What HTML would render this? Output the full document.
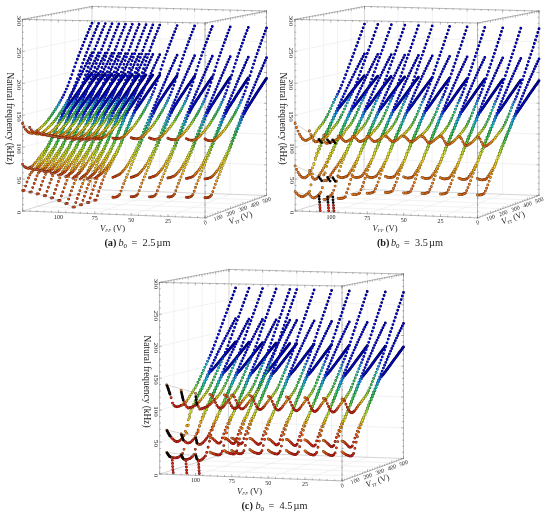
<!DOCTYPE html>
<html><head><meta charset="utf-8"><title>Natural frequency vs voltages</title>
<style>html,body{margin:0;padding:0;background:#fff}svg{display:block;filter:blur(.38px)}</style></head>
<body>
<svg width="550" height="517" viewBox="0 0 550 517" font-family="'Liberation Serif', serif" stroke-linecap="round">
<g transform="translate(0 0)">
<path d="M22.6 179.1L91.6 159M91.6 159L266.5 164.8M22.6 147.1L91.7 128.5M91.7 128.5L266.5 134M22.5 115.2L91.8 98M91.8 98L266.5 103.2M22.5 83.3L91.8 67.4M91.8 67.4L266.5 72.5M22.4 51.3L91.9 36.9M91.9 36.9L266.5 41.8M37.1 206.5L37 16.7M37.1 206.5L217.9 213.2M51.2 202.1L51.2 14M51.2 202.1L230.5 208.6M64.9 197.8L65.1 11.4M64.9 197.8L242.8 204.1M78.4 193.6L78.7 8.9M78.4 193.6L254.8 199.8M230.1 194.3L230.2 10M168 216.5L230.1 194.3M194.4 193L194.6 9.1M131.2 215.1L194.4 193M159.5 191.8L159.8 8.2M94.8 213.7L159.5 191.8M125.2 190.7L125.6 7.3M58.6 212.4L125.2 190.7" stroke="#e4e4e4" stroke-width=".5" fill="none"/>
<path d="M91.5 189.5L92 6.4M22.7 211L91.5 189.5M91.5 189.5L266.5 195.5" stroke="#aaa" stroke-width=".5" fill="none"/>
<path d="M22.7 211L22.4 19.4M205 217.9L205 23M266.5 195.5L266.5 11M22.4 19.4L92 6.4M92 6.4L266.5 11M266.5 11L205 23M205 23L22.4 19.4M22.7 211L205 217.9M205 217.9L266.5 195.5M22.7 211h2M266.5 195.5h-2M205 217.9h1.4M22.7 204.6h1M266.5 189.3h-1M205 211.4h0.7M22.7 198.2h1M266.5 183.2h-1M205 204.9h0.7M22.7 191.8h1M266.5 177.1h-1M205 198.4h0.7M22.7 185.5h1M266.5 170.9h-1M205 191.9h0.7M22.6 179.1h2M266.5 164.8h-2M205 185.4h1.4M22.6 172.7h1M266.5 158.6h-1M205 178.9h0.7M22.6 166.3h1M266.5 152.4h-1M205 172.4h0.7M22.6 159.9h1M266.5 146.3h-1M205 165.9h0.7M22.6 153.5h1M266.5 140.2h-1M205 159.4h0.7M22.6 147.1h2M266.5 134h-2M205 152.9h1.4M22.6 140.7h1M266.5 127.9h-1M205 146.4h0.7M22.6 134.4h1M266.5 121.7h-1M205 139.9h0.7M22.6 128h1M266.5 115.5h-1M205 133.4h0.7M22.6 121.6h1M266.5 109.4h-1M205 126.9h0.7M22.5 115.2h2M266.5 103.2h-2M205 120.5h1.4M22.5 108.8h1M266.5 97.1h-1M205 114h0.7M22.5 102.4h1M266.5 91h-1M205 107.5h0.7M22.5 96h1M266.5 84.8h-1M205 101h0.7M22.5 89.7h1M266.5 78.7h-1M205 94.5h0.7M22.5 83.3h2M266.5 72.5h-2M205 88h1.4M22.5 76.9h1M266.5 66.3h-1M205 81.5h0.7M22.5 70.5h1M266.5 60.2h-1M205 75h0.7M22.5 64.1h1M266.5 54h-1M205 68.5h0.7M22.5 57.7h1M266.5 47.9h-1M205 62h0.7M22.4 51.3h2M266.5 41.8h-2M205 55.5h1.4M22.4 44.9h1M266.5 35.6h-1M205 49h0.7M22.4 38.6h1M266.5 29.4h-1M205 42.5h0.7M22.4 32.2h1M266.5 23.3h-1M205 36h0.7M22.4 25.8h1M266.5 17.2h-1M205 29.5h0.7M22.4 19.4h2M266.5 11h-2M205 23h1.4M205 217.9v-2M205 23v2M266.5 11v2M197.6 217.6v-1M197.6 22.9v1M259.2 10.8v1M190.1 217.3v-1M190.1 22.7v1M251.9 10.6v1M182.7 217.1v-1M182.7 22.6v1M244.6 10.4v1M175.3 216.8v-1M175.3 22.4v1M237.4 10.2v1M168 216.5v-2M167.9 22.3v2M230.2 10v2M160.6 216.2v-1M160.5 22.1v1M223 9.9v1M153.2 215.9v-1M153.1 22v1M215.9 9.7v1M145.9 215.7v-1M145.8 21.8v1M208.8 9.5v1M138.5 215.4v-1M138.4 21.7v1M201.7 9.3v1M131.2 215.1v-2M131.1 21.5v2M194.6 9.1v2M123.9 214.8v-1M123.8 21.4v1M187.6 8.9v1M116.6 214.6v-1M116.4 21.3v1M180.6 8.7v1M109.3 214.3v-1M109.1 21.1v1M173.6 8.6v1M102 214v-1M101.9 21v1M166.7 8.4v1M94.8 213.7v-2M94.6 20.8v2M159.8 8.2v2M87.5 213.5v-1M87.3 20.7v1M152.9 8v1M80.3 213.2v-1M80 20.5v1M146 7.8v1M73 212.9v-1M72.8 20.4v1M139.2 7.6v1M65.8 212.6v-1M65.6 20.3v1M132.3 7.5v1M58.6 212.4v-2M58.3 20.1v2M125.6 7.3v2M51.4 212.1v-1M51.1 20v1M118.8 7.1v1M44.2 211.8v-1M43.9 19.8v1M112.1 6.9v1M37 211.5v-1M36.7 19.7v1M105.3 6.8v1M29.9 211.3v-1M29.6 19.5v1M98.7 6.6v1M22.7 211v-2M22.4 19.4v2M92 6.4v2M205 217.9v-2M22.4 19.4v2M205 23v2M207.6 217v-1M25.3 18.9v1M207.6 22.5v1M210.2 216v-1M28.3 18.3v1M210.2 22v1M212.8 215.1v-1M31.2 17.8v1M212.8 21.5v1M215.3 214.1v-1M34.1 17.2v1M215.3 21v1M217.9 213.2v-2M37 16.7v2M217.9 20.5v2M220.4 212.3v-1M39.9 16.1v1M220.4 20v1M223 211.4v-1M42.7 15.6v1M223 19.5v1M225.5 210.4v-1M45.6 15.1v1M225.5 19v1M228 209.5v-1M48.4 14.5v1M228 18.5v1M230.5 208.6v-2M51.2 14v2M230.5 18v2M232.9 207.7v-1M54 13.5v1M232.9 17.5v1M235.4 206.8v-1M56.8 13v1M235.4 17.1v1M237.9 205.9v-1M59.6 12.5v1M237.9 16.6v1M240.3 205v-1M62.4 11.9v1M240.3 16.1v1M242.8 204.1v-2M65.1 11.4v2M242.8 15.6v2M245.2 203.3v-1M67.9 10.9v1M245.2 15.2v1M247.6 202.4v-1M70.6 10.4v1M247.6 14.7v1M250 201.5v-1M73.3 9.9v1M250 14.2v1M252.4 200.6v-1M76 9.4v1M252.4 13.8v1M254.8 199.8v-2M78.7 8.9v2M254.8 13.3v2M257.1 198.9v-1M81.4 8.4v1M257.1 12.8v1M259.5 198.1v-1M84.1 7.9v1M259.5 12.4v1M261.8 197.2v-1M86.7 7.4v1M261.8 11.9v1M264.2 196.3v-1M89.4 6.9v1M264.2 11.5v1M266.5 195.5v-2M92 6.4v2M266.5 11v2" stroke="#727272" stroke-width=".5" fill="none"/>
<g fill="none" stroke-width="1.95"><path d="M92 23.2h0m-0.1 29.6h0m-0.1 20.5h0m6.8-49.9h0m-0.1 29.6h0m0 20.5h0" stroke="#00005a" stroke-width="2.85"/>
<path d="M92 23.2h0m-0.1 29.6h0m-0.1 20.5h0m6.8-49.9h0m-0.1 29.6h0m0 20.5h0" stroke="#0000c8"/>
<path d="M105.3 23.6h0m-0.1 29.6h0m0 20.5h0m6.8-49.9h0m-0.1 29.6h0m0 20.5h0" stroke="#00005a" stroke-width="2.85"/>
<path d="M105.3 23.6h0m-0.1 29.6h0m0 20.5h0m6.8-49.9h0m-0.1 29.6h0m0 20.5h0" stroke="#0000c8"/>
<path d="M118.8 24h0m-0.1 29.5h0m-0.1 20.6h0m6.9-49.9h0m0 29.5h0m-0.1 20.6h0" stroke="#00005a" stroke-width="2.85"/>
<path d="M118.8 24h0m-0.1 29.5h0m-0.1 20.6h0m6.9-49.9h0m0 29.5h0m-0.1 20.6h0" stroke="#0000c8"/>
<path d="M132.3 24.3h0m-0.1 29.6h0m0 20.6h0m6.9-50h0m0 29.6h0m-0.1 20.6h0" stroke="#00005a" stroke-width="2.85"/>
<path d="M132.3 24.3h0m-0.1 29.6h0m0 20.6h0m6.9-50h0m0 29.6h0m-0.1 20.6h0" stroke="#0000c8"/>
<path d="M146 24.7h0m-0.1 29.6h0m0 20.6h0m6.9-50h0m0 29.6h0m0 20.6h0" stroke="#00005a" stroke-width="2.85"/>
<path d="M146 24.7h0m-0.1 29.6h0m0 20.6h0m6.9-50h0m0 29.6h0m0 20.6h0" stroke="#0000c8"/>
<path d="M159.7 25.1h0m0 29.6h0m0 20.6h0" stroke="#00005a" stroke-width="2.85"/>
<path d="M159.7 25.1h0m0 29.6h0m0 20.6h0" stroke="#0000c8"/>
<path d="M177.1 25.6h0m0 29.6h0m-0.1 20.6h0m17.6-49.8h0m0 29.7h0m0 20.6h0m17.7-49.8h0m0 29.7h0m0 20.6h0m17.9-49.8h0m0 29.7h0m0 20.6h0m18.1-49.8h0m0 29.7h0m-0.1 20.7h0m18.3-49.9h0m0 29.7h0m0 20.7h0" stroke="#00005a" stroke-width="2.85"/>
<path d="M177.1 25.6h0m0 29.6h0m-0.1 20.6h0m17.6-49.8h0m0 29.7h0m0 20.6h0m17.7-49.8h0m0 29.7h0m0 20.6h0m17.9-49.8h0m0 29.7h0m0 20.6h0m18.1-49.8h0m0 29.7h0m-0.1 20.7h0m18.3-49.9h0m0 29.7h0m0 20.7h0" stroke="#0000c8"/>
<path d="M91.2 74.2h0" stroke="#00005a" stroke-width="2.85"/>
<path d="M91.2 74.2h0" stroke="#0000c8"/>
<path d="M97.8 74.3h0m6.7 0.2h0" stroke="#00005a" stroke-width="2.85"/>
<path d="M97.8 74.3h0m6.7 0.2h0" stroke="#0000c8"/>
<path d="M111.3 74.7h0m6.7 0.2h0" stroke="#00005a" stroke-width="2.85"/>
<path d="M111.3 74.7h0m6.7 0.2h0" stroke="#0000c8"/>
<path d="M124.8 75.1h0m6.8 0.2h0" stroke="#00005a" stroke-width="2.85"/>
<path d="M124.8 75.1h0m6.8 0.2h0" stroke="#0000c8"/>
<path d="M138.4 75.5h0m6.9 0.2h0m6.8 0.2h0" stroke="#00005a" stroke-width="2.85"/>
<path d="M138.4 75.5h0m6.9 0.2h0m6.8 0.2h0" stroke="#0000c8"/>
<path d="M159 76.1h0" stroke="#00005a" stroke-width="2.85"/>
<path d="M159 76.1h0" stroke="#0000c8"/>
<path d="M176.4 76.6h0m17.6 0.6h0m17.7 0.5h0m17.9 0.5h0m18.1 0.5h0m18.2 0.6h0" stroke="#00005a" stroke-width="2.85"/>
<path d="M176.4 76.6h0m17.6 0.6h0m17.7 0.5h0m17.9 0.5h0m18.1 0.5h0m18.2 0.6h0" stroke="#0001c9"/>
<path d="M90.6 26.3h0m0 29.1h0m-0.1 19.6h0" stroke="#00005a" stroke-width="2.85"/>
<path d="M90.6 26.3h0m0 29.1h0m-0.1 19.6h0" stroke="#0000c8"/>
<path d="M97.3 26.5h0m-0.1 29.1h0m0 19.6h0m6.8-48.6h0m-0.1 29.2h0m0 19.6h0" stroke="#00005a" stroke-width="2.85"/>
<path d="M97.3 26.5h0m-0.1 29.1h0m0 19.6h0m6.8-48.6h0m-0.1 29.2h0m0 19.6h0" stroke="#0000c8"/>
<path d="M110.7 26.8h0m0 29.2h0m-0.1 19.6h0m6.9-48.6h0m-0.1 29.2h0m0 19.6h0" stroke="#00005a" stroke-width="2.85"/>
<path d="M110.7 26.8h0m0 29.2h0m-0.1 19.6h0m6.9-48.6h0m-0.1 29.2h0m0 19.6h0" stroke="#0000c8"/>
<path d="M124.2 27.2h0m0 29.2h0m-0.1 19.6h0m6.9-48.6h0m0 29.2h0m-0.1 19.6h0" stroke="#00005a" stroke-width="2.85"/>
<path d="M124.2 27.2h0m0 29.2h0m-0.1 19.6h0m6.9-48.6h0m0 29.2h0m-0.1 19.6h0" stroke="#0000c8"/>
<path d="M137.9 27.6h0m-0.1 29.1h0m0 19.7h0m6.9-48.7h0m0 29.2h0m-0.1 19.7h0" stroke="#00005a" stroke-width="2.85"/>
<path d="M137.9 27.6h0m-0.1 29.1h0m0 19.7h0m6.9-48.7h0m0 29.2h0m-0.1 19.7h0" stroke="#0000c8"/>
<path d="M151.6 27.9h0m-0.1 29.2h0m0 19.7h0m7-48.7h0m0 29.2h0m-0.1 19.7h0" stroke="#00005a" stroke-width="2.85"/>
<path d="M151.6 27.9h0m-0.1 29.2h0m0 19.7h0m7-48.7h0m0 29.2h0m-0.1 19.7h0" stroke="#0001c9"/>
<path d="M175.9 28.6h0m-0.1 29.2h0m0 19.7h0m17.6-48.4h0m0 29.2h0m0 19.7h0m17.7-48.5h0m0 29.3h0m0 19.7h0m17.9-48.5h0m0 29.3h0m0 19.8h0m18.1-48.6h0m0 29.3h0m0 19.8h0m18.2-48.6h0m0 29.4h0m0 19.7h0" stroke="#00005b" stroke-width="2.85"/>
<path d="M175.9 28.6h0m-0.1 29.2h0m0 19.7h0m17.6-48.4h0m0 29.2h0m0 19.7h0m17.7-48.5h0m0 29.3h0m0 19.7h0m17.9-48.5h0m0 29.3h0m0 19.8h0m18.1-48.6h0m0 29.3h0m0 19.8h0m18.2-48.6h0m0 29.4h0m0 19.7h0" stroke="#0001c9"/>
<path d="M89.8 75.9h0m6.7 0.2h0" stroke="#00005a" stroke-width="2.85"/>
<path d="M89.8 75.9h0m6.7 0.2h0" stroke="#0000c8"/>
<path d="M103.2 76.3h0m6.8 0.2h0m6.7 0.2h0" stroke="#00005a" stroke-width="2.85"/>
<path d="M103.2 76.3h0m6.8 0.2h0m6.7 0.2h0" stroke="#0000c8"/>
<path d="M123.5 76.9h0m6.8 0.2h0" stroke="#00005a" stroke-width="2.85"/>
<path d="M123.5 76.9h0m6.8 0.2h0" stroke="#0000c8"/>
<path d="M137.1 77.3h0m6.9 0.2h0" stroke="#00005a" stroke-width="2.85"/>
<path d="M137.1 77.3h0m6.9 0.2h0" stroke="#0001c9"/>
<path d="M150.9 77.7h0m6.9 0.2h0" stroke="#00005b" stroke-width="2.85"/>
<path d="M150.9 77.7h0m6.9 0.2h0" stroke="#0001c9"/>
<path d="M175.2 78.4h0m17.6 0.5h0m17.7 0.5h0m17.9 0.5h0m18.1 0.6h0m18.3 0.5h0" stroke="#00015b" stroke-width="2.85"/>
<path d="M175.2 78.4h0m17.6 0.5h0m17.7 0.5h0m17.9 0.5h0m18.1 0.6h0m18.3 0.5h0" stroke="#0102cb"/>
<path d="M89.3 29.3h0m-0.1 28.7h0m0 18.7h0m6.8-47.2h0m-0.1 28.7h0m0 18.7h0" stroke="#00005a" stroke-width="2.85"/>
<path d="M89.3 29.3h0m-0.1 28.7h0m0 18.7h0m6.8-47.2h0m-0.1 28.7h0m0 18.7h0" stroke="#0000c8"/>
<path d="M102.7 29.7h0m-0.1 28.7h0m0 18.7h0m6.8-47.2h0m0 28.7h0m-0.1 18.7h0" stroke="#00005a" stroke-width="2.85"/>
<path d="M102.7 29.7h0m-0.1 28.7h0m0 18.7h0m6.8-47.2h0m0 28.7h0m-0.1 18.7h0" stroke="#0000c8"/>
<path d="M116.2 30.1h0m-0.1 28.7h0m0 18.7h0m6.9-47.2h0m-0.1 28.7h0m0 18.7h0" stroke="#00005a" stroke-width="2.85"/>
<path d="M116.2 30.1h0m-0.1 28.7h0m0 18.7h0m6.9-47.2h0m-0.1 28.7h0m0 18.7h0" stroke="#0001c9"/>
<path d="M129.8 30.4h0m-0.1 28.8h0m0 18.7h0m6.9-47.3h0m0 28.8h0m-0.1 18.7h0" stroke="#00005b" stroke-width="2.85"/>
<path d="M129.8 30.4h0m-0.1 28.8h0m0 18.7h0m6.9-47.3h0m0 28.8h0m-0.1 18.7h0" stroke="#0001c9"/>
<path d="M143.5 30.8h0m-0.1 28.8h0m0 18.7h0m7-47.3h0m-0.1 28.8h0m0 18.7h0" stroke="#00015b" stroke-width="2.85"/>
<path d="M143.5 30.8h0m-0.1 28.8h0m0 18.7h0m7-47.3h0m-0.1 28.8h0m0 18.7h0" stroke="#0102ca"/>
<path d="M157.3 31.2h0m-0.1 28.8h0m0 18.7h0" stroke="#00015b" stroke-width="2.85"/>
<path d="M157.3 31.2h0m-0.1 28.8h0m0 18.7h0" stroke="#0102cb"/>
<path d="M174.7 31.7h0m-0.1 28.8h0m0 18.7h0m17.6-47.1h0m0 28.9h0m0 18.8h0m17.7-47.2h0m0 28.9h0m0 18.8h0m17.9-47.2h0m0 28.9h0m0 18.8h0m18.1-47.2h0m0 28.9h0m0 18.8h0m18.3-47.2h0m0 28.9h0m0 18.9h0" stroke="#00015c" stroke-width="2.85"/>
<path d="M174.7 31.7h0m-0.1 28.8h0m0 18.7h0m17.6-47.1h0m0 28.9h0m0 18.8h0m17.7-47.2h0m0 28.9h0m0 18.8h0m17.9-47.2h0m0 28.9h0m0 18.8h0m18.1-47.2h0m0 28.9h0m0 18.8h0m18.3-47.2h0m0 28.9h0m0 18.9h0" stroke="#0103cb"/>
<path d="M88.5 77.6h0m6.7 0.2h0" stroke="#00005a" stroke-width="2.85"/>
<path d="M88.5 77.6h0m6.7 0.2h0" stroke="#0000c8"/>
<path d="M101.9 78h0m6.8 0.2h0" stroke="#00005a" stroke-width="2.85"/>
<path d="M101.9 78h0m6.8 0.2h0" stroke="#0001c9"/>
<path d="M115.4 78.4h0m6.8 0.2h0" stroke="#00005b" stroke-width="2.85"/>
<path d="M115.4 78.4h0m6.8 0.2h0" stroke="#0001c9"/>
<path d="M129 78.8h0m6.9 0.2h0" stroke="#00015b" stroke-width="2.85"/>
<path d="M129 78.8h0m6.9 0.2h0" stroke="#0102ca"/>
<path d="M142.8 79.2h0m6.9 0.2h0" stroke="#00015b" stroke-width="2.85"/>
<path d="M142.8 79.2h0m6.9 0.2h0" stroke="#0102cb"/>
<path d="M156.6 79.6h0" stroke="#00015c" stroke-width="2.85"/>
<path d="M156.6 79.6h0" stroke="#0103cb"/>
<path d="M174 80.1h0m17.6 0.5h0m17.7 0.6h0m17.9 0.5h0m18.1 0.5h0m18.3 0.5h0" stroke="#01015c" stroke-width="2.85"/>
<path d="M174 80.1h0m17.6 0.5h0m17.7 0.6h0m17.9 0.5h0m18.1 0.5h0m18.3 0.5h0" stroke="#0103cc"/>
<path d="M88 32.5h0m-0.1 28.2h0m0 17.8h0" stroke="#00005a" stroke-width="2.85"/>
<path d="M88 32.5h0m-0.1 28.2h0m0 17.8h0" stroke="#0001c9"/>
<path d="M94.7 32.7h0m-0.1 28.2h0m0 17.8h0m6.8-45.9h0m-0.1 28.3h0m0 17.8h0" stroke="#00005b" stroke-width="2.85"/>
<path d="M94.7 32.7h0m-0.1 28.2h0m0 17.8h0m6.8-45.9h0m-0.1 28.3h0m0 17.8h0" stroke="#0001c9"/>
<path d="M108.1 33h0m0 28.3h0m-0.1 17.8h0m6.9-45.9h0m-0.1 28.3h0m0 17.8h0m6.9-45.9h0m-0.1 28.3h0m0 17.8h0" stroke="#00015b" stroke-width="2.85"/>
<path d="M108.1 33h0m0 28.3h0m-0.1 17.8h0m6.9-45.9h0m-0.1 28.3h0m0 17.8h0m6.9-45.9h0m-0.1 28.3h0m0 17.8h0" stroke="#0102ca"/>
<path d="M128.5 33.6h0m-0.1 28.2h0m0 17.9h0m6.9-45.9h0m0 28.2h0m0 17.9h0" stroke="#00015b" stroke-width="2.85"/>
<path d="M128.5 33.6h0m-0.1 28.2h0m0 17.9h0m6.9-45.9h0m0 28.2h0m0 17.9h0" stroke="#0102cb"/>
<path d="M142.2 33.9h0m0 28.3h0m-0.1 17.9h0m7-46h0m0 28.3h0m-0.1 17.9h0" stroke="#00015c" stroke-width="2.85"/>
<path d="M142.2 33.9h0m0 28.3h0m-0.1 17.9h0m7-46h0m0 28.3h0m-0.1 17.9h0" stroke="#0103cb"/>
<path d="M156 34.3h0m0 28.3h0m0 17.9h0" stroke="#01015c" stroke-width="2.85"/>
<path d="M156 34.3h0m0 28.3h0m0 17.9h0" stroke="#0103cc"/>
<path d="M173.4 34.8h0m0 28.3h0m0 17.9h0m17.6-45.7h0m0 28.3h0m0 17.9h0m17.8-45.7h0m-0.1 28.3h0m0 17.9h0m18-45.8h0m-0.1 28.4h0m0 18h0m18.1-45.9h0m0 28.5h0m0 17.9h0m18.3-45.9h0m0 28.5h0m0 17.9h0" stroke="#01025c" stroke-width="2.85"/>
<path d="M173.4 34.8h0m0 28.3h0m0 17.9h0m17.6-45.7h0m0 28.3h0m0 17.9h0m17.8-45.7h0m-0.1 28.3h0m0 17.9h0m18-45.8h0m-0.1 28.4h0m0 18h0m18.1-45.9h0m0 28.5h0m0 17.9h0m18.3-45.9h0m0 28.5h0m0 17.9h0" stroke="#0104cd"/>
<path d="M87.2 79.4h0" stroke="#00005b" stroke-width="2.85"/>
<path d="M87.2 79.4h0" stroke="#0001c9"/>
<path d="M93.9 79.6h0m6.7 0.2h0" stroke="#00015b" stroke-width="2.85"/>
<path d="M93.9 79.6h0m6.7 0.2h0" stroke="#0102ca"/>
<path d="M107.4 80h0m6.8 0.2h0" stroke="#00015b" stroke-width="2.85"/>
<path d="M107.4 80h0m6.8 0.2h0" stroke="#0102cb"/>
<path d="M121 80.4h0m6.8 0.2h0" stroke="#00015c" stroke-width="2.85"/>
<path d="M121 80.4h0m6.8 0.2h0" stroke="#0103cb"/>
<path d="M134.6 80.8h0m6.9 0.2h0" stroke="#01015c" stroke-width="2.85"/>
<path d="M134.6 80.8h0m6.9 0.2h0" stroke="#0103cc"/>
<path d="M148.4 81.2h0m6.9 0.2h0" stroke="#01025c" stroke-width="2.85"/>
<path d="M148.4 81.2h0m6.9 0.2h0" stroke="#0104cd"/>
<path d="M172.8 81.9h0m17.6 0.5h0m17.7 0.5h0m17.9 0.5h0m18.1 0.6h0m18.3 0.5h0" stroke="#01025c" stroke-width="2.85"/>
<path d="M172.8 81.9h0m17.6 0.5h0m17.7 0.5h0m17.9 0.5h0m18.1 0.6h0m18.3 0.5h0" stroke="#0204cd"/>
<path d="M86.7 35.7h0m-0.1 27.7h0m-0.1 16.8h0" stroke="#00015b" stroke-width="2.85"/>
<path d="M86.7 35.7h0m-0.1 27.7h0m-0.1 16.8h0" stroke="#0102ca"/>
<path d="M93.4 35.8h0m-0.1 27.8h0m0 16.8h0m6.8-44.4h0m-0.1 27.7h0m0 16.9h0" stroke="#00015b" stroke-width="2.85"/>
<path d="M93.4 35.8h0m-0.1 27.8h0m0 16.8h0m6.8-44.4h0m-0.1 27.7h0m0 16.9h0" stroke="#0102cb"/>
<path d="M106.8 36.2h0m0 27.7h0m-0.1 16.9h0m6.9-44.4h0m-0.1 27.7h0m0 16.9h0" stroke="#00015c" stroke-width="2.85"/>
<path d="M106.8 36.2h0m0 27.7h0m-0.1 16.9h0m6.9-44.4h0m-0.1 27.7h0m0 16.9h0" stroke="#0103cb"/>
<path d="M120.4 36.6h0m0 27.7h0m-0.1 16.9h0m6.9-44.4h0m0 27.7h0m-0.1 16.9h0" stroke="#01015c" stroke-width="2.85"/>
<path d="M120.4 36.6h0m0 27.7h0m-0.1 16.9h0m6.9-44.4h0m0 27.7h0m-0.1 16.9h0" stroke="#0103cc"/>
<path d="M134.1 36.9h0m-0.1 27.8h0m0 16.9h0m7-44.5h0m-0.1 27.8h0m0 16.9h0" stroke="#01025c" stroke-width="2.85"/>
<path d="M134.1 36.9h0m-0.1 27.8h0m0 16.9h0m7-44.5h0m-0.1 27.8h0m0 16.9h0" stroke="#0104cd"/>
<path d="M147.9 37.3h0m-0.1 27.8h0m0 16.9h0m7-44.5h0m-0.1 27.8h0m0 16.9h0" stroke="#01025c" stroke-width="2.85"/>
<path d="M147.9 37.3h0m-0.1 27.8h0m0 16.9h0m7-44.5h0m-0.1 27.8h0m0 16.9h0" stroke="#0204cd"/>
<path d="M172.2 38h0m0 27.8h0m0 17h0m17.6-44.3h0m0 27.8h0m0 17h0m17.8-44.4h0m-0.1 27.9h0m0 17h0m18-44.4h0m0 27.9h0m0 17h0m18.1-44.4h0m0 27.9h0m0 17h0m18.2-44.4h0m0 28h0m0 17h0" stroke="#01025d" stroke-width="2.85"/>
<path d="M172.2 38h0m0 27.8h0m0 17h0m17.6-44.3h0m0 27.8h0m0 17h0m17.8-44.4h0m-0.1 27.9h0m0 17h0m18-44.4h0m0 27.9h0m0 17h0m18.1-44.4h0m0 27.9h0m0 17h0m18.2-44.4h0m0 28h0m0 17h0" stroke="#0205ce"/>
<path d="M85.9 81.1h0m6.7 0.2h0" stroke="#00015c" stroke-width="2.85"/>
<path d="M85.9 81.1h0m6.7 0.2h0" stroke="#0103cb"/>
<path d="M99.3 81.5h0m6.8 0.2h0" stroke="#01015c" stroke-width="2.85"/>
<path d="M99.3 81.5h0m6.8 0.2h0" stroke="#0103cc"/>
<path d="M112.9 81.9h0m6.8 0.2h0" stroke="#01025c" stroke-width="2.85"/>
<path d="M112.9 81.9h0m6.8 0.2h0" stroke="#0104cd"/>
<path d="M126.5 82.3h0m6.9 0.2h0" stroke="#01025c" stroke-width="2.85"/>
<path d="M126.5 82.3h0m6.9 0.2h0" stroke="#0204cd"/>
<path d="M140.3 82.7h0m6.9 0.2h0m6.9 0.2h0" stroke="#01025d" stroke-width="2.85"/>
<path d="M140.3 82.7h0m6.9 0.2h0m6.9 0.2h0" stroke="#0205ce"/>
<path d="M171.5 83.6h0m17.6 0.6h0m17.8 0.5h0m18 0.5h0m18.1 0.5h0m18.3 0.6h0" stroke="#01035d" stroke-width="2.85"/>
<path d="M171.5 83.6h0m17.6 0.6h0m17.8 0.5h0m18 0.5h0m18.1 0.5h0m18.3 0.6h0" stroke="#0206cf"/>
<path d="M85.3 38.9h0m0 27.2h0m-0.1 15.9h0m6.8-42.9h0m0 27.1h0m-0.1 16h0" stroke="#01015c" stroke-width="2.85"/>
<path d="M85.3 38.9h0m0 27.2h0m-0.1 15.9h0m6.8-42.9h0m0 27.1h0m-0.1 16h0" stroke="#0103cc"/>
<path d="M98.8 39.2h0m-0.1 27.2h0m0 16h0m6.8-43h0m0 27.2h0m-0.1 16h0" stroke="#01025c" stroke-width="2.85"/>
<path d="M98.8 39.2h0m-0.1 27.2h0m0 16h0m6.8-43h0m0 27.2h0m-0.1 16h0" stroke="#0104cd"/>
<path d="M112.3 39.6h0m0 27.2h0m-0.1 16h0m6.9-43h0m0 27.2h0m-0.1 16h0" stroke="#01025c" stroke-width="2.85"/>
<path d="M112.3 39.6h0m0 27.2h0m-0.1 16h0m6.9-43h0m0 27.2h0m-0.1 16h0" stroke="#0204cd"/>
<path d="M126 40h0m-0.1 27.2h0m0 16h0m6.9-43h0m0 27.2h0m-0.1 16h0" stroke="#01025d" stroke-width="2.85"/>
<path d="M126 40h0m-0.1 27.2h0m0 16h0m6.9-43h0m0 27.2h0m-0.1 16h0" stroke="#0205ce"/>
<path d="M139.7 40.4h0m-0.1 27.2h0m0 16h0m7-43.1h0m0 27.3h0m-0.1 16h0" stroke="#01025d" stroke-width="2.85"/>
<path d="M139.7 40.4h0m-0.1 27.2h0m0 16h0m7-43.1h0m0 27.3h0m-0.1 16h0" stroke="#0205cf"/>
<path d="M153.5 40.7h0m0 27.3h0m0 16h0" stroke="#01035d" stroke-width="2.85"/>
<path d="M153.5 40.7h0m0 27.3h0m0 16h0" stroke="#0206cf"/>
<path d="M171 41.2h0m-0.1 27.3h0m0 16h0m17.7-42.8h0m0 27.3h0m-0.1 16h0m17.9-42.8h0m-0.1 27.3h0m0 16.1h0m18-42.9h0m0 27.3h0m0 16.1h0m18.1-42.9h0m0 27.3h0m0 16.1h0m18.3-43h0m0 27.5h0m0 16.1h0" stroke="#01035e" stroke-width="2.85"/>
<path d="M171 41.2h0m-0.1 27.3h0m0 16h0m17.7-42.8h0m0 27.3h0m-0.1 16h0m17.9-42.8h0m-0.1 27.3h0m0 16.1h0m18-42.9h0m0 27.3h0m0 16.1h0m18.1-42.9h0m0 27.3h0m0 16.1h0m18.3-43h0m0 27.5h0m0 16.1h0" stroke="#0306d0"/>
<path d="M84.6 82.9h0" stroke="#01025c" stroke-width="2.85"/>
<path d="M84.6 82.9h0" stroke="#0104cd"/>
<path d="M91.3 83.1h0m6.7 0.2h0m6.8 0.2h0" stroke="#01025c" stroke-width="2.85"/>
<path d="M91.3 83.1h0m6.7 0.2h0m6.8 0.2h0" stroke="#0204cd"/>
<path d="M111.6 83.7h0m6.8 0.2h0" stroke="#01025d" stroke-width="2.85"/>
<path d="M111.6 83.7h0m6.8 0.2h0" stroke="#0205ce"/>
<path d="M125.2 84.1h0m6.9 0.2h0" stroke="#01025d" stroke-width="2.85"/>
<path d="M125.2 84.1h0m6.9 0.2h0" stroke="#0205cf"/>
<path d="M139 84.5h0m6.9 0.2h0" stroke="#01035d" stroke-width="2.85"/>
<path d="M139 84.5h0m6.9 0.2h0" stroke="#0206cf"/>
<path d="M152.8 84.9h0" stroke="#01035e" stroke-width="2.85"/>
<path d="M152.8 84.9h0" stroke="#0306d0"/>
<path d="M170.3 85.4h0m17.6 0.5h0m17.8 0.6h0m18 0.5h0m18.1 0.5h0m18.3 0.5h0" stroke="#01035e" stroke-width="2.85"/>
<path d="M170.3 85.4h0m17.6 0.5h0m17.8 0.6h0m18 0.5h0m18.1 0.5h0m18.3 0.5h0" stroke="#0307d1"/>
<path d="M84 42.1h0m-0.1 26.7h0m0 15h0" stroke="#01025c" stroke-width="2.85"/>
<path d="M84 42.1h0m-0.1 26.7h0m0 15h0" stroke="#0204cd"/>
<path d="M90.7 42.3h0m0 26.6h0m-0.1 15.1h0m6.9-41.5h0m-0.1 26.6h0m0 15.1h0" stroke="#01025d" stroke-width="2.85"/>
<path d="M90.7 42.3h0m0 26.6h0m-0.1 15.1h0m6.9-41.5h0m-0.1 26.6h0m0 15.1h0" stroke="#0205ce"/>
<path d="M104.2 42.7h0m0 26.6h0m-0.1 15.1h0m6.9-41.5h0m0 26.6h0m-0.1 15.1h0" stroke="#01025d" stroke-width="2.85"/>
<path d="M104.2 42.7h0m0 26.6h0m-0.1 15.1h0m6.9-41.5h0m0 26.6h0m-0.1 15.1h0" stroke="#0205cf"/>
<path d="M117.8 43.1h0m0 26.6h0m0 15.1h0m6.9-41.5h0m-0.1 26.6h0m0 15.1h0" stroke="#01035d" stroke-width="2.85"/>
<path d="M117.8 43.1h0m0 26.6h0m0 15.1h0m6.9-41.5h0m-0.1 26.6h0m0 15.1h0" stroke="#0206cf"/>
<path d="M131.5 43.4h0m0 26.7h0m0 15.1h0m6.9-41.6h0m0 26.7h0m0 15.1h0" stroke="#01035e" stroke-width="2.85"/>
<path d="M131.5 43.4h0m0 26.7h0m0 15.1h0m6.9-41.6h0m0 26.7h0m0 15.1h0" stroke="#0306d0"/>
<path d="M145.3 43.8h0m0 26.7h0m0 15.1h0m7-41.6h0m-0.1 26.7h0m0 15.1h0" stroke="#01035e" stroke-width="2.85"/>
<path d="M145.3 43.8h0m0 26.7h0m0 15.1h0m7-41.6h0m-0.1 26.7h0m0 15.1h0" stroke="#0307d1"/>
<path d="M169.7 44.5h0m0 26.7h0m0 15.1h0m17.7-41.3h0m-0.1 26.7h0m0 15.1h0m17.8-41.3h0m0 26.7h0m0 15.1h0m18-41.4h0m0 26.8h0m0 15.2h0m18.1-41.5h0m0 26.9h0m0 15.1h0m18.3-41.5h0m0 26.9h0m0 15.1h0" stroke="#01035e" stroke-width="2.85"/>
<path d="M169.7 44.5h0m0 26.7h0m0 15.1h0m17.7-41.3h0m-0.1 26.7h0m0 15.1h0m17.8-41.3h0m0 26.7h0m0 15.1h0m18-41.4h0m0 26.8h0m0 15.2h0m18.1-41.5h0m0 26.9h0m0 15.1h0m18.3-41.5h0m0 26.9h0m0 15.1h0" stroke="#0307d1"/>
<path d="M83.2 84.7h0" stroke="#01025d" stroke-width="2.85"/>
<path d="M83.2 84.7h0" stroke="#0205ce"/>
<path d="M90 84.9h0m6.7 0.2h0" stroke="#01025d" stroke-width="2.85"/>
<path d="M90 84.9h0m6.7 0.2h0" stroke="#0205cf"/>
<path d="M103.5 85.3h0m6.8 0.2h0" stroke="#01035d" stroke-width="2.85"/>
<path d="M103.5 85.3h0m6.8 0.2h0" stroke="#0206cf"/>
<path d="M117.1 85.7h0m6.9 0.2h0" stroke="#01035e" stroke-width="2.85"/>
<path d="M117.1 85.7h0m6.9 0.2h0" stroke="#0306d0"/>
<path d="M130.8 86.1h0m6.9 0.2h0" stroke="#01035e" stroke-width="2.85"/>
<path d="M130.8 86.1h0m6.9 0.2h0" stroke="#0307d1"/>
<path d="M144.7 86.5h0m6.9 0.2h0" stroke="#01035e" stroke-width="2.85"/>
<path d="M144.7 86.5h0m6.9 0.2h0" stroke="#0307d1"/>
<path d="M169.1 87.2h0m17.6 0.5h0m17.8 0.5h0m18 0.6h0m18.1 0.5h0m18.3 0.5h0" stroke="#01035f" stroke-width="2.85"/>
<path d="M169.1 87.2h0m17.6 0.5h0m17.8 0.5h0m18 0.6h0m18.1 0.5h0m18.3 0.5h0" stroke="#0308d2"/>
<path d="M82.7 45.5h0m-0.1 26h0m0 14.1h0m6.8-39.9h0m-0.1 26h0m0 14.1h0" stroke="#01035d" stroke-width="2.85"/>
<path d="M82.7 45.5h0m-0.1 26h0m0 14.1h0m6.8-39.9h0m-0.1 26h0m0 14.1h0" stroke="#0206cf"/>
<path d="M96.1 45.8h0m0 26.1h0m0 14.1h0m6.8-40h0m0 26.1h0m-0.1 14.1h0" stroke="#01035e" stroke-width="2.85"/>
<path d="M96.1 45.8h0m0 26.1h0m0 14.1h0m6.8-40h0m0 26.1h0m-0.1 14.1h0" stroke="#0306d0"/>
<path d="M109.7 46.2h0m0 26.1h0m-0.1 14.1h0m6.9-40h0m0 26.1h0m0 14.1h0" stroke="#01035e" stroke-width="2.85"/>
<path d="M109.7 46.2h0m0 26.1h0m-0.1 14.1h0m6.9-40h0m0 26.1h0m0 14.1h0" stroke="#0307d1"/>
<path d="M123.4 46.6h0m-0.1 26h0m0 14.2h0m7-40h0m-0.1 26h0m0 14.2h0m7-40h0m-0.1 26h0m0 14.2h0" stroke="#01035e" stroke-width="2.85"/>
<path d="M123.4 46.6h0m-0.1 26h0m0 14.2h0m7-40h0m-0.1 26h0m0 14.2h0m7-40h0m-0.1 26h0m0 14.2h0" stroke="#0307d1"/>
<path d="M144.1 47.1h0m-0.1 26.1h0m0 14.2h0m7-40.1h0m0 26.1h0m0 14.2h0" stroke="#01035f" stroke-width="2.85"/>
<path d="M144.1 47.1h0m-0.1 26.1h0m0 14.2h0m7-40.1h0m0 26.1h0m0 14.2h0" stroke="#0308d2"/>
<path d="M168.5 47.8h0m0 26.1h0m0 14.2h0m17.6-39.8h0m0 26.1h0m0 14.2h0m17.8-39.8h0m0 26.2h0m0 14.1h0m18-39.8h0m0 26.2h0m0 14.2h0m18.1-39.9h0m0 26.2h0m0 14.2h0m18.3-39.9h0m0 26.2h0m0 14.2h0" stroke="#02045f" stroke-width="2.85"/>
<path d="M168.5 47.8h0m0 26.1h0m0 14.2h0m17.6-39.8h0m0 26.1h0m0 14.2h0m17.8-39.8h0m0 26.2h0m0 14.1h0m18-39.8h0m0 26.2h0m0 14.2h0m18.1-39.9h0m0 26.2h0m0 14.2h0m18.3-39.9h0m0 26.2h0m0 14.2h0" stroke="#0409d4"/>
<path d="M81.9 86.5h0m6.7 0.2h0" stroke="#01035e" stroke-width="2.85"/>
<path d="M81.9 86.5h0m6.7 0.2h0" stroke="#0306d0"/>
<path d="M95.4 86.9h0m6.8 0.2h0" stroke="#01035e" stroke-width="2.85"/>
<path d="M95.4 86.9h0m6.8 0.2h0" stroke="#0307d1"/>
<path d="M109 87.3h0m6.8 0.2h0" stroke="#01035e" stroke-width="2.85"/>
<path d="M109 87.3h0m6.8 0.2h0" stroke="#0307d1"/>
<path d="M122.7 87.7h0m6.9 0.2h0" stroke="#01035f" stroke-width="2.85"/>
<path d="M122.7 87.7h0m6.9 0.2h0" stroke="#0308d2"/>
<path d="M136.5 88.1h0m6.9 0.2h0" stroke="#02045f" stroke-width="2.85"/>
<path d="M136.5 88.1h0m6.9 0.2h0" stroke="#0308d3"/>
<path d="M150.4 88.5h0" stroke="#02045f" stroke-width="2.85"/>
<path d="M150.4 88.5h0" stroke="#0409d4"/>
<path d="M167.8 89h0m17.7 0.5h0m17.8 0.5h0m18 0.6h0m18.1 0.5h0m18.3 0.5h0" stroke="#02045f" stroke-width="2.85"/>
<path d="M167.8 89h0m17.7 0.5h0m17.8 0.5h0m18 0.6h0m18.1 0.5h0m18.3 0.5h0" stroke="#0409d4"/>
<path d="M81.3 48.8h0m0 25.4h0m-0.1 13.2h0" stroke="#01035e" stroke-width="2.85"/>
<path d="M81.3 48.8h0m0 25.4h0m-0.1 13.2h0" stroke="#0307d1"/>
<path d="M88.1 49h0m-0.1 25.4h0m0 13.2h0m6.8-38.4h0m0 25.4h0m-0.1 13.2h0m6.9-38.4h0m0 25.4h0m-0.1 13.2h0" stroke="#01035e" stroke-width="2.85"/>
<path d="M88.1 49h0m-0.1 25.4h0m0 13.2h0m6.8-38.4h0m0 25.4h0m-0.1 13.2h0m6.9-38.4h0m0 25.4h0m-0.1 13.2h0" stroke="#0307d1"/>
<path d="M108.4 49.6h0m0 25.4h0m-0.1 13.2h0m6.9-38.4h0m0 25.4h0m0 13.2h0" stroke="#01035f" stroke-width="2.85"/>
<path d="M108.4 49.6h0m0 25.4h0m-0.1 13.2h0m6.9-38.4h0m0 25.4h0m0 13.2h0" stroke="#0308d2"/>
<path d="M122.1 50h0m0 25.4h0m-0.1 13.2h0m7-38.5h0m-0.1 25.5h0m0 13.2h0" stroke="#02045f" stroke-width="2.85"/>
<path d="M122.1 50h0m0 25.4h0m-0.1 13.2h0m7-38.5h0m-0.1 25.5h0m0 13.2h0" stroke="#0308d3"/>
<path d="M135.9 50.3h0m0 25.5h0m-0.1 13.2h0m7-38.5h0m0 25.5h0m0 13.2h0" stroke="#02045f" stroke-width="2.85"/>
<path d="M135.9 50.3h0m0 25.5h0m-0.1 13.2h0m7-38.5h0m0 25.5h0m0 13.2h0" stroke="#0409d4"/>
<path d="M149.8 50.7h0m-0.1 25.5h0m0 13.2h0" stroke="#02045f" stroke-width="2.85"/>
<path d="M149.8 50.7h0m-0.1 25.5h0m0 13.2h0" stroke="#0409d4"/>
<path d="M167.3 51.2h0m-0.1 25.5h0m0 13.2h0m17.7-38.2h0m0 25.5h0m0 13.2h0m17.8-38.2h0m0 25.5h0m0 13.3h0m18-38.3h0m0 25.5h0m0 13.3h0m18.1-38.3h0m0 25.5h0m0 13.3h0m18.3-38.3h0m0 25.6h0m0 13.3h0" stroke="#020460" stroke-width="2.85"/>
<path d="M167.3 51.2h0m-0.1 25.5h0m0 13.2h0m17.7-38.2h0m0 25.5h0m0 13.2h0m17.8-38.2h0m0 25.5h0m0 13.3h0m18-38.3h0m0 25.5h0m0 13.3h0m18.1-38.3h0m0 25.5h0m0 13.3h0m18.3-38.3h0m0 25.6h0m0 13.3h0" stroke="#040ad5"/>
<path d="M80.6 88.3h0" stroke="#01035e" stroke-width="2.85"/>
<path d="M80.6 88.3h0" stroke="#0307d1"/>
<path d="M87.3 88.5h0m6.8 0.2h0" stroke="#01035f" stroke-width="2.85"/>
<path d="M87.3 88.5h0m6.8 0.2h0" stroke="#0308d2"/>
<path d="M100.9 88.9h0m6.8 0.2h0" stroke="#02045f" stroke-width="2.85"/>
<path d="M100.9 88.9h0m6.8 0.2h0" stroke="#0308d3"/>
<path d="M114.5 89.3h0m6.9 0.2h0" stroke="#02045f" stroke-width="2.85"/>
<path d="M114.5 89.3h0m6.9 0.2h0" stroke="#0409d4"/>
<path d="M128.3 89.7h0m6.9 0.2h0" stroke="#02045f" stroke-width="2.85"/>
<path d="M128.3 89.7h0m6.9 0.2h0" stroke="#0409d4"/>
<path d="M142.1 90.1h0m7 0.2h0" stroke="#020460" stroke-width="2.85"/>
<path d="M142.1 90.1h0m7 0.2h0" stroke="#040ad5"/>
<path d="M166.6 90.8h0m17.7 0.5h0m17.8 0.6h0m18 0.5h0m18.1 0.5h0m18.3 0.6h0" stroke="#020560" stroke-width="2.85"/>
<path d="M166.6 90.8h0m17.7 0.5h0m17.8 0.6h0m18 0.5h0m18.1 0.5h0m18.3 0.6h0" stroke="#040ad6"/>
<path d="M80 52.2h0m-0.1 24.8h0m0 12.2h0" stroke="#01035f" stroke-width="2.85"/>
<path d="M80 52.2h0m-0.1 24.8h0m0 12.2h0" stroke="#0308d2"/>
<path d="M86.7 52.4h0m0 24.8h0m0 12.2h0m6.8-36.8h0m-0.1 24.8h0m0 12.2h0" stroke="#02045f" stroke-width="2.85"/>
<path d="M86.7 52.4h0m0 24.8h0m0 12.2h0m6.8-36.8h0m-0.1 24.8h0m0 12.2h0" stroke="#0308d3"/>
<path d="M100.3 52.8h0m-0.1 24.8h0m0 12.2h0m6.9-36.8h0m0 24.8h0m-0.1 12.2h0" stroke="#02045f" stroke-width="2.85"/>
<path d="M100.3 52.8h0m-0.1 24.8h0m0 12.2h0m6.9-36.8h0m0 24.8h0m-0.1 12.2h0" stroke="#0409d4"/>
<path d="M113.9 53.2h0m0 24.8h0m0 12.2h0m6.9-36.8h0m0 24.8h0m0 12.2h0" stroke="#02045f" stroke-width="2.85"/>
<path d="M113.9 53.2h0m0 24.8h0m0 12.2h0m6.9-36.8h0m0 24.8h0m0 12.2h0" stroke="#0409d4"/>
<path d="M127.7 53.6h0m0 24.8h0m0 12.2h0m6.9-36.9h0m0 24.8h0m0 12.3h0" stroke="#020460" stroke-width="2.85"/>
<path d="M127.7 53.6h0m0 24.8h0m0 12.2h0m6.9-36.9h0m0 24.8h0m0 12.3h0" stroke="#040ad5"/>
<path d="M141.6 53.9h0m-0.1 24.8h0m0 12.3h0m7-36.9h0m0 24.8h0m0 12.3h0" stroke="#020560" stroke-width="2.85"/>
<path d="M141.6 53.9h0m-0.1 24.8h0m0 12.3h0m7-36.9h0m0 24.8h0m0 12.3h0" stroke="#040ad6"/>
<path d="M166 54.6h0m0 24.9h0m0 12.2h0m17.7-36.6h0m0 24.9h0m0 12.3h0m17.8-36.7h0m0 24.9h0m0 12.3h0m18-36.7h0m0 24.9h0m0 12.3h0m18.1-36.7h0m0 24.9h0m0 12.3h0m18.3-36.7h0m0 24.9h0m0 12.4h0" stroke="#020560" stroke-width="2.85"/>
<path d="M166 54.6h0m0 24.9h0m0 12.2h0m17.7-36.6h0m0 24.9h0m0 12.3h0m17.8-36.7h0m0 24.9h0m0 12.3h0m18-36.7h0m0 24.9h0m0 12.3h0m18.1-36.7h0m0 24.9h0m0 12.3h0m18.3-36.7h0m0 24.9h0m0 12.4h0" stroke="#040bd6"/>
<path d="M79.2 90.1h0m6.8 0.2h0" stroke="#02045f" stroke-width="2.85"/>
<path d="M79.2 90.1h0m6.8 0.2h0" stroke="#0409d4"/>
<path d="M92.8 90.5h0m6.8 0.2h0" stroke="#02045f" stroke-width="2.85"/>
<path d="M92.8 90.5h0m6.8 0.2h0" stroke="#0409d4"/>
<path d="M106.4 90.9h0m6.8 0.2h0" stroke="#020460" stroke-width="2.85"/>
<path d="M106.4 90.9h0m6.8 0.2h0" stroke="#040ad5"/>
<path d="M120.1 91.3h0m6.9 0.2h0m6.9 0.2h0" stroke="#020560" stroke-width="2.85"/>
<path d="M120.1 91.3h0m6.9 0.2h0m6.9 0.2h0" stroke="#040ad6"/>
<path d="M140.9 91.9h0m6.9 0.2h0" stroke="#020560" stroke-width="2.85"/>
<path d="M140.9 91.9h0m6.9 0.2h0" stroke="#040bd6"/>
<path d="M165.4 92.7h0m17.7 0.5h0m17.8 0.5h0m18 0.5h0m18.1 0.6h0m18.4 0.5h0" stroke="#020561" stroke-width="2.85"/>
<path d="M165.4 92.7h0m17.7 0.5h0m17.8 0.5h0m18 0.5h0m18.1 0.6h0m18.4 0.5h0" stroke="#050cd8"/>
<path d="M78.6 55.7h0m0 24.1h0m0 11.2h0m6.8-35.1h0m-0.1 24h0m0 11.3h0" stroke="#02045f" stroke-width="2.85"/>
<path d="M78.6 55.7h0m0 24.1h0m0 11.2h0m6.8-35.1h0m-0.1 24h0m0 11.3h0" stroke="#0409d4"/>
<path d="M92.2 56.1h0m-0.1 24h0m0 11.3h0m6.9-35.1h0m-0.1 24h0m0 11.3h0" stroke="#020460" stroke-width="2.85"/>
<path d="M92.2 56.1h0m-0.1 24h0m0 11.3h0m6.9-35.1h0m-0.1 24h0m0 11.3h0" stroke="#040ad5"/>
<path d="M105.8 56.5h0m0 24h0m-0.1 11.3h0m7-35.2h0m-0.1 24.1h0m0 11.3h0" stroke="#020560" stroke-width="2.85"/>
<path d="M105.8 56.5h0m0 24h0m-0.1 11.3h0m7-35.2h0m-0.1 24.1h0m0 11.3h0" stroke="#040ad6"/>
<path d="M119.5 56.8h0m0 24.1h0m0 11.3h0m6.9-35.2h0m0 24.1h0m0 11.3h0" stroke="#020560" stroke-width="2.85"/>
<path d="M119.5 56.8h0m0 24.1h0m0 11.3h0m6.9-35.2h0m0 24.1h0m0 11.3h0" stroke="#040bd6"/>
<path d="M133.3 57.2h0m0 24.1h0m0 11.3h0m7-35.2h0m0 24.1h0m-0.1 11.4h0" stroke="#020561" stroke-width="2.85"/>
<path d="M133.3 57.2h0m0 24.1h0m0 11.3h0m7-35.2h0m0 24.1h0m-0.1 11.4h0" stroke="#050bd7"/>
<path d="M147.3 57.6h0m-0.1 24.1h0m0 11.4h0" stroke="#020561" stroke-width="2.85"/>
<path d="M147.3 57.6h0m-0.1 24.1h0m0 11.4h0" stroke="#050cd8"/>
<path d="M164.8 58.1h0m0 24.1h0m0 11.4h0m17.7-35h0m0 24.1h0m-0.1 11.4h0m17.9-35h0m0 24.2h0m0 11.3h0m18-35h0m0 24.2h0m0 11.4h0m18.2-35.1h0m-0.1 24.2h0m0 11.4h0m18.4-35.1h0m0 24.2h0m0 11.4h0" stroke="#020561" stroke-width="2.85"/>
<path d="M164.8 58.1h0m0 24.1h0m0 11.4h0m17.7-35h0m0 24.1h0m-0.1 11.4h0m17.9-35h0m0 24.2h0m0 11.3h0m18-35h0m0 24.2h0m0 11.4h0m18.2-35.1h0m-0.1 24.2h0m0 11.4h0m18.4-35.1h0m0 24.2h0m0 11.4h0" stroke="#050cd8"/>
<path d="M77.9 92h0" stroke="#020460" stroke-width="2.85"/>
<path d="M77.9 92h0" stroke="#040ad5"/>
<path d="M84.7 92.2h0m6.7 0.2h0" stroke="#020560" stroke-width="2.85"/>
<path d="M84.7 92.2h0m6.7 0.2h0" stroke="#040ad6"/>
<path d="M98.3 92.6h0m6.8 0.2h0m6.8 0.2h0" stroke="#020560" stroke-width="2.85"/>
<path d="M98.3 92.6h0m6.8 0.2h0m6.8 0.2h0" stroke="#040bd6"/>
<path d="M118.8 93.2h0m6.9 0.2h0" stroke="#020561" stroke-width="2.85"/>
<path d="M118.8 93.2h0m6.9 0.2h0" stroke="#050bd7"/>
<path d="M132.7 93.6h0m6.9 0.2h0" stroke="#020561" stroke-width="2.85"/>
<path d="M132.7 93.6h0m6.9 0.2h0" stroke="#050cd8"/>
<path d="M146.6 94h0" stroke="#020561" stroke-width="2.85"/>
<path d="M146.6 94h0" stroke="#050cd8"/>
<path d="M164.1 94.5h0m17.7 0.5h0m17.9 0.6h0m18 0.5h0m18.1 0.5h0m18.4 0.6h0" stroke="#020662" stroke-width="2.85"/>
<path d="M164.1 94.5h0m17.7 0.5h0m17.9 0.6h0m18 0.5h0m18.1 0.5h0m18.4 0.6h0" stroke="#050dd9"/>
<path d="M77.3 59.2h0m-0.1 23.3h0m0 10.4h0" stroke="#020560" stroke-width="2.85"/>
<path d="M77.3 59.2h0m-0.1 23.3h0m0 10.4h0" stroke="#040ad6"/>
<path d="M84.1 59.4h0m-0.1 23.3h0m0 10.4h0m6.8-33.5h0m0 23.3h0m0 10.4h0" stroke="#020560" stroke-width="2.85"/>
<path d="M84.1 59.4h0m-0.1 23.3h0m0 10.4h0m6.8-33.5h0m0 23.3h0m0 10.4h0" stroke="#040bd6"/>
<path d="M97.7 59.8h0m-0.1 23.3h0m0 10.4h0m6.9-33.5h0m0 23.3h0m-0.1 10.4h0" stroke="#020561" stroke-width="2.85"/>
<path d="M97.7 59.8h0m-0.1 23.3h0m0 10.4h0m6.9-33.5h0m0 23.3h0m-0.1 10.4h0" stroke="#050bd7"/>
<path d="M111.4 60.2h0m-0.1 23.3h0m0 10.4h0m6.9-33.5h0m0 23.3h0m0 10.4h0" stroke="#020561" stroke-width="2.85"/>
<path d="M111.4 60.2h0m-0.1 23.3h0m0 10.4h0m6.9-33.5h0m0 23.3h0m0 10.4h0" stroke="#050cd8"/>
<path d="M125.1 60.6h0m0 23.3h0m0 10.4h0m7-33.6h0m-0.1 23.4h0m0 10.4h0" stroke="#020561" stroke-width="2.85"/>
<path d="M125.1 60.6h0m0 23.3h0m0 10.4h0m7-33.6h0m-0.1 23.4h0m0 10.4h0" stroke="#050cd8"/>
<path d="M139 60.9h0m0 23.4h0m0 10.4h0m7-33.6h0m0 23.4h0m0 10.4h0" stroke="#020662" stroke-width="2.85"/>
<path d="M139 60.9h0m0 23.4h0m0 10.4h0m7-33.6h0m0 23.4h0m0 10.4h0" stroke="#050dd9"/>
<path d="M163.5 61.6h0m0 23.4h0m0 10.5h0m17.7-33.4h0m0 23.5h0m0 10.4h0m17.9-33.4h0m0 23.5h0m0 10.4h0m18-33.4h0m0 23.5h0m0 10.4h0m18.2-33.4h0m0 23.5h0m-0.1 10.5h0m18.4-33.5h0m0 23.5h0m0 10.5h0" stroke="#020662" stroke-width="2.85"/>
<path d="M163.5 61.6h0m0 23.4h0m0 10.5h0m17.7-33.4h0m0 23.5h0m0 10.4h0m17.9-33.4h0m0 23.5h0m0 10.4h0m18-33.4h0m0 23.5h0m0 10.4h0m18.2-33.4h0m0 23.5h0m-0.1 10.5h0m18.4-33.5h0m0 23.5h0m0 10.5h0" stroke="#060dda"/>
<path d="M76.6 93.8h0" stroke="#020560" stroke-width="2.85"/>
<path d="M76.6 93.8h0" stroke="#040bd6"/>
<path d="M83.3 94h0m6.8 0.2h0" stroke="#020561" stroke-width="2.85"/>
<path d="M83.3 94h0m6.8 0.2h0" stroke="#050bd7"/>
<path d="M96.9 94.4h0m6.9 0.2h0" stroke="#020561" stroke-width="2.85"/>
<path d="M96.9 94.4h0m6.9 0.2h0" stroke="#050cd8"/>
<path d="M110.7 94.8h0m6.8 0.2h0" stroke="#020561" stroke-width="2.85"/>
<path d="M110.7 94.8h0m6.8 0.2h0" stroke="#050cd8"/>
<path d="M124.5 95.2h0m6.9 0.2h0" stroke="#020662" stroke-width="2.85"/>
<path d="M124.5 95.2h0m6.9 0.2h0" stroke="#050dd9"/>
<path d="M138.3 95.6h0m7 0.3h0" stroke="#020662" stroke-width="2.85"/>
<path d="M138.3 95.6h0m7 0.3h0" stroke="#060dda"/>
<path d="M162.9 96.4h0m17.7 0.5h0m17.9 0.5h0m18 0.6h0m18.2 0.5h0m18.3 0.5h0" stroke="#030662" stroke-width="2.85"/>
<path d="M162.9 96.4h0m17.7 0.5h0m17.9 0.5h0m18 0.6h0m18.2 0.5h0m18.3 0.5h0" stroke="#060eda"/>
<path d="M75.9 62.9h0m0 22.5h0m0 9.4h0m6.8-31.7h0m0 22.5h0m0 9.4h0" stroke="#020561" stroke-width="2.85"/>
<path d="M75.9 62.9h0m0 22.5h0m0 9.4h0m6.8-31.7h0m0 22.5h0m0 9.4h0" stroke="#050cd8"/>
<path d="M89.5 63.3h0m0 22.5h0m0 9.4h0m6.8-31.7h0m0 22.4h0m0 9.5h0" stroke="#020561" stroke-width="2.85"/>
<path d="M89.5 63.3h0m0 22.5h0m0 9.4h0m6.8-31.7h0m0 22.4h0m0 9.5h0" stroke="#050cd8"/>
<path d="M103.2 63.7h0m-0.1 22.4h0m0 9.5h0m6.9-31.7h0m0 22.4h0m0 9.5h0" stroke="#020662" stroke-width="2.85"/>
<path d="M103.2 63.7h0m-0.1 22.4h0m0 9.5h0m6.9-31.7h0m0 22.4h0m0 9.5h0" stroke="#050dd9"/>
<path d="M116.9 64.1h0m0 22.4h0m0 9.5h0m7-31.7h0m-0.1 22.4h0m0 9.5h0" stroke="#020662" stroke-width="2.85"/>
<path d="M116.9 64.1h0m0 22.4h0m0 9.5h0m7-31.7h0m-0.1 22.4h0m0 9.5h0" stroke="#060dda"/>
<path d="M130.8 64.5h0m0 22.4h0m0 9.5h0m6.9-31.7h0m0 22.5h0m0 9.4h0m7-31.8h0m0 22.6h0m0 9.4h0" stroke="#030662" stroke-width="2.85"/>
<path d="M130.8 64.5h0m0 22.4h0m0 9.5h0m6.9-31.7h0m0 22.5h0m0 9.4h0m7-31.8h0m0 22.6h0m0 9.4h0" stroke="#060eda"/>
<path d="M162.3 65.3h0m0 22.6h0m0 9.4h0m17.7-31.5h0m0 22.6h0m0 9.4h0m17.9-31.5h0m0 22.6h0m0 9.5h0m18-31.6h0m0 22.6h0m0 9.5h0m18.2-31.6h0m0 22.6h0m0 9.5h0m18.3-31.6h0m0 22.7h0m0 9.5h0" stroke="#030763" stroke-width="2.85"/>
<path d="M162.3 65.3h0m0 22.6h0m0 9.4h0m17.7-31.5h0m0 22.6h0m0 9.4h0m17.9-31.5h0m0 22.6h0m0 9.5h0m18-31.6h0m0 22.6h0m0 9.5h0m18.2-31.6h0m0 22.6h0m0 9.5h0m18.3-31.6h0m0 22.7h0m0 9.5h0" stroke="#060fdc"/>
<path d="M75.2 95.7h0m6.8 0.2h0" stroke="#020561" stroke-width="2.85"/>
<path d="M75.2 95.7h0m6.8 0.2h0" stroke="#050cd8"/>
<path d="M88.8 96.1h0m6.8 0.2h0" stroke="#020662" stroke-width="2.85"/>
<path d="M88.8 96.1h0m6.8 0.2h0" stroke="#050dd9"/>
<path d="M102.5 96.5h0m6.9 0.2h0" stroke="#020662" stroke-width="2.85"/>
<path d="M102.5 96.5h0m6.9 0.2h0" stroke="#060dda"/>
<path d="M116.2 96.9h0m7 0.2h0" stroke="#030662" stroke-width="2.85"/>
<path d="M116.2 96.9h0m7 0.2h0" stroke="#060eda"/>
<path d="M130.1 97.3h0m7 0.2h0" stroke="#030663" stroke-width="2.85"/>
<path d="M130.1 97.3h0m7 0.2h0" stroke="#060edb"/>
<path d="M144.1 97.7h0" stroke="#030763" stroke-width="2.85"/>
<path d="M144.1 97.7h0" stroke="#060fdc"/>
<path d="M161.6 98.3h0m17.8 0.5h0m17.8 0.5h0m18.1 0.5h0m18.2 0.6h0m18.3 0.5h0" stroke="#030763" stroke-width="2.85"/>
<path d="M161.6 98.3h0m17.8 0.5h0m17.8 0.5h0m18.1 0.5h0m18.2 0.6h0m18.3 0.5h0" stroke="#060fdc"/>
<path d="M74.6 66.8h0m-0.1 21.4h0m0 8.4h0" stroke="#020662" stroke-width="2.85"/>
<path d="M74.6 66.8h0m-0.1 21.4h0m0 8.4h0" stroke="#050dd9"/>
<path d="M81.4 67h0m-0.1 21.4h0m0 8.4h0m6.9-29.6h0m-0.1 21.4h0m0 8.4h0" stroke="#020662" stroke-width="2.85"/>
<path d="M81.4 67h0m-0.1 21.4h0m0 8.4h0m6.9-29.6h0m-0.1 21.4h0m0 8.4h0" stroke="#060dda"/>
<path d="M95 67.4h0m0 21.4h0m0 8.4h0m6.9-29.7h0m-0.1 21.5h0m0 8.4h0" stroke="#030662" stroke-width="2.85"/>
<path d="M95 67.4h0m0 21.4h0m0 8.4h0m6.9-29.7h0m-0.1 21.5h0m0 8.4h0" stroke="#060eda"/>
<path d="M108.7 67.7h0m0 21.5h0m0 8.4h0m6.9-29.7h0m0 21.5h0m0 8.4h0m7-29.7h0m-0.1 21.5h0m0 8.5h0" stroke="#030663" stroke-width="2.85"/>
<path d="M108.7 67.7h0m0 21.5h0m0 8.4h0m6.9-29.7h0m0 21.5h0m0 8.4h0m7-29.7h0m-0.1 21.5h0m0 8.5h0" stroke="#060edb"/>
<path d="M129.5 68.3h0m0 21.5h0m0 8.5h0m7-29.8h0m0 21.5h0m-0.1 8.5h0" stroke="#030763" stroke-width="2.85"/>
<path d="M129.5 68.3h0m0 21.5h0m0 8.5h0m7-29.8h0m0 21.5h0m-0.1 8.5h0" stroke="#060fdc"/>
<path d="M143.5 68.7h0m-0.1 21.5h0m0 8.5h0" stroke="#030763" stroke-width="2.85"/>
<path d="M143.5 68.7h0m-0.1 21.5h0m0 8.5h0" stroke="#060fdc"/>
<path d="M161 69.2h0m0 21.5h0m0 8.6h0m17.8-29.6h0m0 21.5h0m0 8.5h0m17.8-29.5h0m0 21.5h0m0 8.6h0m18.1-29.6h0m0 21.6h0m0 8.5h0m18.2-29.6h0m0 21.6h0m0 8.5h0m18.3-29.6h0m0 21.6h0m0 8.6h0" stroke="#030763" stroke-width="2.85"/>
<path d="M161 69.2h0m0 21.5h0m0 8.6h0m17.8-29.6h0m0 21.5h0m0 8.5h0m17.8-29.5h0m0 21.5h0m0 8.6h0m18.1-29.6h0m0 21.6h0m0 8.5h0m18.2-29.6h0m0 21.6h0m0 8.5h0m18.3-29.6h0m0 21.6h0m0 8.6h0" stroke="#0710dd"/>
<path d="M73.9 97.6h0" stroke="#020662" stroke-width="2.85"/>
<path d="M73.9 97.6h0" stroke="#060dda"/>
<path d="M80.7 97.8h0m6.8 0.2h0" stroke="#030662" stroke-width="2.85"/>
<path d="M80.7 97.8h0m6.8 0.2h0" stroke="#060eda"/>
<path d="M94.3 98.2h0m6.9 0.2h0" stroke="#030663" stroke-width="2.85"/>
<path d="M94.3 98.2h0m6.9 0.2h0" stroke="#060edb"/>
<path d="M108 98.6h0m7 0.2h0" stroke="#030763" stroke-width="2.85"/>
<path d="M108 98.6h0m7 0.2h0" stroke="#060fdc"/>
<path d="M121.9 99h0m6.9 0.2h0" stroke="#030763" stroke-width="2.85"/>
<path d="M121.9 99h0m6.9 0.2h0" stroke="#060fdc"/>
<path d="M135.8 99.4h0m7 0.2h0" stroke="#030763" stroke-width="2.85"/>
<path d="M135.8 99.4h0m7 0.2h0" stroke="#0710dd"/>
<path d="M160.4 100.3h0m17.7 0.4h0m17.9 0.5h0m18.1 0.5h0m18.1 0.6h0m18.4 0.5h0" stroke="#030764" stroke-width="2.85"/>
<path d="M160.4 100.3h0m17.7 0.4h0m17.9 0.5h0m18.1 0.5h0m18.1 0.6h0m18.4 0.5h0" stroke="#0710de"/>
<path d="M73.2 70.7h0m0 20.3h0m0 7.5h0m6.8-27.6h0m0 20.3h0m0 7.5h0" stroke="#030663" stroke-width="2.85"/>
<path d="M73.2 70.7h0m0 20.3h0m0 7.5h0m6.8-27.6h0m0 20.3h0m0 7.5h0" stroke="#060edb"/>
<path d="M86.8 71.1h0m0 20.3h0m0 7.5h0m6.9-27.6h0m0 20.3h0m-0.1 7.5h0m6.9-27.6h0m0 20.3h0m0 7.5h0" stroke="#030763" stroke-width="2.85"/>
<path d="M86.8 71.1h0m0 20.3h0m0 7.5h0m6.9-27.6h0m0 20.3h0m-0.1 7.5h0m6.9-27.6h0m0 20.3h0m0 7.5h0" stroke="#060fdc"/>
<path d="M107.4 71.7h0m0 20.3h0m0 7.5h0m6.9-27.6h0m0 20.3h0m0 7.5h0" stroke="#030763" stroke-width="2.85"/>
<path d="M107.4 71.7h0m0 20.3h0m0 7.5h0m6.9-27.6h0m0 20.3h0m0 7.5h0" stroke="#060fdc"/>
<path d="M121.3 72.1h0m-0.1 20.3h0m0 7.6h0m7-27.8h0m0 20.5h0m0 7.4h0" stroke="#030763" stroke-width="2.85"/>
<path d="M121.3 72.1h0m-0.1 20.3h0m0 7.6h0m7-27.8h0m0 20.5h0m0 7.4h0" stroke="#0710dd"/>
<path d="M135.2 72.4h0m0 20.5h0m0 7.4h0m7-27.7h0m0 20.5h0m0 7.5h0" stroke="#030764" stroke-width="2.85"/>
<path d="M135.2 72.4h0m0 20.5h0m0 7.4h0m7-27.7h0m0 20.5h0m0 7.5h0" stroke="#0710de"/>
<path d="M159.8 73.1h0m0 20.5h0m0 7.7h0m17.7-27.7h0m0 20.5h0m0 7.6h0m17.9-27.6h0m0 20.5h0m0 7.6h0m18.1-27.6h0m0 20.5h0m0 7.6h0m18.2-27.5h0m-0.1 20.5h0m0 7.5h0m18.4-27.5h0m0 20.5h0m0 7.6h0" stroke="#030864" stroke-width="2.85"/>
<path d="M159.8 73.1h0m0 20.5h0m0 7.7h0m17.7-27.7h0m0 20.5h0m0 7.6h0m17.9-27.6h0m0 20.5h0m0 7.6h0m18.1-27.6h0m0 20.5h0m0 7.6h0m18.2-27.5h0m-0.1 20.5h0m0 7.5h0m18.4-27.5h0m0 20.5h0m0 7.6h0" stroke="#0711df"/>
<path d="M72.5 99.5h0m6.8 0.2h0" stroke="#030763" stroke-width="2.85"/>
<path d="M72.5 99.5h0m6.8 0.2h0" stroke="#060fdc"/>
<path d="M86.1 99.9h0m6.9 0.2h0" stroke="#030763" stroke-width="2.85"/>
<path d="M86.1 99.9h0m6.9 0.2h0" stroke="#060fdc"/>
<path d="M99.9 100.3h0m6.8 0.2h0" stroke="#030763" stroke-width="2.85"/>
<path d="M99.9 100.3h0m6.8 0.2h0" stroke="#0710dd"/>
<path d="M113.7 100.7h0m6.9 0.2h0" stroke="#030764" stroke-width="2.85"/>
<path d="M113.7 100.7h0m6.9 0.2h0" stroke="#0710de"/>
<path d="M127.6 101.1h0m6.9 0.2h0" stroke="#030864" stroke-width="2.85"/>
<path d="M127.6 101.1h0m6.9 0.2h0" stroke="#0711de"/>
<path d="M141.5 101.5h0" stroke="#030864" stroke-width="2.85"/>
<path d="M141.5 101.5h0" stroke="#0711df"/>
<path d="M159.1 102.3h0m17.8 0.4h0m17.9 0.5h0m18 0.5h0m18.2 0.5h0m18.4 0.5h0" stroke="#030865" stroke-width="2.85"/>
<path d="M159.1 102.3h0m17.8 0.4h0m17.9 0.5h0m18 0.5h0m18.2 0.5h0m18.4 0.5h0" stroke="#0712e0"/>
<path d="M71.9 74.6h0m-0.1 19.3h0m0 6.5h0m6.9-25.6h0m-0.1 19.3h0m0 6.5h0" stroke="#030763" stroke-width="2.85"/>
<path d="M71.9 74.6h0m-0.1 19.3h0m0 6.5h0m6.9-25.6h0m-0.1 19.3h0m0 6.5h0" stroke="#060fdc"/>
<path d="M85.5 75h0m0 19.3h0m0 6.5h0m6.9-25.6h0m-0.1 19.3h0m0 6.5h0" stroke="#030763" stroke-width="2.85"/>
<path d="M85.5 75h0m0 19.3h0m0 6.5h0m6.9-25.6h0m-0.1 19.3h0m0 6.5h0" stroke="#0710dd"/>
<path d="M99.2 75.4h0m0 19.3h0m0 6.5h0m6.9-25.6h0m0 19.3h0m0 6.5h0" stroke="#030764" stroke-width="2.85"/>
<path d="M99.2 75.4h0m0 19.3h0m0 6.5h0m6.9-25.6h0m0 19.3h0m0 6.5h0" stroke="#0710de"/>
<path d="M113 75.8h0m0 19.3h0m0 6.5h0m7-25.6h0m0 19.3h0m-0.1 6.6h0" stroke="#030864" stroke-width="2.85"/>
<path d="M113 75.8h0m0 19.3h0m0 6.5h0m7-25.6h0m0 19.3h0m-0.1 6.6h0" stroke="#0711de"/>
<path d="M126.9 76.2h0m0 19.3h0m0 6.5h0m7-25.6h0m0 19.3h0m0 6.5h0" stroke="#030864" stroke-width="2.85"/>
<path d="M126.9 76.2h0m0 19.3h0m0 6.5h0m7-25.6h0m0 19.3h0m0 6.5h0" stroke="#0711df"/>
<path d="M140.9 76.6h0m0 19.3h0m0 6.5h0" stroke="#030865" stroke-width="2.85"/>
<path d="M140.9 76.6h0m0 19.3h0m0 6.5h0" stroke="#0712e0"/>
<path d="M158.5 77.1h0m0 19.4h0m0 6.8h0m17.8-25.7h0m0 19.4h0m0 6.7h0m17.9-25.6h0m0 19.4h0m0 6.6h0m18-25.5h0m0 19.4h0m0 6.6h0m18.2-25.5h0m0 19.5h0m0 6.6h0m18.4-25.6h0m0 19.5h0m0 6.6h0" stroke="#030865" stroke-width="2.85"/>
<path d="M158.5 77.1h0m0 19.4h0m0 6.8h0m17.8-25.7h0m0 19.4h0m0 6.7h0m17.9-25.6h0m0 19.4h0m0 6.6h0m18-25.5h0m0 19.4h0m0 6.6h0m18.2-25.5h0m0 19.5h0m0 6.6h0m18.4-25.6h0m0 19.5h0m0 6.6h0" stroke="#0812e0"/>
<path d="M71.2 101.3h0" stroke="#030763" stroke-width="2.85"/>
<path d="M71.2 101.3h0" stroke="#0710dd"/>
<path d="M78 101.5h0m6.8 0.2h0" stroke="#030764" stroke-width="2.85"/>
<path d="M78 101.5h0m6.8 0.2h0" stroke="#0710de"/>
<path d="M91.7 101.9h0m6.8 0.2h0" stroke="#030864" stroke-width="2.85"/>
<path d="M91.7 101.9h0m6.8 0.2h0" stroke="#0711de"/>
<path d="M105.4 102.4h0m7 0.2h0" stroke="#030864" stroke-width="2.85"/>
<path d="M105.4 102.4h0m7 0.2h0" stroke="#0711df"/>
<path d="M119.3 102.8h0m7 0.2h0" stroke="#030865" stroke-width="2.85"/>
<path d="M119.3 102.8h0m7 0.2h0" stroke="#0712e0"/>
<path d="M133.3 103.2h0m7 0.2h0" stroke="#030865" stroke-width="2.85"/>
<path d="M133.3 103.2h0m7 0.2h0" stroke="#0812e0"/>
<path d="M157.9 104.4h0m17.8 0.3h0m17.9 0.4h0m18 0.5h0m18.2 0.5h0m18.4 0.6h0" stroke="#040865" stroke-width="2.85"/>
<path d="M157.9 104.4h0m17.8 0.3h0m17.9 0.4h0m18 0.5h0m18.2 0.5h0m18.4 0.6h0" stroke="#0813e1"/>
<path d="M70.5 78.5h0m0 18.3h0m0 5.5h0" stroke="#030764" stroke-width="2.85"/>
<path d="M70.5 78.5h0m0 18.3h0m0 5.5h0" stroke="#0710de"/>
<path d="M77.3 78.7h0m0 18.3h0m0 5.5h0m6.9-23.6h0m-0.1 18.3h0m0 5.5h0" stroke="#030864" stroke-width="2.85"/>
<path d="M77.3 78.7h0m0 18.3h0m0 5.5h0m6.9-23.6h0m-0.1 18.3h0m0 5.5h0" stroke="#0711de"/>
<path d="M91 79.1h0m0 18.3h0m0 5.5h0m6.9-23.6h0m0 18.3h0m0 5.5h0" stroke="#030864" stroke-width="2.85"/>
<path d="M91 79.1h0m0 18.3h0m0 5.5h0m6.9-23.6h0m0 18.3h0m0 5.5h0" stroke="#0711df"/>
<path d="M104.8 79.5h0m0 18.3h0m0 5.5h0m6.9-23.6h0m0 18.3h0m0 5.5h0" stroke="#030865" stroke-width="2.85"/>
<path d="M104.8 79.5h0m0 18.3h0m0 5.5h0m6.9-23.6h0m0 18.3h0m0 5.5h0" stroke="#0712e0"/>
<path d="M118.7 79.9h0m0 18.3h0m0 5.6h0m6.9-23.7h0m0 18.3h0m0 5.5h0" stroke="#030865" stroke-width="2.85"/>
<path d="M118.7 79.9h0m0 18.3h0m0 5.6h0m6.9-23.7h0m0 18.3h0m0 5.5h0" stroke="#0812e0"/>
<path d="M132.6 80.3h0m0 18.3h0m0 5.5h0m7-23.6h0m0 18.3h0m0 5.5h0" stroke="#040865" stroke-width="2.85"/>
<path d="M132.6 80.3h0m0 18.3h0m0 5.5h0m7-23.6h0m0 18.3h0m0 5.5h0" stroke="#0813e1"/>
<path d="M157.3 81h0m0 18.4h0m0 6.2h0m17.8-24.1h0m-0.1 18.4h0m0 5.8h0m18-23.7h0m0 18.4h0m0 5.7h0m18-23.6h0m0 18.4h0m0 5.7h0m18.2-23.6h0m0 18.5h0m0 5.6h0m18.4-23.6h0m0 18.5h0m0 5.7h0" stroke="#040966" stroke-width="2.85"/>
<path d="M157.3 81h0m0 18.4h0m0 6.2h0m17.8-24.1h0m-0.1 18.4h0m0 5.8h0m18-23.7h0m0 18.4h0m0 5.7h0m18-23.6h0m0 18.4h0m0 5.7h0m18.2-23.6h0m0 18.5h0m0 5.6h0m18.4-23.6h0m0 18.5h0m0 5.7h0" stroke="#0813e2"/>
<path d="M69.8 103.2h0m6.8 0.2h0" stroke="#030864" stroke-width="2.85"/>
<path d="M69.8 103.2h0m6.8 0.2h0" stroke="#0711df"/>
<path d="M83.5 103.6h0m6.8 0.2h0" stroke="#030865" stroke-width="2.85"/>
<path d="M83.5 103.6h0m6.8 0.2h0" stroke="#0712e0"/>
<path d="M97.2 104h0m6.9 0.2h0" stroke="#030865" stroke-width="2.85"/>
<path d="M97.2 104h0m6.9 0.2h0" stroke="#0812e0"/>
<path d="M111.1 104.4h0m6.9 0.4h0m7 0.1h0" stroke="#040865" stroke-width="2.85"/>
<path d="M111.1 104.4h0m6.9 0.4h0m7 0.1h0" stroke="#0813e1"/>
<path d="M132 105.1h0m7 0.2h0" stroke="#040966" stroke-width="2.85"/>
<path d="M132 105.1h0m7 0.2h0" stroke="#0813e2"/>
<path d="M156.6 106.7h0m17.8 0.1h0m17.9 0.4h0m18.1 0.4h0m18.2 0.5h0m18.4 0.5h0" stroke="#040966" stroke-width="2.85"/>
<path d="M156.6 106.7h0m17.8 0.1h0m17.9 0.4h0m18.1 0.4h0m18.2 0.5h0m18.4 0.5h0" stroke="#0814e3"/>
<path d="M69.1 82.2h0m0 17.5h0m0 4.4h0m6.9-21.7h0m0 17.5h0m-0.1 4.4h0" stroke="#030865" stroke-width="2.85"/>
<path d="M69.1 82.2h0m0 17.5h0m0 4.4h0m6.9-21.7h0m0 17.5h0m-0.1 4.4h0" stroke="#0712e0"/>
<path d="M82.8 82.6h0m0 17.5h0m0 4.4h0m6.9-21.7h0m0 17.5h0m0 4.4h0" stroke="#030865" stroke-width="2.85"/>
<path d="M82.8 82.6h0m0 17.5h0m0 4.4h0m6.9-21.7h0m0 17.5h0m0 4.4h0" stroke="#0812e0"/>
<path d="M96.6 83h0m0 17.5h0m0 4.4h0m6.9-21.7h0m0 17.5h0m0 4.5h0" stroke="#040865" stroke-width="2.85"/>
<path d="M96.6 83h0m0 17.5h0m0 4.4h0m6.9-21.7h0m0 17.5h0m0 4.5h0" stroke="#0813e1"/>
<path d="M110.4 83.4h0m0 17.5h0m0 4.5h0m7-21.8h0m0 17.5h0m0 4.7h0" stroke="#040966" stroke-width="2.85"/>
<path d="M110.4 83.4h0m0 17.5h0m0 4.5h0m7-21.8h0m0 17.5h0m0 4.7h0" stroke="#0813e2"/>
<path d="M124.4 83.8h0m-0.1 17.5h0m0 4.5h0m7.1-21.8h0m-0.1 17.6h0m0 4.4h0" stroke="#040966" stroke-width="2.85"/>
<path d="M124.4 83.8h0m-0.1 17.5h0m0 4.5h0m7.1-21.8h0m-0.1 17.6h0m0 4.4h0" stroke="#0814e2"/>
<path d="M138.4 84.2h0m0 17.6h0m0 4.4h0" stroke="#040966" stroke-width="2.85"/>
<path d="M138.4 84.2h0m0 17.6h0m0 4.4h0" stroke="#0814e3"/>
<path d="M156 84.7h0m0 17.6h0m0 5.7h0m17.8-22.8h0m0 17.6h0m0 5.1h0m17.9-22.2h0m0 17.6h0m0 5h0m18.1-22h0m0 17.6h0m0 4.7h0m18.2-21.8h0m0 17.6h0m0 4.7h0m18.4-21.8h0m0 17.7h0m0 4.7h0" stroke="#040966" stroke-width="2.85"/>
<path d="M156 84.7h0m0 17.6h0m0 5.7h0m17.8-22.8h0m0 17.6h0m0 5.1h0m17.9-22.2h0m0 17.6h0m0 5h0m18.1-22h0m0 17.6h0m0 4.7h0m18.2-21.8h0m0 17.6h0m0 4.7h0m18.4-21.8h0m0 17.7h0m0 4.7h0" stroke="#0915e4"/>
<path d="M68.4 105h0" stroke="#030865" stroke-width="2.85"/>
<path d="M68.4 105h0" stroke="#0812e0"/>
<path d="M75.3 105.2h0m6.8 0.2h0" stroke="#040865" stroke-width="2.85"/>
<path d="M75.3 105.2h0m6.8 0.2h0" stroke="#0813e1"/>
<path d="M89 105.6h0m6.9 0.2h0" stroke="#040966" stroke-width="2.85"/>
<path d="M89 105.6h0m6.9 0.2h0" stroke="#0813e2"/>
<path d="M102.8 106.1h0m6.9 0.2h0m7 0.5h0" stroke="#040966" stroke-width="2.85"/>
<path d="M102.8 106.1h0m6.9 0.2h0m7 0.5h0" stroke="#0814e2"/>
<path d="M123.7 106.7h0m7 0.2h0" stroke="#040966" stroke-width="2.85"/>
<path d="M123.7 106.7h0m7 0.2h0" stroke="#0814e3"/>
<path d="M137.7 107.1h0" stroke="#040966" stroke-width="2.85"/>
<path d="M137.7 107.1h0" stroke="#0915e4"/>
<path d="M155.4 109.3h0m17.8-0.2h0m17.9 0.3h0m18.1 0.3h0m18.2 0.5h0m18.4 0.5h0" stroke="#040a67" stroke-width="2.85"/>
<path d="M155.4 109.3h0m17.8-0.2h0m17.9 0.3h0m18.1 0.3h0m18.2 0.5h0m18.4 0.5h0" stroke="#0915e4"/>
<path d="M67.8 85.8h0m0 16.8h0m0 3.3h0" stroke="#040865" stroke-width="2.85"/>
<path d="M67.8 85.8h0m0 16.8h0m0 3.3h0" stroke="#0813e1"/>
<path d="M74.6 86h0m0 16.8h0m0 3.3h0m6.9-19.9h0m0 16.8h0m0 3.3h0" stroke="#040966" stroke-width="2.85"/>
<path d="M74.6 86h0m0 16.8h0m0 3.3h0m6.9-19.9h0m0 16.8h0m0 3.3h0" stroke="#0813e2"/>
<path d="M88.4 86.4h0m-0.1 16.8h0m0 3.3h0m7-19.9h0m-0.1 16.8h0m0 3.3h0" stroke="#040966" stroke-width="2.85"/>
<path d="M88.4 86.4h0m-0.1 16.8h0m0 3.3h0m7-19.9h0m-0.1 16.8h0m0 3.3h0" stroke="#0814e2"/>
<path d="M102.2 86.8h0m0 16.9h0m0 3.3h0m6.9-20h0m0 16.9h0m0 3.3h0" stroke="#040966" stroke-width="2.85"/>
<path d="M102.2 86.8h0m0 16.9h0m0 3.3h0m6.9-20h0m0 16.9h0m0 3.3h0" stroke="#0814e3"/>
<path d="M116.1 87.2h0m0 16.9h0m0 3.7h0m7-20.4h0m-0.1 16.9h0m0 3.4h0" stroke="#040966" stroke-width="2.85"/>
<path d="M116.1 87.2h0m0 16.9h0m0 3.7h0m7-20.4h0m-0.1 16.9h0m0 3.4h0" stroke="#0915e4"/>
<path d="M130.1 87.6h0m0 16.9h0m-0.1 3.3h0m7.1-20h0m0 16.9h0m0 3.3h0" stroke="#040a67" stroke-width="2.85"/>
<path d="M130.1 87.6h0m0 16.9h0m-0.1 3.3h0m7.1-20h0m0 16.9h0m0 3.3h0" stroke="#0915e4"/>
<path d="M154.8 88.3h0m-0.1 16.9h0m0 5.4h0m17.9-21.8h0m0 16.9h0m-0.1 4.6h0m18-21h0m0 17h0m0 4.2h0m18.1-20.7h0m0 17h0m0 4h0m18.2-20.5h0m0 17.1h0m0 3.9h0m18.4-20.4h0m0 17h0m0 3.8h0" stroke="#040a67" stroke-width="2.85"/>
<path d="M154.8 88.3h0m-0.1 16.9h0m0 5.4h0m17.9-21.8h0m0 16.9h0m-0.1 4.6h0m18-21h0m0 17h0m0 4.2h0m18.1-20.7h0m0 17h0m0 4h0m18.2-20.5h0m0 17.1h0m0 3.9h0m18.4-20.4h0m0 17h0m0 3.8h0" stroke="#0916e5"/>
<path d="M67.1 106.9h0m6.8 0.2h0" stroke="#040966" stroke-width="2.85"/>
<path d="M67.1 106.9h0m6.8 0.2h0" stroke="#0814e2"/>
<path d="M80.8 107.3h0m6.9 0.2h0m6.9 0.2h0" stroke="#040966" stroke-width="2.85"/>
<path d="M80.8 107.3h0m6.9 0.2h0m6.9 0.2h0" stroke="#0814e3"/>
<path d="M101.5 107.9h0m6.9 0.3h0" stroke="#040966" stroke-width="2.85"/>
<path d="M101.5 107.9h0m6.9 0.3h0" stroke="#0915e4"/>
<path d="M115.4 109h0m7-0.3h0" stroke="#040a67" stroke-width="2.85"/>
<path d="M115.4 109h0m7-0.3h0" stroke="#0915e4"/>
<path d="M129.4 108.8h0m7 0.2h0" stroke="#040a67" stroke-width="2.85"/>
<path d="M129.4 108.8h0m7 0.2h0" stroke="#0916e5"/>
<path d="M154.1 112h0m17.8-0.4h0m18 0.2h0m18.1 0.2h0m18.2 0.4h0m18.4 0.5h0" stroke="#040a68" stroke-width="2.85"/>
<path d="M154.1 112h0m17.8-0.4h0m18 0.2h0m18.1 0.2h0m18.2 0.4h0m18.4 0.5h0" stroke="#0a17e6"/>
<path d="M66.4 89.1h0m0 16.5h0m0 2.4h0m6.9-18.7h0m-0.1 16.5h0m0 2.4h0" stroke="#040966" stroke-width="2.85"/>
<path d="M66.4 89.1h0m0 16.5h0m0 2.4h0m6.9-18.7h0m-0.1 16.5h0m0 2.4h0" stroke="#0814e3"/>
<path d="M80.1 89.4h0m0 16.6h0m0 2.4h0m6.9-18.8h0m0 16.6h0m0 2.4h0" stroke="#040966" stroke-width="2.85"/>
<path d="M80.1 89.4h0m0 16.6h0m0 2.4h0m6.9-18.8h0m0 16.6h0m0 2.4h0" stroke="#0915e4"/>
<path d="M93.9 89.8h0m0 16.6h0m0 2.4h0m7-18.8h0m-0.1 16.6h0m0 2.4h0" stroke="#040a67" stroke-width="2.85"/>
<path d="M93.9 89.8h0m0 16.6h0m0 2.4h0m7-18.8h0m-0.1 16.6h0m0 2.4h0" stroke="#0915e4"/>
<path d="M107.8 90.2h0m0 16.6h0m0 2.5h0m7-18.9h0m0 16.6h0m0 3.2h0" stroke="#040a67" stroke-width="2.85"/>
<path d="M107.8 90.2h0m0 16.6h0m0 2.5h0m7-18.9h0m0 16.6h0m0 3.2h0" stroke="#0916e5"/>
<path d="M121.8 90.6h0m0 16.6h0m-0.1 2.6h0m7.1-19h0m0 16.6h0m0 2.5h0" stroke="#040a67" stroke-width="2.85"/>
<path d="M121.8 90.6h0m0 16.6h0m-0.1 2.6h0m7.1-19h0m0 16.6h0m0 2.5h0" stroke="#0916e6"/>
<path d="M135.8 91.1h0m0 16.5h0m0 2.5h0" stroke="#040a68" stroke-width="2.85"/>
<path d="M135.8 91.1h0m0 16.5h0m0 2.5h0" stroke="#0a17e6"/>
<path d="M153.5 91.6h0m0 16.6h0m0 5.2h0m17.8-21.3h0m0 16.6h0m0 4.3h0m18-20.4h0m0 16.6h0m0 3.9h0m18.1-20h0m0 16.7h0m0 3.5h0m18.2-19.7h0m0 16.7h0m0 3.4h0m18.4-19.5h0m0 16.7h0m0 3.3h0" stroke="#040b68" stroke-width="2.85"/>
<path d="M153.5 91.6h0m0 16.6h0m0 5.2h0m17.8-21.3h0m0 16.6h0m0 4.3h0m18-20.4h0m0 16.6h0m0 3.9h0m18.1-20h0m0 16.7h0m0 3.5h0m18.2-19.7h0m0 16.7h0m0 3.4h0m18.4-19.5h0m0 16.7h0m0 3.3h0" stroke="#0a17e7"/>
<path d="M65 92.1h0m0 16.4h0m0 1.9h0" stroke="#040a67" stroke-width="2.85"/>
<path d="M65 92.1h0m0 16.4h0m0 1.9h0" stroke="#0915e4"/>
<path d="M71.9 92.3h0m0 16.4h0m0 1.9h0m6.9-18.1h0m0 16.4h0m0 2h0" stroke="#040a67" stroke-width="2.85"/>
<path d="M71.9 92.3h0m0 16.4h0m0 1.9h0m6.9-18.1h0m0 16.4h0m0 2h0" stroke="#0916e5"/>
<path d="M85.7 92.7h0m0 16.4h0m0 2h0m6.9-18.2h0m0 16.4h0m0 2h0" stroke="#040a67" stroke-width="2.85"/>
<path d="M85.7 92.7h0m0 16.4h0m0 2h0m6.9-18.2h0m0 16.4h0m0 2h0" stroke="#0916e6"/>
<path d="M99.5 93.1h0m0 16.4h0m0 2h0m7-18.2h0m0 16.4h0m0 2.1h0" stroke="#040a68" stroke-width="2.85"/>
<path d="M99.5 93.1h0m0 16.4h0m0 2h0m7-18.2h0m0 16.4h0m0 2.1h0" stroke="#0a17e6"/>
<path d="M113.5 93.5h0m0 16.5h0m-0.1 3h0m7.1-19.3h0m0 16.5h0m0 2.1h0" stroke="#040b68" stroke-width="2.85"/>
<path d="M113.5 93.5h0m0 16.5h0m-0.1 3h0m7.1-19.3h0m0 16.5h0m0 2.1h0" stroke="#0a17e7"/>
<path d="M127.5 93.9h0m0 16.5h0m0 2h0m7-18.3h0m0 16.5h0m0 1.9h0" stroke="#040b68" stroke-width="2.85"/>
<path d="M127.5 93.9h0m0 16.5h0m0 2h0m7-18.3h0m0 16.5h0m0 1.9h0" stroke="#0a18e8"/>
<path d="M152.2 94.6h0m0 16.5h0m0 5.2h0m17.9-21.2h0m0 16.6h0m-0.1 4.1h0m18-20.1h0m0 16.5h0m0 3.7h0m18.1-19.7h0m0 16.5h0m0 3.4h0m18.3-19.4h0m0 16.6h0m0 3.2h0m18.4-19.3h0m0 16.6h0m0 3.1h0" stroke="#051469" stroke-width="2.85"/>
<path d="M152.2 94.6h0m0 16.5h0m0 5.2h0m17.9-21.2h0m0 16.6h0m-0.1 4.1h0m18-20.1h0m0 16.5h0m0 3.7h0m18.1-19.7h0m0 16.5h0m0 3.4h0m18.3-19.4h0m0 16.6h0m0 3.2h0m18.4-19.3h0m0 16.6h0m0 3.1h0" stroke="#0b2cea"/>
<path d="M63.7 95h0m0 16.5h0m0 1.6h0m6.8-17.9h0m0 16.5h0m0 1.6h0" stroke="#040a68" stroke-width="2.85"/>
<path d="M63.7 95h0m0 16.5h0m0 1.6h0m6.8-17.9h0m0 16.5h0m0 1.6h0" stroke="#0a17e6"/>
<path d="M77.4 95.4h0m0 16.5h0m0 1.6h0m6.9-17.9h0m0 16.5h0m0 1.6h0" stroke="#040b68" stroke-width="2.85"/>
<path d="M77.4 95.4h0m0 16.5h0m0 1.6h0m6.9-17.9h0m0 16.5h0m0 1.6h0" stroke="#0a17e7"/>
<path d="M91.3 95.8h0m-0.1 16.5h0m0 1.7h0m7-18h0m0 16.5h0m0 1.7h0" stroke="#040b68" stroke-width="2.85"/>
<path d="M91.3 95.8h0m-0.1 16.5h0m0 1.7h0m7-18h0m0 16.5h0m0 1.7h0" stroke="#0a18e8"/>
<path d="M105.2 96.2h0m0 16.5h0m0 1.8h0m7-18.1h0m-0.1 16.5h0m0 2.9h0" stroke="#051469" stroke-width="2.85"/>
<path d="M105.2 96.2h0m0 16.5h0m0 1.8h0m7-18.1h0m-0.1 16.5h0m0 2.9h0" stroke="#0b2cea"/>
<path d="M119.2 96.6h0m0 16.5h0m0 2h0m7-18.3h0m0 16.6h0m0 1.7h0" stroke="#06206a" stroke-width="2.85"/>
<path d="M119.2 96.6h0m0 16.5h0m0 2h0m7-18.3h0m0 16.6h0m0 1.7h0" stroke="#0d46ec"/>
<path d="M133.2 97h0m0 16.6h0m0 1.6h0" stroke="#072c6b" stroke-width="2.85"/>
<path d="M133.2 97h0m0 16.6h0m0 1.6h0" stroke="#0f61ef"/>
<path d="M151 97.5h0m-0.1 16.6h0m0 5.1h0m17.9-21.2h0m0 16.6h0m0 4.1h0m18-20.2h0m0 16.7h0m0 3.6h0m18.1-19.7h0m0 16.6h0m0 3.2h0m18.2-19.3h0m0 16.7h0m0 3h0m18.4-19.2h0m0 16.7h0m0 3h0" stroke="#08356c" stroke-width="2.85"/>
<path d="M151 97.5h0m-0.1 16.6h0m0 5.1h0m17.9-21.2h0m0 16.6h0m0 4.1h0m18-20.2h0m0 16.7h0m0 3.6h0m18.1-19.7h0m0 16.6h0m0 3.2h0m18.2-19.3h0m0 16.7h0m0 3h0m18.4-19.2h0m0 16.7h0m0 3h0" stroke="#1176f0"/>
<path d="M62.3 97.6h0m0 16.9h0m0 1.5h0" stroke="#040b68" stroke-width="2.85"/>
<path d="M62.3 97.6h0m0 16.9h0m0 1.5h0" stroke="#0a18e8"/>
<path d="M69.2 97.8h0m0 16.9h0m0 1.5h0m6.9-18.2h0m0 16.9h0m0 1.5h0" stroke="#051469" stroke-width="2.85"/>
<path d="M69.2 97.8h0m0 16.9h0m0 1.5h0m6.9-18.2h0m0 16.9h0m0 1.5h0" stroke="#0b2cea"/>
<path d="M83 98.2h0m0 16.9h0m0 1.5h0m6.9-18.2h0m0 16.9h0m0 1.5h0" stroke="#06206a" stroke-width="2.85"/>
<path d="M83 98.2h0m0 16.9h0m0 1.5h0m6.9-18.2h0m0 16.9h0m0 1.5h0" stroke="#0d46ec"/>
<path d="M96.9 98.6h0m0 16.9h0m0 1.6h0m6.9-18.3h0m0 16.9h0m0 1.7h0" stroke="#072c6b" stroke-width="2.85"/>
<path d="M96.9 98.6h0m0 16.9h0m0 1.6h0m6.9-18.3h0m0 16.9h0m0 1.7h0" stroke="#0f61ef"/>
<path d="M110.8 99h0m0 16.9h0m0 2.9h0m7.1-19.6h0m-0.1 16.9h0m0 1.9h0" stroke="#08356c" stroke-width="2.85"/>
<path d="M110.8 99h0m0 16.9h0m0 2.9h0m7.1-19.6h0m-0.1 16.9h0m0 1.9h0" stroke="#1176f0"/>
<path d="M124.9 99.4h0m0 17h0m0 1.5h0m7.1-18.2h0m-0.1 16.9h0m0 1.5h0" stroke="#083d6c" stroke-width="2.85"/>
<path d="M124.9 99.4h0m0 17h0m0 1.5h0m7.1-18.2h0m-0.1 16.9h0m0 1.5h0" stroke="#1287f0"/>
<path d="M149.7 100.2h0m0 16.9h0m0 5.1h0m17.8-21.5h0m0 16.9h0m0 4.1h0m18-20.5h0m0 17h0m0 3.6h0m18.2-20.1h0m0 17h0m0 3.2h0m18.2-19.6h0m0 17h0m0 3h0m18.4-19.5h0m0 17h0m0 2.9h0" stroke="#09446c" stroke-width="2.85"/>
<path d="M149.7 100.2h0m0 16.9h0m0 5.1h0m17.8-21.5h0m0 16.9h0m0 4.1h0m18-20.5h0m0 17h0m0 3.6h0m18.2-20.1h0m0 17h0m0 3.2h0m18.2-19.6h0m0 17h0m0 3h0m18.4-19.5h0m0 17h0m0 2.9h0" stroke="#1398f0"/>
<path d="M60.9 100.2h0m0 17.3h0m0 1.5h0m6.9-18.6h0m0 17.3h0m0 1.5h0" stroke="#072c6b" stroke-width="2.85"/>
<path d="M60.9 100.2h0m0 17.3h0m0 1.5h0m6.9-18.6h0m0 17.3h0m0 1.5h0" stroke="#0f61ef"/>
<path d="M74.7 100.6h0m0 17.3h0m0 1.5h0m6.9-18.6h0m0 17.3h0m0 1.5h0" stroke="#08356c" stroke-width="2.85"/>
<path d="M74.7 100.6h0m0 17.3h0m0 1.5h0m6.9-18.6h0m0 17.3h0m0 1.5h0" stroke="#1176f0"/>
<path d="M88.6 101h0m0 17.3h0m0 1.5h0m6.9-18.6h0m0 17.3h0m0 1.6h0" stroke="#083d6c" stroke-width="2.85"/>
<path d="M88.6 101h0m0 17.3h0m0 1.5h0m6.9-18.6h0m0 17.3h0m0 1.6h0" stroke="#1287f0"/>
<path d="M102.5 101.4h0m0 17.3h0m0 1.7h0m7-18.8h0m0 17.3h0m0 2.9h0" stroke="#09446c" stroke-width="2.85"/>
<path d="M102.5 101.4h0m0 17.3h0m0 1.7h0m7-18.8h0m0 17.3h0m0 2.9h0" stroke="#1398f0"/>
<path d="M116.6 101.8h0m-0.1 17.4h0m0 1.8h0m7.1-19h0m0 17.4h0m0 1.5h0m7.1-18.7h0m0 17.4h0m0 1.5h0" stroke="#094a69" stroke-width="2.85"/>
<path d="M116.6 101.8h0m-0.1 17.4h0m0 1.8h0m7.1-19h0m0 17.4h0m0 1.5h0m7.1-18.7h0m0 17.4h0m0 1.5h0" stroke="#15a4ea"/>
<path d="M148.4 102.7h0m0 17.4h0m0 5h0m17.9-21.9h0m0 17.5h0m0 4h0m18-20.9h0m0 17.4h0m0 3.6h0m18.1-20.5h0m0 17.5h0m0 3.1h0m18.3-20.1h0m0 17.5h0m0 3h0m18.4-19.9h0m0 17.5h0m0 2.8h0" stroke="#0b515f" stroke-width="2.85"/>
<path d="M148.4 102.7h0m0 17.4h0m0 5h0m17.9-21.9h0m0 17.5h0m0 4h0m18-20.9h0m0 17.4h0m0 3.6h0m18.1-20.5h0m0 17.5h0m0 3.1h0m18.3-20.1h0m0 17.5h0m0 3h0m18.4-19.9h0m0 17.5h0m0 2.8h0" stroke="#18b4d3"/>
<path d="M59.5 102.6h0m0 17.9h0m0 1.5h0" stroke="#083d6c" stroke-width="2.85"/>
<path d="M59.5 102.6h0m0 17.9h0m0 1.5h0" stroke="#1287f0"/>
<path d="M66.4 102.8h0m0 17.9h0m0 1.5h0m7-19.2h0m-0.1 17.9h0m0 1.5h0" stroke="#09446c" stroke-width="2.85"/>
<path d="M66.4 102.8h0m0 17.9h0m0 1.5h0m7-19.2h0m-0.1 17.9h0m0 1.5h0" stroke="#1398f0"/>
<path d="M80.3 103.2h0m0 17.9h0m0 1.6h0m6.9-19.3h0m0 17.9h0m0 1.6h0" stroke="#094a69" stroke-width="2.85"/>
<path d="M80.3 103.2h0m0 17.9h0m0 1.6h0m6.9-19.3h0m0 17.9h0m0 1.6h0" stroke="#15a4ea"/>
<path d="M94.2 103.6h0m0 17.9h0m0 1.6h0m7-19.3h0m0 17.9h0m0 1.8h0" stroke="#0a4d64" stroke-width="2.85"/>
<path d="M94.2 103.6h0m0 17.9h0m0 1.6h0m7-19.3h0m0 17.9h0m0 1.8h0" stroke="#16acdf"/>
<path d="M108.2 104h0m0 17.9h0m0 2.9h0m7-20.6h0m0 18h0m0 1.8h0" stroke="#0b515f" stroke-width="2.85"/>
<path d="M108.2 104h0m0 17.9h0m0 2.9h0m7-20.6h0m0 18h0m0 1.8h0" stroke="#18b4d3"/>
<path d="M122.3 104.5h0m0 17.9h0m0 1.6h0m7.1-19.3h0m0 17.9h0m0 1.6h0" stroke="#0c555a" stroke-width="2.85"/>
<path d="M122.3 104.5h0m0 17.9h0m0 1.6h0m7.1-19.3h0m0 17.9h0m0 1.6h0" stroke="#1abcc7"/>
<path d="M147.1 105.2h0m0 17.9h0m0 5h0m17.9-22.4h0m0 18h0m0 4h0m18-21.5h0m0 18h0m0 3.6h0m18.2-21h0m0 18h0m0 3.1h0m18.3-20.6h0m0 18h0m0 3h0m18.4-20.5h0m0 18.1h0m0 2.8h0" stroke="#0c5855" stroke-width="2.85"/>
<path d="M147.1 105.2h0m0 17.9h0m0 5h0m17.9-22.4h0m0 18h0m0 4h0m18-21.5h0m0 18h0m0 3.6h0m18.2-21h0m0 18h0m0 3.1h0m18.3-20.6h0m0 18h0m0 3h0m18.4-20.5h0m0 18.1h0m0 2.8h0" stroke="#1bc4bc"/>
<path d="M58.2 105h0m-0.1 18.5h0m0 1.5h0m7-19.8h0m0 18.5h0m0 1.5h0" stroke="#0a4d64" stroke-width="2.85"/>
<path d="M58.2 105h0m-0.1 18.5h0m0 1.5h0m7-19.8h0m0 18.5h0m0 1.5h0" stroke="#16acdf"/>
<path d="M72 105.4h0m0 18.5h0m0 1.5h0m6.9-19.8h0m0 18.5h0m0 1.6h0" stroke="#0b515f" stroke-width="2.85"/>
<path d="M72 105.4h0m0 18.5h0m0 1.5h0m6.9-19.8h0m0 18.5h0m0 1.6h0" stroke="#18b4d3"/>
<path d="M85.9 105.8h0m0 18.5h0m0 1.6h0m7-19.9h0m0 18.5h0m0 1.6h0" stroke="#0c555a" stroke-width="2.85"/>
<path d="M85.9 105.8h0m0 18.5h0m0 1.6h0m7-19.9h0m0 18.5h0m0 1.6h0" stroke="#1abcc7"/>
<path d="M99.9 106.2h0m0 18.5h0m0 1.8h0m7-20.1h0m0 18.6h0m0 2.8h0" stroke="#0c5855" stroke-width="2.85"/>
<path d="M99.9 106.2h0m0 18.5h0m0 1.8h0m7-20.1h0m0 18.6h0m0 2.8h0" stroke="#1bc4bc"/>
<path d="M113.9 106.6h0m0 18.6h0m0 1.8h0m7.1-20.2h0m0 18.6h0m0 1.6h0m7.1-20h0m0 18.6h0m0 1.6h0" stroke="#0e5a4e" stroke-width="2.85"/>
<path d="M113.9 106.6h0m0 18.6h0m0 1.8h0m7.1-20.2h0m0 18.6h0m0 1.6h0m7.1-20h0m0 18.6h0m0 1.6h0" stroke="#1ec8ac"/>
<path d="M145.8 107.6h0m0 18.6h0m0 4.9h0m18-23h0m-0.1 18.6h0m0 4h0m18.1-22.1h0m0 18.7h0m0 3.5h0m18.1-21.6h0m0 18.6h0m0 3.1h0m18.3-21.2h0m0 18.7h0m0 2.9h0m18.4-21.1h0m0 18.7h0m0 2.8h0" stroke="#115a3c" stroke-width="2.85"/>
<path d="M145.8 107.6h0m0 18.6h0m0 4.9h0m18-23h0m-0.1 18.6h0m0 4h0m18.1-22.1h0m0 18.7h0m0 3.5h0m18.1-21.6h0m0 18.6h0m0 3.1h0m18.3-21.2h0m0 18.7h0m0 2.9h0m18.4-21.1h0m0 18.7h0m0 2.8h0" stroke="#26c886"/>
<path d="M56.8 107.2h0m0 19.3h0m0 1.5h0" stroke="#0c555a" stroke-width="2.85"/>
<path d="M56.8 107.2h0m0 19.3h0m0 1.5h0" stroke="#1abcc7"/>
<path d="M63.7 107.4h0m0 19.3h0m0 1.6h0m6.9-20.6h0m0 19.2h0m0 1.6h0" stroke="#0c5855" stroke-width="2.85"/>
<path d="M63.7 107.4h0m0 19.3h0m0 1.6h0m6.9-20.6h0m0 19.2h0m0 1.6h0" stroke="#1bc4bc"/>
<path d="M77.6 107.9h0m0 19.3h0m0 1.5h0m6.9-20.6h0m0 19.3h0m0 1.5h0" stroke="#0e5a4e" stroke-width="2.85"/>
<path d="M77.6 107.9h0m0 19.3h0m0 1.5h0m6.9-20.6h0m0 19.3h0m0 1.5h0" stroke="#1ec8ac"/>
<path d="M91.5 108.3h0m0 19.3h0m0 1.5h0m7-20.6h0m0 19.3h0m0 1.7h0" stroke="#0f5a45" stroke-width="2.85"/>
<path d="M91.5 108.3h0m0 19.3h0m0 1.5h0m7-20.6h0m0 19.3h0m0 1.7h0" stroke="#22c899"/>
<path d="M105.6 108.7h0m0 19.3h0m0 2.9h0m7-22h0m0 19.3h0m0 1.8h0" stroke="#115a3c" stroke-width="2.85"/>
<path d="M105.6 108.7h0m0 19.3h0m0 2.9h0m7-22h0m0 19.3h0m0 1.8h0" stroke="#26c886"/>
<path d="M119.7 109.1h0m0 19.4h0m0 1.5h0m7.1-20.7h0m0 19.4h0m0 1.5h0" stroke="#135a34" stroke-width="2.85"/>
<path d="M119.7 109.1h0m0 19.4h0m0 1.5h0m7.1-20.7h0m0 19.4h0m0 1.5h0" stroke="#2ac873"/>
<path d="M144.6 109.8h0m0 19.4h0m0 4.9h0m17.9-23.7h0m0 19.4h0m0 3.9h0m18-22.8h0m0 19.5h0m0 3.4h0m18.2-22.4h0m0 19.5h0m0 3h0m18.3-21.9h0m0 19.5h0m0 2.8h0m18.4-21.8h0m0 19.5h0m0 2.8h0" stroke="#155a2b" stroke-width="2.85"/>
<path d="M144.6 109.8h0m0 19.4h0m0 4.9h0m17.9-23.7h0m0 19.4h0m0 3.9h0m18-22.8h0m0 19.5h0m0 3.4h0m18.2-22.4h0m0 19.5h0m0 3h0m18.3-21.9h0m0 19.5h0m0 2.8h0m18.4-21.8h0m0 19.5h0m0 2.8h0" stroke="#2ec860"/>
<path d="M55.4 109.4h0m0 20.2h0m0 1.5h0m6.9-21.5h0m0 20.2h0m0 1.6h0" stroke="#0f5a45" stroke-width="2.85"/>
<path d="M55.4 109.4h0m0 20.2h0m0 1.5h0m6.9-21.5h0m0 20.2h0m0 1.6h0" stroke="#22c899"/>
<path d="M69.3 109.8h0m-0.1 20.3h0m0 1.5h0m7-21.5h0m0 20.2h0m0 1.5h0" stroke="#115a3c" stroke-width="2.85"/>
<path d="M69.3 109.8h0m-0.1 20.3h0m0 1.5h0m7-21.5h0m0 20.2h0m0 1.5h0" stroke="#26c886"/>
<path d="M83.2 110.3h0m0 20.2h0m0 1.5h0m7-21.5h0m0 20.2h0m0 1.5h0" stroke="#135a34" stroke-width="2.85"/>
<path d="M83.2 110.3h0m0 20.2h0m0 1.5h0m7-21.5h0m0 20.2h0m0 1.5h0" stroke="#2ac873"/>
<path d="M97.2 110.7h0m0 20.2h0m0 1.7h0m7-21.7h0m0 20.3h0m0 2.7h0" stroke="#155a2b" stroke-width="2.85"/>
<path d="M97.2 110.7h0m0 20.2h0m0 1.7h0m7-21.7h0m0 20.3h0m0 2.7h0" stroke="#2ec860"/>
<path d="M111.3 111.1h0m0 20.3h0m0 1.7h0m7.1-21.8h0m0 20.3h0m0 1.5h0m7.1-21.6h0m0 20.3h0m0 1.5h0" stroke="#165a2a" stroke-width="2.85"/>
<path d="M111.3 111.1h0m0 20.3h0m0 1.7h0m7.1-21.8h0m0 20.3h0m0 1.5h0m7.1-21.6h0m0 20.3h0m0 1.5h0" stroke="#30c85c"/>
<path d="M143.3 112h0m0 20.4h0m0 4.7h0m17.9-24.5h0m0 20.3h0m0 3.8h0m18.1-23.6h0m0 20.4h0m0 3.3h0m18.1-23.1h0m0 20.4h0m0 2.9h0m18.4-22.8h0m0 20.4h0m0 2.8h0m18.4-22.7h0m0 20.5h0m0 2.6h0" stroke="#185a26" stroke-width="2.85"/>
<path d="M143.3 112h0m0 20.4h0m0 4.7h0m17.9-24.5h0m0 20.3h0m0 3.8h0m18.1-23.6h0m0 20.4h0m0 3.3h0m18.1-23.1h0m0 20.4h0m0 2.9h0m18.4-22.8h0m0 20.4h0m0 2.8h0m18.4-22.7h0m0 20.5h0m0 2.6h0" stroke="#34c855"/>
<path d="M54 111.5h0m0 21.3h0m0 1.5h0" stroke="#135a34" stroke-width="2.85"/>
<path d="M54 111.5h0m0 21.3h0m0 1.5h0" stroke="#2ac873"/>
<path d="M60.9 111.7h0m0 21.3h0m0 1.5h0m7-22.6h0m0 21.3h0m0 1.5h0" stroke="#155a2b" stroke-width="2.85"/>
<path d="M60.9 111.7h0m0 21.3h0m0 1.5h0m7-22.6h0m0 21.3h0m0 1.5h0" stroke="#2ec860"/>
<path d="M74.9 112.2h0m-0.1 21.2h0m0 1.5h0m7-22.5h0m0 21.2h0m0 1.5h0" stroke="#165a2a" stroke-width="2.85"/>
<path d="M74.9 112.2h0m-0.1 21.2h0m0 1.5h0m7-22.5h0m0 21.2h0m0 1.5h0" stroke="#30c85c"/>
<path d="M88.8 112.6h0m0 21.3h0m0 1.5h0m7.1-22.6h0m0 21.3h0m0 1.6h0" stroke="#175a28" stroke-width="2.85"/>
<path d="M88.8 112.6h0m0 21.3h0m0 1.5h0m7.1-22.6h0m0 21.3h0m0 1.6h0" stroke="#32c859"/>
<path d="M102.9 113h0m0 21.3h0m0 2.7h0m7.1-23.8h0m0 21.3h0m0 1.8h0" stroke="#185a26" stroke-width="2.85"/>
<path d="M102.9 113h0m0 21.3h0m0 2.7h0m7.1-23.8h0m0 21.3h0m0 1.8h0" stroke="#34c855"/>
<path d="M117.1 113.4h0m0 21.4h0m0 1.5h0m7.1-22.7h0m0 21.4h0m0 1.5h0" stroke="#195a25" stroke-width="2.85"/>
<path d="M117.1 113.4h0m0 21.4h0m0 1.5h0m7.1-22.7h0m0 21.4h0m0 1.5h0" stroke="#37c851"/>
<path d="M142 114.2h0m0 21.4h0m0 4.6h0m17.9-25.5h0m0 21.4h0m0 3.7h0m18.1-24.6h0m0 21.5h0m0 3.2h0m18.2-24.1h0m0 21.5h0m0 2.8h0m18.3-23.8h0m0 21.5h0m0 2.7h0m18.4-23.6h0m0 21.5h0m0 2.5h0" stroke="#1a5a23" stroke-width="2.85"/>
<path d="M142 114.2h0m0 21.4h0m0 4.6h0m17.9-25.5h0m0 21.4h0m0 3.7h0m18.1-24.6h0m0 21.5h0m0 3.2h0m18.2-24.1h0m0 21.5h0m0 2.8h0m18.3-23.8h0m0 21.5h0m0 2.7h0m18.4-23.6h0m0 21.5h0m0 2.5h0" stroke="#39c84e"/>
<path d="M52.6 113.6h0m0 22.3h0m0 1.5h0m6.9-23.6h0m0 22.3h0m0 1.5h0" stroke="#175a28" stroke-width="2.85"/>
<path d="M52.6 113.6h0m0 22.3h0m0 1.5h0m6.9-23.6h0m0 22.3h0m0 1.5h0" stroke="#32c859"/>
<path d="M66.5 114h0m0 22.3h0m0 1.5h0m7-23.6h0m0 22.3h0m0 1.6h0" stroke="#185a26" stroke-width="2.85"/>
<path d="M66.5 114h0m0 22.3h0m0 1.5h0m7-23.6h0m0 22.3h0m0 1.6h0" stroke="#34c855"/>
<path d="M80.5 114.4h0m0 22.4h0m0 1.5h0m7-23.7h0m0 22.4h0m0 1.5h0" stroke="#195a25" stroke-width="2.85"/>
<path d="M80.5 114.4h0m0 22.4h0m0 1.5h0m7-23.7h0m0 22.4h0m0 1.5h0" stroke="#37c851"/>
<path d="M94.5 114.9h0m0 22.3h0m0 1.7h0m7.1-23.8h0m0 22.4h0m0 2.6h0" stroke="#1a5a23" stroke-width="2.85"/>
<path d="M94.5 114.9h0m0 22.3h0m0 1.7h0m7.1-23.8h0m0 22.4h0m0 2.6h0" stroke="#39c84e"/>
<path d="M108.7 115.3h0m0 22.4h0m0 1.7h0m7-23.9h0m0 22.4h0m0 1.5h0" stroke="#1b5a21" stroke-width="2.85"/>
<path d="M108.7 115.3h0m0 22.4h0m0 1.7h0m7-23.9h0m0 22.4h0m0 1.5h0" stroke="#3bc84a"/>
<path d="M122.9 115.7h0m-0.1 22.5h0m0 1.4h0" stroke="#1e5b20" stroke-width="2.85"/>
<path d="M122.9 115.7h0m-0.1 22.5h0m0 1.4h0" stroke="#43ca46"/>
<path d="M140.7 116.2h0m0 22.5h0m0 4.5h0m18-26.4h0m0 22.5h0m0 3.5h0m18-25.5h0m0 22.6h0m0 3.1h0m18.2-25.2h0m0 22.6h0m0 2.8h0m18.4-24.8h0m0 22.6h0m0 2.6h0m18.4-24.7h0m0 22.7h0m0 2.5h0" stroke="#255c1e" stroke-width="2.85"/>
<path d="M140.7 116.2h0m0 22.5h0m0 4.5h0m18-26.4h0m0 22.5h0m0 3.5h0m18-25.5h0m0 22.6h0m0 3.1h0m18.2-25.2h0m0 22.6h0m0 2.8h0m18.4-24.8h0m0 22.6h0m0 2.6h0m18.4-24.7h0m0 22.7h0m0 2.5h0" stroke="#52cd42"/>
<path d="M51.2 115.6h0m0 23.3h0m0 1.6h0" stroke="#195a25" stroke-width="2.85"/>
<path d="M51.2 115.6h0m0 23.3h0m0 1.6h0" stroke="#37c851"/>
<path d="M58.2 115.8h0m0 23.3h0m0 1.6h0m6.9-24.7h0m0 23.4h0m0 1.6h0" stroke="#1a5a23" stroke-width="2.85"/>
<path d="M58.2 115.8h0m0 23.3h0m0 1.6h0m6.9-24.7h0m0 23.4h0m0 1.6h0" stroke="#39c84e"/>
<path d="M72.1 116.3h0m0 23.3h0m0 1.6h0m7-24.7h0m0 23.3h0m0 1.6h0" stroke="#1b5a21" stroke-width="2.85"/>
<path d="M72.1 116.3h0m0 23.3h0m0 1.6h0m7-24.7h0m0 23.3h0m0 1.6h0" stroke="#3bc84a"/>
<path d="M86.1 116.7h0m0 23.4h0m0 1.5h0m7.1-24.7h0m0 23.4h0m0 1.7h0" stroke="#1e5b20" stroke-width="2.85"/>
<path d="M86.1 116.7h0m0 23.4h0m0 1.5h0m7.1-24.7h0m0 23.4h0m0 1.7h0" stroke="#43ca46"/>
<path d="M100.3 117.1h0m-0.1 23.4h0m0 2.6h0m7.1-25.8h0m0 23.5h0m0 1.7h0" stroke="#255c1e" stroke-width="2.85"/>
<path d="M100.3 117.1h0m-0.1 23.4h0m0 2.6h0m7.1-25.8h0m0 23.5h0m0 1.7h0" stroke="#52cd42"/>
<path d="M114.4 117.5h0m0 23.5h0m0 1.6h0m7.1-24.9h0m0 23.6h0m0 1.5h0" stroke="#2b5e1c" stroke-width="2.85"/>
<path d="M114.4 117.5h0m0 23.5h0m0 1.6h0m7.1-24.9h0m0 23.6h0m0 1.5h0" stroke="#60d13f"/>
<path d="M139.4 118.3h0m0 23.6h0m0 4.4h0m18-27.5h0m0 23.6h0m0 3.5h0m18.1-26.5h0m0 23.6h0m0 3h0m18.2-26.1h0m0 23.7h0m0 2.6h0m18.3-25.8h0m0 23.8h0m0 2.5h0m18.5-25.7h0m0 23.8h0m0 2.4h0" stroke="#325f1b" stroke-width="2.85"/>
<path d="M139.4 118.3h0m0 23.6h0m0 4.4h0m18-27.5h0m0 23.6h0m0 3.5h0m18.1-26.5h0m0 23.6h0m0 3h0m18.2-26.1h0m0 23.7h0m0 2.6h0m18.3-25.8h0m0 23.8h0m0 2.5h0m18.5-25.7h0m0 23.8h0m0 2.4h0" stroke="#6ed43b"/>
<path d="M49.8 117.6h0m0 24.2h0m0 1.8h0m7-25.8h0m0 24.3h0m0 1.7h0" stroke="#1e5b20" stroke-width="2.85"/>
<path d="M49.8 117.6h0m0 24.2h0m0 1.8h0m7-25.8h0m0 24.3h0m0 1.7h0" stroke="#43ca46"/>
<path d="M63.7 118h0m0 24.3h0m0 1.7h0m7-25.8h0m0 24.3h0m0 1.7h0" stroke="#255c1e" stroke-width="2.85"/>
<path d="M63.7 118h0m0 24.3h0m0 1.7h0m7-25.8h0m0 24.3h0m0 1.7h0" stroke="#52cd42"/>
<path d="M77.8 118.5h0m0 24.3h0m0 1.7h0m7-25.8h0m0 24.3h0m0 1.7h0" stroke="#2b5e1c" stroke-width="2.85"/>
<path d="M77.8 118.5h0m0 24.3h0m0 1.7h0m7-25.8h0m0 24.3h0m0 1.7h0" stroke="#60d13f"/>
<path d="M91.8 118.9h0m0 24.3h0m0 1.8h0m7.1-25.9h0m0 24.4h0m0 2.7h0" stroke="#325f1b" stroke-width="2.85"/>
<path d="M91.8 118.9h0m0 24.3h0m0 1.8h0m7.1-25.9h0m0 24.4h0m0 2.7h0" stroke="#6ed43b"/>
<path d="M106 119.3h0m0 24.4h0m0 1.9h0m7.1-26.1h0m0 24.5h0m0 1.6h0" stroke="#386119" stroke-width="2.85"/>
<path d="M106 119.3h0m0 24.4h0m0 1.9h0m7.1-26.1h0m0 24.5h0m0 1.6h0" stroke="#7dd837"/>
<path d="M120.2 119.7h0m0 24.6h0m0 1.5h0" stroke="#3f6317" stroke-width="2.85"/>
<path d="M120.2 119.7h0m0 24.6h0m0 1.5h0" stroke="#8bdb33"/>
<path d="M138.1 120.3h0m0 24.6h0m0 4.5h0m18-28.6h0m0 24.7h0m0 3.5h0m18.1-27.6h0m0 24.7h0m0 3h0m18.2-27.2h0m0 24.7h0m0 2.7h0m18.4-26.8h0m0 24.7h0m0 2.6h0m18.4-26.8h0m0 24.8h0m0 2.5h0" stroke="#456415" stroke-width="2.85"/>
<path d="M138.1 120.3h0m0 24.6h0m0 4.5h0m18-28.6h0m0 24.7h0m0 3.5h0m18.1-27.6h0m0 24.7h0m0 3h0m18.2-27.2h0m0 24.7h0m0 2.7h0m18.4-26.8h0m0 24.7h0m0 2.6h0m18.4-26.8h0m0 24.8h0m0 2.5h0" stroke="#9adf30"/>
<path d="M48.4 119.5h0m0 25.1h0m0 1.9h0" stroke="#2b5e1c" stroke-width="2.85"/>
<path d="M48.4 119.5h0m0 25.1h0m0 1.9h0" stroke="#60d13f"/>
<path d="M55.4 119.7h0m0 25.1h0m0 1.9h0m7-26.8h0m0 25.1h0m0 2h0" stroke="#325f1b" stroke-width="2.85"/>
<path d="M55.4 119.7h0m0 25.1h0m0 1.9h0m7-26.8h0m0 25.1h0m0 2h0" stroke="#6ed43b"/>
<path d="M69.4 120.2h0m0 25.1h0m0 1.9h0m7-26.8h0m0 25.1h0m0 1.9h0" stroke="#386119" stroke-width="2.85"/>
<path d="M69.4 120.2h0m0 25.1h0m0 1.9h0m7-26.8h0m0 25.1h0m0 1.9h0" stroke="#7dd837"/>
<path d="M83.4 120.6h0m0 25.1h0m0 2h0m7.1-26.9h0m0 25.2h0m0 2h0" stroke="#3f6317" stroke-width="2.85"/>
<path d="M83.4 120.6h0m0 25.1h0m0 2h0m7.1-26.9h0m0 25.2h0m0 2h0" stroke="#8bdb33"/>
<path d="M97.6 121h0m0 25.2h0m0 3h0m7.1-27.9h0m0 25.2h0m0 2.1h0" stroke="#456415" stroke-width="2.85"/>
<path d="M97.6 121h0m0 25.2h0m0 3h0m7.1-27.9h0m0 25.2h0m0 2.1h0" stroke="#9adf30"/>
<path d="M111.8 121.5h0m0 25.3h0m0 1.8h0m7.1-26.9h0m0 25.4h0m0 1.7h0" stroke="#4c6614" stroke-width="2.85"/>
<path d="M111.8 121.5h0m0 25.3h0m0 1.8h0m7.1-26.9h0m0 25.4h0m0 1.7h0" stroke="#a8e22c"/>
<path d="M136.8 122.2h0m0 25.7h0m0 4.5h0m18-29.6h0m0 25.6h0m0 3.6h0m18.1-28.7h0m0 25.7h0m0 3.2h0m18.3-28.4h0m0 25.8h0m0 2.8h0m18.3-28h0m0 25.8h0m0 2.6h0m18.5-27.8h0m0 25.8h0m0 2.5h0" stroke="#4f6613" stroke-width="2.85"/>
<path d="M136.8 122.2h0m0 25.7h0m0 4.5h0m18-29.6h0m0 25.6h0m0 3.6h0m18.1-28.7h0m0 25.7h0m0 3.2h0m18.3-28.4h0m0 25.8h0m0 2.8h0m18.3-28h0m0 25.8h0m0 2.6h0m18.5-27.8h0m0 25.8h0m0 2.5h0" stroke="#b0e22b"/>
<path d="M47 121.3h0m0 25.8h0m0 2.3h0m7-27.9h0m0 25.8h0m0 2.3h0" stroke="#3f6317" stroke-width="2.85"/>
<path d="M47 121.3h0m0 25.8h0m0 2.3h0m7-27.9h0m0 25.8h0m0 2.3h0" stroke="#8bdb33"/>
<path d="M61 121.8h0m0 25.7h0m0 2.3h0m7-27.8h0m0 25.8h0m0 2.2h0" stroke="#456415" stroke-width="2.85"/>
<path d="M61 121.8h0m0 25.7h0m0 2.3h0m7-27.8h0m0 25.8h0m0 2.2h0" stroke="#9adf30"/>
<path d="M75 122.2h0m0 25.8h0m0 2.3h0m7.1-27.9h0m0 25.9h0m0 2.2h0" stroke="#4c6614" stroke-width="2.85"/>
<path d="M75 122.2h0m0 25.8h0m0 2.3h0m7.1-27.9h0m0 25.9h0m0 2.2h0" stroke="#a8e22c"/>
<path d="M89.1 122.7h0m0 25.8h0m0 2.4h0m7.1-28h0m0 25.9h0m0 3.4h0" stroke="#4f6613" stroke-width="2.85"/>
<path d="M89.1 122.7h0m0 25.8h0m0 2.4h0m7.1-28h0m0 25.9h0m0 3.4h0" stroke="#b0e22b"/>
<path d="M103.3 123.1h0m0 26h0m0 2.4h0m7.2-28.2h0m0 26.2h0m0 2h0" stroke="#536513" stroke-width="2.85"/>
<path d="M103.3 123.1h0m0 26h0m0 2.4h0m7.2-28.2h0m0 26.2h0m0 2h0" stroke="#b9e22a"/>
<path d="M117.6 123.5h0m0 26.3h0m0 1.9h0" stroke="#576512" stroke-width="2.85"/>
<path d="M117.6 123.5h0m0 26.3h0m0 1.9h0" stroke="#c2e129"/>
<path d="M135.5 124.1h0m0 26.5h0m0 4.9h0m18-30.9h0m0 26.6h0m0 3.9h0m18.2-30h0m0 26.7h0m0 3.4h0m18.2-29.5h0m0 26.7h0m0 3h0m18.4-29.2h0m0 26.8h0m0 2.9h0m18.4-29.1h0m0 26.8h0m0 2.7h0" stroke="#5b6512" stroke-width="2.85"/>
<path d="M135.5 124.1h0m0 26.5h0m0 4.9h0m18-30.9h0m0 26.6h0m0 3.9h0m18.2-30h0m0 26.7h0m0 3.4h0m18.2-29.5h0m0 26.7h0m0 3h0m18.4-29.2h0m0 26.8h0m0 2.9h0m18.4-29.1h0m0 26.8h0m0 2.7h0" stroke="#cae128"/>
<path d="M45.6 123h0m0 26.2h0m0 2.8h0" stroke="#4c6614" stroke-width="2.85"/>
<path d="M45.6 123h0m0 26.2h0m0 2.8h0" stroke="#a8e22c"/>
<path d="M52.6 123.2h0m0 26.3h0m0 2.7h0m7-28.8h0m0 26.3h0m0 2.8h0" stroke="#4f6613" stroke-width="2.85"/>
<path d="M52.6 123.2h0m0 26.3h0m0 2.7h0m7-28.8h0m0 26.3h0m0 2.8h0" stroke="#b0e22b"/>
<path d="M66.6 123.7h0m0 26.3h0m0 2.7h0m7.1-28.8h0m0 26.3h0m0 2.7h0" stroke="#536513" stroke-width="2.85"/>
<path d="M66.6 123.7h0m0 26.3h0m0 2.7h0m7.1-28.8h0m0 26.3h0m0 2.7h0" stroke="#b9e22a"/>
<path d="M80.7 124.1h0m0 26.4h0m0 2.7h0m7.1-28.8h0m0 26.3h0m0 2.9h0" stroke="#576512" stroke-width="2.85"/>
<path d="M80.7 124.1h0m0 26.4h0m0 2.7h0m7.1-28.8h0m0 26.3h0m0 2.9h0" stroke="#c2e129"/>
<path d="M94.9 124.6h0m0 26.4h0m0 4.2h0m7.1-30.4h0m0 26.6h0m0 2.8h0" stroke="#5b6512" stroke-width="2.85"/>
<path d="M94.9 124.6h0m0 26.4h0m0 4.2h0m7.1-30.4h0m0 26.6h0m0 2.8h0" stroke="#cae128"/>
<path d="M109.1 125h0m0 26.8h0m0 2.3h0m7.2-28.9h0m0 27h0m0 2.1h0" stroke="#5f6512" stroke-width="2.85"/>
<path d="M109.1 125h0m0 26.8h0m0 2.3h0m7.2-28.9h0m0 27h0m0 2.1h0" stroke="#d2e127"/>
<path d="M134.2 125.8h0m0 27.4h0m0 5.4h0m18-32.3h0m0 27.5h0m0 4.4h0m18.2-31.4h0m0 27.6h0m0 3.9h0m18.2-30.9h0m0 27.6h0m0 3.4h0m18.4-30.5h0m0 27.7h0m0 3.3h0m18.5-30.4h0m0 27.7h0m0 3.1h0" stroke="#636511" stroke-width="2.85"/>
<path d="M134.2 125.8h0m0 27.4h0m0 5.4h0m18-32.3h0m0 27.5h0m0 4.4h0m18.2-31.4h0m0 27.6h0m0 3.9h0m18.2-30.9h0m0 27.6h0m0 3.4h0m18.4-30.5h0m0 27.7h0m0 3.3h0m18.5-30.4h0m0 27.7h0m0 3.1h0" stroke="#dbe026"/>
<path d="M44.2 124.5h0m0 26.6h0m0 3.4h0m7-29.8h0m0 26.7h0m0 3.3h0" stroke="#576512" stroke-width="2.85"/>
<path d="M44.2 124.5h0m0 26.6h0m0 3.4h0m7-29.8h0m0 26.7h0m0 3.3h0" stroke="#c2e129"/>
<path d="M58.2 125h0m0 26.6h0m0 3.3h0m7-29.7h0m0 26.7h0m0 3.3h0" stroke="#5b6512" stroke-width="2.85"/>
<path d="M58.2 125h0m0 26.6h0m0 3.3h0m7-29.7h0m0 26.7h0m0 3.3h0" stroke="#cae128"/>
<path d="M72.3 125.5h0m0 26.6h0m0 3.3h0m7.1-29.7h0m0 26.7h0m0 3.3h0" stroke="#5f6512" stroke-width="2.85"/>
<path d="M72.3 125.5h0m0 26.6h0m0 3.3h0m7.1-29.7h0m0 26.7h0m0 3.3h0" stroke="#d2e127"/>
<path d="M86.4 125.9h0m0 26.7h0m0 3.6h0m7.1-30.1h0m0 26.9h0m0 5.1h0" stroke="#636511" stroke-width="2.85"/>
<path d="M86.4 125.9h0m0 26.7h0m0 3.6h0m7.1-30.1h0m0 26.9h0m0 5.1h0" stroke="#dbe026"/>
<path d="M100.7 126.4h0m0 27.1h0m0 3.4h0m7.1-30.3h0m0 27.3h0m0 2.8h0" stroke="#666511" stroke-width="2.85"/>
<path d="M100.7 126.4h0m0 27.1h0m0 3.4h0m7.1-30.3h0m0 27.3h0m0 2.8h0" stroke="#e4e025"/>
<path d="M114.9 126.8h0m0 27.6h0m0 2.4h0" stroke="#6a6510" stroke-width="2.85"/>
<path d="M114.9 126.8h0m0 27.6h0m0 2.4h0" stroke="#ece024"/>
<path d="M132.9 127.3h0m0 28.2h0m0 6.2h0m18-33.9h0m0 28.3h0m0 5.1h0m18.2-32.8h0m0 28.3h0m0 4.6h0m18.3-32.4h0m0 28.4h0m0 4.1h0m18.3-31.9h0m0 28.4h0m0 3.9h0m18.5-31.7h0m0 28.4h0m0 3.8h0" stroke="#6b6310" stroke-width="2.85"/>
<path d="M132.9 127.3h0m0 28.2h0m0 6.2h0m18-33.9h0m0 28.3h0m0 5.1h0m18.2-32.8h0m0 28.3h0m0 4.6h0m18.3-32.4h0m0 28.4h0m0 4.1h0m18.3-31.9h0m0 28.4h0m0 3.9h0m18.5-31.7h0m0 28.4h0m0 3.8h0" stroke="#eddd23"/>
<path d="M42.8 125.8h0m0 27.2h0m0 3.9h0m7-30.8h0m0 27.1h0m0 4h0m7-30.8h0m0 27.1h0m0 3.9h0" stroke="#636511" stroke-width="2.85"/>
<path d="M42.8 125.8h0m0 27.2h0m0 3.9h0m7-30.8h0m0 27.1h0m0 4h0m7-30.8h0m0 27.1h0m0 3.9h0" stroke="#dbe026"/>
<path d="M63.8 126.6h0m0.1 27.1h0m0 3.9h0m7-30.7h0m0 27.1h0m0 3.9h0" stroke="#666511" stroke-width="2.85"/>
<path d="M63.8 126.6h0m0.1 27.1h0m0 3.9h0m7-30.7h0m0 27.1h0m0 3.9h0" stroke="#e4e025"/>
<path d="M78 127.1h0m0 27.2h0m0 3.9h0m7.1-30.9h0m0 27.2h0m0 4.4h0" stroke="#6a6510" stroke-width="2.85"/>
<path d="M78 127.1h0m0 27.2h0m0 3.9h0m7.1-30.9h0m0 27.2h0m0 4.4h0" stroke="#ece024"/>
<path d="M92.2 127.6h0m0 27.3h0m0 6.3h0m7.1-33.4h0m0 27.7h0m0 4.1h0" stroke="#6b6310" stroke-width="2.85"/>
<path d="M92.2 127.6h0m0 27.3h0m0 6.3h0m7.1-33.4h0m0 27.7h0m0 4.1h0" stroke="#eddd23"/>
<path d="M106.5 128h0m0 28h0m0 3.2h0m7.1-31h0m0 28.3h0m0 2.8h0" stroke="#6b620f" stroke-width="2.85"/>
<path d="M106.5 128h0m0 28h0m0 3.2h0m7.1-31h0m0 28.3h0m0 2.8h0" stroke="#efda22"/>
<path d="M131.6 128.7h0m0 29.2h0m0 6.9h0m18-35.5h0m0 29.2h0m0 5.8h0m18.2-34.5h0m0 29.3h0m0 5.3h0m18.3-34h0m0 29.2h0m0 4.9h0m18.4-33.6h0m0 29.3h0m0 4.7h0m18.5-33.4h0m0 29.4h0m0 4.4h0" stroke="#6d5f0f" stroke-width="2.85"/>
<path d="M131.6 128.7h0m0 29.2h0m0 6.9h0m18-35.5h0m0 29.2h0m0 5.8h0m18.2-34.5h0m0 29.3h0m0 5.3h0m18.3-34h0m0 29.2h0m0 4.9h0m18.4-33.6h0m0 29.3h0m0 4.7h0m18.5-33.4h0m0 29.4h0m0 4.4h0" stroke="#f1d321"/>
<path d="M41.3 127.2h0m0 27.7h0m0.1 4.6h0" stroke="#6a6510" stroke-width="2.85"/>
<path d="M41.3 127.2h0m0 27.7h0m0.1 4.6h0" stroke="#ece024"/>
<path d="M48.4 127.5h0m0 27.7h0m0 4.5h0m7-31.9h0m0 27.6h0m0 4.5h0" stroke="#6b6310" stroke-width="2.85"/>
<path d="M48.4 127.5h0m0 27.7h0m0 4.5h0m7-31.9h0m0 27.6h0m0 4.5h0" stroke="#eddd23"/>
<path d="M62.5 128.1h0m0 27.6h0m0 4.5h0m7-31.9h0m0 27.7h0m0 4.4h0m7.1-31.8h0m0 27.6h0m0 4.5h0" stroke="#6b620f" stroke-width="2.85"/>
<path d="M62.5 128.1h0m0 27.6h0m0 4.5h0m7-31.9h0m0 27.7h0m0 4.4h0m7.1-31.8h0m0 27.6h0m0 4.5h0" stroke="#efda22"/>
<path d="M83.7 128.8h0m0 27.7h0m0 5.2h0m7.1-32.6h0m0 27.9h0m0 7.3h0" stroke="#6c600f" stroke-width="2.85"/>
<path d="M83.7 128.8h0m0 27.7h0m0 5.2h0m7.1-32.6h0m0 27.9h0m0 7.3h0" stroke="#f0d622"/>
<path d="M98 129.3h0m0 28.3h0m0 4.9h0m7.1-33h0m0 28.7h0m0 3.6h0" stroke="#6d5f0f" stroke-width="2.85"/>
<path d="M98 129.3h0m0 28.3h0m0 4.9h0m7.1-33h0m0 28.7h0m0 3.6h0" stroke="#f1d321"/>
<path d="M112.3 129.7h0m0 29.1h0m0 3h0" stroke="#6d5e0e" stroke-width="2.85"/>
<path d="M112.3 129.7h0m0 29.1h0m0 3h0" stroke="#f3d020"/>
<path d="M130.3 130.2h0m0 30.1h0m0 7.7h0m18-37.3h0m0 30.2h0m0 6.6h0m18.2-36.2h0m0 30.2h0m0 6h0m18.3-35.7h0m0 30.3h0m0 5.5h0m18.4-35.2h0m0 30.3h0m0 5.3h0m18.5-35.1h0m0 30.4h0m0 5.1h0" stroke="#6e5c0e" stroke-width="2.85"/>
<path d="M130.3 130.2h0m0 30.1h0m0 7.7h0m18-37.3h0m0 30.2h0m0 6.6h0m18.2-36.2h0m0 30.2h0m0 6h0m18.3-35.7h0m0 30.3h0m0 5.5h0m18.4-35.2h0m0 30.3h0m0 5.3h0m18.5-35.1h0m0 30.4h0m0 5.1h0" stroke="#f4cd1f"/>
<path d="M39.9 128.6h0m0 28.3h0m0 5.1h0m7-33.1h0m0.1 28.3h0m0 5h0" stroke="#6c600f" stroke-width="2.85"/>
<path d="M39.9 128.6h0m0 28.3h0m0 5.1h0m7-33.1h0m0.1 28.3h0m0 5h0" stroke="#f0d622"/>
<path d="M54 129.2h0m0 28.2h0m0 5h0m7.1-32.9h0m0 28.2h0m0 5h0" stroke="#6d5f0f" stroke-width="2.85"/>
<path d="M54 129.2h0m0 28.2h0m0 5h0m7.1-32.9h0m0 28.2h0m0 5h0" stroke="#f1d321"/>
<path d="M68.1 129.8h0m0.1 28.2h0m0 4.9h0m7-32.9h0m0.1 28.3h0m0 5h0" stroke="#6d5e0e" stroke-width="2.85"/>
<path d="M68.1 129.8h0m0.1 28.2h0m0 4.9h0m7-32.9h0m0.1 28.3h0m0 5h0" stroke="#f3d020"/>
<path d="M82.3 130.3h0m0.1 28.3h0m0 5.9h0m7.1-34h0m0 28.5h0m0 8.4h0m7.1-36.7h0m0 29h0m0 5.7h0" stroke="#6e5c0e" stroke-width="2.85"/>
<path d="M82.3 130.3h0m0.1 28.3h0m0 5.9h0m7.1-34h0m0 28.5h0m0 8.4h0m7.1-36.7h0m0 29h0m0 5.7h0" stroke="#f4cd1f"/>
<path d="M103.8 131h0m0 29.4h0m0 4.1h0m7.1-33.4h0m0.1 30h0m0 3.3h0" stroke="#6e5b0e" stroke-width="2.85"/>
<path d="M103.8 131h0m0 29.4h0m0 4.1h0m7.1-33.4h0m0.1 30h0m0 3.3h0" stroke="#f5ca1e"/>
<path d="M128.9 131.6h0m0.1 31.1h0m0 8.4h0m18-38.9h0m0 31.1h0m0 7.3h0m18.2-37.9h0m0 31.2h0m0 6.8h0m18.3-37.4h0m0 31.2h0m0 6.2h0m18.4-36.9h0m0 31.3h0m0 6h0m18.5-36.7h0m0 31.3h0m0 5.9h0" stroke="#6f570d" stroke-width="2.85"/>
<path d="M128.9 131.6h0m0.1 31.1h0m0 8.4h0m18-38.9h0m0 31.1h0m0 7.3h0m18.2-37.9h0m0 31.2h0m0 6.8h0m18.3-37.4h0m0 31.2h0m0 6.2h0m18.4-36.9h0m0 31.3h0m0 6h0m18.5-36.7h0m0 31.3h0m0 5.9h0" stroke="#f6c11d"/>
<path d="M38.5 129.9h0m0 28.9h0m0 5.5h0m7-34.1h0m0.1 28.9h0m0 5.4h0" stroke="#6e5c0e" stroke-width="2.85"/>
<path d="M38.5 129.9h0m0 28.9h0m0 5.5h0m7-34.1h0m0.1 28.9h0m0 5.4h0" stroke="#f4cd1f"/>
<path d="M52.6 130.6h0m0 28.8h0m0 5.3h0m7.1-33.8h0m0 28.8h0m0 5.3h0m7.1-33.8h0m0 28.8h0m0 5.3h0" stroke="#6e5b0e" stroke-width="2.85"/>
<path d="M52.6 130.6h0m0 28.8h0m0 5.3h0m7.1-33.8h0m0 28.8h0m0 5.3h0m7.1-33.8h0m0 28.8h0m0 5.3h0" stroke="#f5ca1e"/>
<path d="M73.9 131.4h0m0 28.9h0m0 5.5h0m7.1-34.1h0m0 28.9h0m0 6.8h0" stroke="#6f590d" stroke-width="2.85"/>
<path d="M73.9 131.4h0m0 28.9h0m0 5.5h0m7.1-34.1h0m0 28.9h0m0 6.8h0" stroke="#f6c61e"/>
<path d="M88.1 132h0m0 29.1h0m0 9.4h0m7.2-38.3h0m0 29.7h0m0 6.5h0" stroke="#6f570d" stroke-width="2.85"/>
<path d="M88.1 132h0m0 29.1h0m0 9.4h0m7.2-38.3h0m0 29.7h0m0 6.5h0" stroke="#f6c11d"/>
<path d="M102.4 132.4h0m0 30.2h0m0 4.5h0m7.2-34.5h0m0 30.6h0m0 3.6h0" stroke="#6f550d" stroke-width="2.85"/>
<path d="M102.4 132.4h0m0 30.2h0m0 4.5h0m7.2-34.5h0m0 30.6h0m0 3.6h0" stroke="#f6bc1c"/>
<path d="M127.6 133h0m0 32h0m0 9.3h0m18.1-40.7h0m0 31.9h0m0 8.3h0m18.2-39.7h0m0 32h0m0 7.7h0m18.3-39.1h0m0.1 32h0m0 7.2h0m18.4-38.7h0m0 32.1h0m0 7h0m18.5-38.5h0m0 32.2h0m0 6.7h0" stroke="#6e520c" stroke-width="2.85"/>
<path d="M127.6 133h0m0 32h0m0 9.3h0m18.1-40.7h0m0 31.9h0m0 8.3h0m18.2-39.7h0m0 32h0m0 7.7h0m18.3-39.1h0m0.1 32h0m0 7.2h0m18.4-38.7h0m0 32.1h0m0 7h0m18.5-38.5h0m0 32.2h0m0 6.7h0" stroke="#f6b71c"/>
<path d="M37.1 131h0m0 29.6h0m0 5.6h0" stroke="#6f570d" stroke-width="2.85"/>
<path d="M37.1 131h0m0 29.6h0m0 5.6h0" stroke="#f6c11d"/>
<path d="M44.1 131.4h0m0 29.6h0m0 5.5h0m7.1-34.7h0m0 29.5h0m0 5.4h0m7.1-34.5h0m0 29.4h0m0 5.4h0" stroke="#6f550d" stroke-width="2.85"/>
<path d="M44.1 131.4h0m0 29.6h0m0 5.5h0m7.1-34.7h0m0 29.5h0m0 5.4h0m7.1-34.5h0m0 29.4h0m0 5.4h0" stroke="#f6bc1c"/>
<path d="M65.4 132.5h0m0 29.5h0m0 5.4h0m7.1-34.6h0m0 29.5h0m0 5.9h0m7.1-35.2h0m0 29.6h0m0 7.8h0" stroke="#6e520c" stroke-width="2.85"/>
<path d="M65.4 132.5h0m0 29.5h0m0 5.4h0m7.1-34.6h0m0 29.5h0m0 5.9h0m7.1-35.2h0m0 29.6h0m0 7.8h0" stroke="#f6b71c"/>
<path d="M86.8 133.3h0m0 29.8h0m0 10.6h0m7.1-40.2h0m0 30.4h0m0 7.6h0" stroke="#6e500c" stroke-width="2.85"/>
<path d="M86.8 133.3h0m0 29.8h0m0 10.6h0m7.1-40.2h0m0 30.4h0m0 7.6h0" stroke="#f5b21b"/>
<path d="M101.1 133.7h0m0 30.9h0m0 5.1h0m7.2-35.8h0m0 31.3h0m0 3.7h0" stroke="#6e4e0c" stroke-width="2.85"/>
<path d="M101.1 133.7h0m0 30.9h0m0 5.1h0m7.2-35.8h0m0 31.3h0m0 3.7h0" stroke="#f5ae1a"/>
<path d="M126.3 134.4h0m0 32.5h0m0 10.5h0m18.1-42.5h0m0 32.6h0m0 9.4h0m18.2-41.5h0m0.1 32.7h0m0 8.9h0m18.3-41h0m0 32.7h0m0 8.3h0m18.4-40.5h0m0 32.8h0m0 8.1h0m18.5-40.3h0m0 32.8h0m0 7.9h0" stroke="#6e4c0c" stroke-width="2.85"/>
<path d="M126.3 134.4h0m0 32.5h0m0 10.5h0m18.1-42.5h0m0 32.6h0m0 9.4h0m18.2-41.5h0m0.1 32.7h0m0 8.9h0m18.3-41h0m0 32.7h0m0 8.3h0m18.4-40.5h0m0 32.8h0m0 8.1h0m18.5-40.3h0m0 32.8h0m0 7.9h0" stroke="#f5a91a"/>
<path d="M35.6 132h0m0.1 30.3h0m0 5.6h0m7-35.4h0m0 30.2h0m0 5.4h0" stroke="#6e4e0c" stroke-width="2.85"/>
<path d="M35.6 132h0m0.1 30.3h0m0 5.6h0m7-35.4h0m0 30.2h0m0 5.4h0" stroke="#f5ae1a"/>
<path d="M49.8 132.9h0m0 30.1h0m0 5.4h0m7.1-35.1h0m0 30.1h0m0 5.3h0m7.1-35h0m0 30h0m0 5.6h0m7.1-35.3h0m0 30.1h0m0 6.6h0" stroke="#6e4c0c" stroke-width="2.85"/>
<path d="M49.8 132.9h0m0 30.1h0m0 5.4h0m7.1-35.1h0m0 30.1h0m0 5.3h0m7.1-35h0m0 30h0m0 5.6h0m7.1-35.3h0m0 30.1h0m0 6.6h0" stroke="#f5a91a"/>
<path d="M78.2 134.3h0m0.1 30.1h0m0 9.1h0m7.1-38.9h0m0 30.4h0m0 11.9h0m7.1-42.1h0m0.1 30.9h0m0 8.9h0m7.1-39.6h0m0 31.3h0m0 6.2h0" stroke="#6e4a0b" stroke-width="2.85"/>
<path d="M78.2 134.3h0m0.1 30.1h0m0 9.1h0m7.1-38.9h0m0 30.4h0m0 11.9h0m7.1-42.1h0m0.1 30.9h0m0 8.9h0m7.1-39.6h0m0 31.3h0m0 6.2h0" stroke="#f5a419"/>
<path d="M106.9 135.1h0m0 31.9h0m0 4h0m18.1-35.4h0m0 33h0m0 12h0m18.1-44.5h0m0 33h0m0 11h0m18.2-43.5h0m0.1 33.1h0m0 10.4h0m18.3-43h0m0 33.2h0m0 9.9h0m18.4-42.5h0m0 33.2h0m0 9.7h0m18.5-42.3h0m0 33.2h0m0 9.5h0" stroke="#6e470b" stroke-width="2.85"/>
<path d="M106.9 135.1h0m0 31.9h0m0 4h0m18.1-35.4h0m0 33h0m0 12h0m18.1-44.5h0m0 33h0m0 11h0m18.2-43.5h0m0.1 33.1h0m0 10.4h0m18.3-43h0m0 33.2h0m0 9.9h0m18.4-42.5h0m0 33.2h0m0 9.7h0m18.5-42.3h0m0 33.2h0m0 9.5h0" stroke="#f49f19"/>
<path d="M34.2 132.8h0m0 31.2h0m0 5.4h0m7.1-36.1h0m0 31.1h0m0 5.3h0m7.1-35.9h0m0 31h0m0 5.2h0m7.1-35.7h0m0 31h0m0 5.3h0m7.1-35.9h0m0 30.9h0m0 6.1h0" stroke="#6d450b" stroke-width="2.85"/>
<path d="M34.2 132.8h0m0 31.2h0m0 5.4h0m7.1-36.1h0m0 31.1h0m0 5.3h0m7.1-35.9h0m0 31h0m0 5.2h0m7.1-35.7h0m0 31h0m0 5.3h0m7.1-35.9h0m0 30.9h0m0 6.1h0" stroke="#f39918"/>
<path d="M69.7 135h0m0 31h0m0 7.7h0m7.2-38.4h0m0 31.1h0m0 10.3h0m7.1-41.1h0m0 31.3h0m0 13.2h0m7.2-44.2h0m0 31.7h0m0 10.2h0m7.2-41.7h0m0 32.1h0m0 7.4h0" stroke="#6d430b" stroke-width="2.85"/>
<path d="M69.7 135h0m0 31h0m0 7.7h0m7.2-38.4h0m0 31.1h0m0 10.3h0m7.1-41.1h0m0 31.3h0m0 13.2h0m7.2-44.2h0m0 31.7h0m0 10.2h0m7.2-41.7h0m0 32.1h0m0 7.4h0" stroke="#f29418"/>
<path d="M105.6 136.2h0m0 32.5h0m0 4.9h0m18-37h0m0.1 33.6h0m0 13.6h0m18.1-46.7h0m0 33.6h0m0 12.6h0m18.2-45.7h0m0.1 33.7h0m0 12.1h0m18.3-45.3h0m0 33.8h0m0 11.5h0m18.4-44.7h0m0 33.8h0m0 11.4h0m18.5-44.7h0m0 33.9h0m0 11.2h0" stroke="#6d400b" stroke-width="2.85"/>
<path d="M105.6 136.2h0m0 32.5h0m0 4.9h0m18-37h0m0.1 33.6h0m0 13.6h0m18.1-46.7h0m0 33.6h0m0 12.6h0m18.2-45.7h0m0.1 33.7h0m0 12.1h0m18.3-45.3h0m0 33.8h0m0 11.5h0m18.4-44.7h0m0 33.8h0m0 11.4h0m18.5-44.7h0m0 33.9h0m0 11.2h0" stroke="#f18f17"/>
<path d="M32.8 133.2h0m0 32.4h0m0 5.4h0m7-37.1h0m0.1 32.3h0m0 5.1h0m7-36.8h0m0.1 32.1h0m0 5.3h0" stroke="#6c3e0a" stroke-width="2.85"/>
<path d="M32.8 133.2h0m0 32.4h0m0 5.4h0m7-37.1h0m0.1 32.3h0m0 5.1h0m7-36.8h0m0.1 32.1h0m0 5.3h0" stroke="#f08917"/>
<path d="M54.1 135h0m0 32.1h0m0 5.8h0m7.1-37.4h0m0 32.1h0m0 7h0m7.1-38.8h0m0 32.2h0m0.1 8.9h0m7.1-40.7h0m0 32.2h0m0 11.6h0m7.1-43.4h0m0.1 32.3h0m0 14.6h0m7.1-46.7h0m0 32.8h0m0.1 11.6h0m7.1-44.2h0m0 33.1h0m0 8.8h0m7.2-41.9h0m0 33.5h0m0 6.1h0" stroke="#6c3b0a" stroke-width="2.85"/>
<path d="M54.1 135h0m0 32.1h0m0 5.8h0m7.1-37.4h0m0 32.1h0m0 7h0m7.1-38.8h0m0 32.2h0m0.1 8.9h0m7.1-40.7h0m0 32.2h0m0 11.6h0m7.1-43.4h0m0.1 32.3h0m0 14.6h0m7.1-46.7h0m0 32.8h0m0.1 11.6h0m7.1-44.2h0m0 33.1h0m0 8.8h0m7.2-41.9h0m0 33.5h0m0 6.1h0" stroke="#ef8417"/>
<path d="M122.3 137.4h0m0 34.3h0m0 15.7h0m18.2-49.6h0m0 34.4h0m0 14.7h0m18.2-48.5h0m0 34.4h0m0.1 14.1h0m18.3-48h0m0 34.5h0m0 13.6h0m18.4-47.6h0m0 34.6h0m0 13.4h0m18.6-47.4h0m0 34.6h0m0 13.2h0" stroke="#6b390a" stroke-width="2.85"/>
<path d="M122.3 137.4h0m0 34.3h0m0 15.7h0m18.2-49.6h0m0 34.4h0m0 14.7h0m18.2-48.5h0m0 34.4h0m0.1 14.1h0m18.3-48h0m0 34.5h0m0 13.6h0m18.4-47.6h0m0 34.6h0m0 13.4h0m18.6-47.4h0m0 34.6h0m0 13.2h0" stroke="#ee7f16"/>
<path d="M31.3 133.2h0m0 33.8h0m0.1 5.5h0m7-38.4h0m0 33.6h0m0 5.4h0m7.1-38.3h0m0 33.4h0m0.1 6.1h0m7-38.8h0m0.1 33.3h0m0 7h0m7.1-39.8h0m0 33.3h0m0 8.6h0m7.1-41.5h0m0.1 33.4h0m0 10.5h0m7.1-43.4h0m0 33.4h0m0 13.1h0m7.2-46.2h0m0 33.6h0m0 16.1h0m7.2-49.4h0m0 33.9h0m0 13.2h0m7.2-47h0m0 34.2h0m0 10.5h0m7.2-44.6h0m0 34.5h0m0 7.8h0m18.1-42h0m0 35.1h0m0 18h0m18.2-52.7h0m0 35.2h0m0 17h0m18.2-51.7h0m0 35.3h0m0 16.5h0m18.4-51.3h0m0 35.3h0m0 16h0m18.4-50.8h0m0 35.4h0m0 15.9h0m18.6-50.7h0m0 35.4h0m0 15.7h0" stroke="#69340a" stroke-width="2.85"/>
<path d="M31.3 133.2h0m0 33.8h0m0.1 5.5h0m7-38.4h0m0 33.6h0m0 5.4h0m7.1-38.3h0m0 33.4h0m0.1 6.1h0m7-38.8h0m0.1 33.3h0m0 7h0m7.1-39.8h0m0 33.3h0m0 8.6h0m7.1-41.5h0m0.1 33.4h0m0 10.5h0m7.1-43.4h0m0 33.4h0m0 13.1h0m7.2-46.2h0m0 33.6h0m0 16.1h0m7.2-49.4h0m0 33.9h0m0 13.2h0m7.2-47h0m0 34.2h0m0 10.5h0m7.2-44.6h0m0 34.5h0m0 7.8h0m18.1-42h0m0 35.1h0m0 18h0m18.2-52.7h0m0 35.2h0m0 17h0m18.2-51.7h0m0 35.3h0m0 16.5h0m18.4-51.3h0m0 35.3h0m0 16h0m18.4-50.8h0m0 35.4h0m0 15.9h0m18.6-50.7h0m0 35.4h0m0 15.7h0" stroke="#ea7416"/>
<path d="M29.9 132.9h0m0 35.1h0m0 6.7h0m7.1-40.7h0m0 34.8h0m0 7.1h0m7.1-41h0m0 34.6h0m0 8.1h0m7.1-41.9h0m0.1 34.4h0m0 9.3h0m7.1-43.1h0m0 34.4h0m0 10.8h0m7.1-44.6h0m0.1 34.4h0m0 12.7h0m7.1-46.6h0m0 34.5h0m0 15.2h0m7.2-49.3h0m0 34.7h0m0 18.1h0m7.2-52.5h0m0 34.9h0m0 15.3h0m7.2-50.1h0m0 35.2h0m0 12.6h0m7.2-47.9h0m0 35.5h0m0 10.1h0m18.1-45.4h0m0.1 35.9h0m0 20.3h0m18.1-55.8h0m0.1 36h0m0 19.3h0m18.2-54.8h0m0 36.1h0m0 18.8h0m18.4-54.4h0m0 36.1h0m0 18.3h0m18.4-53.9h0m0 36.2h0m0 18.2h0m18.6-53.9h0m0 36.3h0m0 18h0" stroke="#662d09" stroke-width="2.85"/>
<path d="M29.9 132.9h0m0 35.1h0m0 6.7h0m7.1-40.7h0m0 34.8h0m0 7.1h0m7.1-41h0m0 34.6h0m0 8.1h0m7.1-41.9h0m0.1 34.4h0m0 9.3h0m7.1-43.1h0m0 34.4h0m0 10.8h0m7.1-44.6h0m0.1 34.4h0m0 12.7h0m7.1-46.6h0m0 34.5h0m0 15.2h0m7.2-49.3h0m0 34.7h0m0 18.1h0m7.2-52.5h0m0 34.9h0m0 15.3h0m7.2-50.1h0m0 35.2h0m0 12.6h0m7.2-47.9h0m0 35.5h0m0 10.1h0m18.1-45.4h0m0.1 35.9h0m0 20.3h0m18.1-55.8h0m0.1 36h0m0 19.3h0m18.2-54.8h0m0 36.1h0m0 18.8h0m18.4-54.4h0m0 36.1h0m0 18.3h0m18.4-53.9h0m0 36.2h0m0 18.2h0m18.6-53.9h0m0 36.3h0m0 18h0" stroke="#e36415"/>
<path d="M28.4 132.2h0m0.1 36.2h0m0 9.6h0m7-44.4h0m0.1 35.8h0m0 10.1h0m7.1-44.8h0m0 35.5h0m0 11.1h0m7.1-45.6h0m0 35.3h0m0.1 12.1h0m7.1-46.6h0m0 35.2h0m0 13.6h0m7.1-48.2h0m0.1 35.3h0m0 15.4h0m7.1-50.1h0m0 35.4h0m0.1 17.8h0m7.1-52.7h0m0 35.5h0m0.1 20.7h0m7.1-55.8h0m0 35.7h0m0.1 17.8h0m7.1-53.5h0m0.1 35.9h0m0 15.3h0m7.2-51.4h0m0 36.2h0m0 12.9h0m18.1-49h0m0 36.5h0m0 21h0m18.2-57.2h0m0 36.6h0m0 20.1h0m18.3-56.2h0m0 36.7h0m0 19.6h0m18.4-55.9h0m0 36.8h0m0 19.1h0m18.4-55.4h0m0 36.9h0m0.1 19h0m18.5-55.3h0m0 36.9h0m0 18.8h0" stroke="#642809" stroke-width="2.85"/>
<path d="M28.4 132.2h0m0.1 36.2h0m0 9.6h0m7-44.4h0m0.1 35.8h0m0 10.1h0m7.1-44.8h0m0 35.5h0m0 11.1h0m7.1-45.6h0m0 35.3h0m0.1 12.1h0m7.1-46.6h0m0 35.2h0m0 13.6h0m7.1-48.2h0m0.1 35.3h0m0 15.4h0m7.1-50.1h0m0 35.4h0m0.1 17.8h0m7.1-52.7h0m0 35.5h0m0.1 20.7h0m7.1-55.8h0m0 35.7h0m0.1 17.8h0m7.1-53.5h0m0.1 35.9h0m0 15.3h0m7.2-51.4h0m0 36.2h0m0 12.9h0m18.1-49h0m0 36.5h0m0 21h0m18.2-57.2h0m0 36.6h0m0 20.1h0m18.3-56.2h0m0 36.7h0m0 19.6h0m18.4-55.9h0m0 36.8h0m0 19.1h0m18.4-55.4h0m0 36.9h0m0.1 19h0m18.5-55.3h0m0 36.9h0m0 18.8h0" stroke="#de5914"/>
<path d="M27 131h0m0 37.1h0m0 13.9h0m7.1-49.2h0m0 36.6h0m0.1 14.1h0m7-49.2h0m0.1 36.1h0m0 14.9h0m7.1-49.8h0m0 35.9h0m0 15.8h0m7.1-50.7h0m0.1 35.8h0m0 17.1h0m7.1-52.1h0m0.1 35.9h0m0 18.7h0m7.1-53.9h0m0 36h0m0.1 21h0m7.1-56.4h0m0 36.2h0m0.1 23.7h0m7.1-59.5h0m0.1 36.4h0m0 20.8h0m7.2-57.3h0m0 36.6h0m0 18.4h0m7.2-55.2h0m0 36.8h0m0 16h0m18.1-52.9h0m0.1 37h0m0 21.1h0m18.2-58h0m0 37.3h0m0 20.2h0m18.3-57h0m0 37.2h0m0 19.9h0m18.4-56.7h0m0 37.3h0m0 19.5h0m18.4-56.3h0m0.1 37.4h0m0 19.3h0m18.5-56.2h0m0 37.5h0m0 19.1h0" stroke="#622409" stroke-width="2.85"/>
<path d="M27 131h0m0 37.1h0m0 13.9h0m7.1-49.2h0m0 36.6h0m0.1 14.1h0m7-49.2h0m0.1 36.1h0m0 14.9h0m7.1-49.8h0m0 35.9h0m0 15.8h0m7.1-50.7h0m0.1 35.8h0m0 17.1h0m7.1-52.1h0m0.1 35.9h0m0 18.7h0m7.1-53.9h0m0 36h0m0.1 21h0m7.1-56.4h0m0 36.2h0m0.1 23.7h0m7.1-59.5h0m0.1 36.4h0m0 20.8h0m7.2-57.3h0m0 36.6h0m0 18.4h0m7.2-55.2h0m0 36.8h0m0 16h0m18.1-52.9h0m0.1 37h0m0 21.1h0m18.2-58h0m0 37.3h0m0 20.2h0m18.3-57h0m0 37.2h0m0 19.9h0m18.4-56.7h0m0 37.3h0m0 19.5h0m18.4-56.3h0m0.1 37.4h0m0 19.3h0m18.5-56.2h0m0 37.5h0m0 19.1h0" stroke="#da5014"/>
<path d="M25.5 129.3h0m0.1 38.2h0m0 18.6h0m7-54.5h0m0.1 37.5h0m0 18.5h0m7.1-54.1h0m0 36.9h0m0.1 19.1h0m7.1-54.3h0m0 36.5h0m0 19.6h0m7.1-54.9h0m0.1 36.4h0m0 20.7h0m7.1-56.2h0m0.1 36.6h0m0 22.1h0m7.1-57.7h0m0.1 36.6h0m0 24.2h0m7.1-60.1h0m0.1 36.9h0m0 26.7h0m7.1-63.2h0m0.1 37.1h0m0 23.8h0m7.2-61h0m0 37.3h0m0 21.4h0m7.2-59.2h0m0.1 37.6h0m0 19.3h0m18.1-57.2h0m0 37.7h0m0 20.9h0m18.2-58.6h0m0.1 38h0m0 20.1h0m18.3-57.7h0m0 38h0m0 19.8h0m18.4-57.4h0m0 38.1h0m0 19.4h0m18.4-57h0m0 38.1h0m0.1 19.3h0m18.5-56.9h0m0 38.2h0m0 19.1h0" stroke="#602109" stroke-width="2.85"/>
<path d="M25.5 129.3h0m0.1 38.2h0m0 18.6h0m7-54.5h0m0.1 37.5h0m0 18.5h0m7.1-54.1h0m0 36.9h0m0.1 19.1h0m7.1-54.3h0m0 36.5h0m0 19.6h0m7.1-54.9h0m0.1 36.4h0m0 20.7h0m7.1-56.2h0m0.1 36.6h0m0 22.1h0m7.1-57.7h0m0.1 36.6h0m0 24.2h0m7.1-60.1h0m0.1 36.9h0m0 26.7h0m7.1-63.2h0m0.1 37.1h0m0 23.8h0m7.2-61h0m0 37.3h0m0 21.4h0m7.2-59.2h0m0.1 37.6h0m0 19.3h0m18.1-57.2h0m0 37.7h0m0 20.9h0m18.2-58.6h0m0.1 38h0m0 20.1h0m18.3-57.7h0m0 38h0m0 19.8h0m18.4-57.4h0m0 38.1h0m0 19.4h0m18.4-57h0m0 38.1h0m0.1 19.3h0m18.5-56.9h0m0 38.2h0m0 19.1h0" stroke="#d64913"/>
<path d="M24 126.8h0m0.1 39.5h0m0 24.1h0m7.1-60.5h0m0 38.5h0m0.1 23.6h0m7-59.6h0m0.1 37.7h0m0 23.7h0m7.1-59.2h0m0.1 37.1h0m0 24h0m7.1-59.5h0m0.1 37h0m0 24.6h0m7.1-60.4h0m0.1 37.2h0m0 25.8h0m7.1-61.9h0m0.1 37.3h0m0 27.7h0m7.1-64h0m0.1 37.5h0m0 30h0m7.2-67.1h0m0 37.8h0m0 27h0m7.2-65h0m0 38.1h0m0.1 24.6h0m7.2-63.4h0m0 38.3h0m0 22.8h0m18.1-61.8h0m0.1 38.5h0m0 20.5h0m18.2-59.1h0m0 38.7h0m0 19.9h0m18.3-58.3h0m0.1 38.8h0m0 19.6h0m18.4-58.1h0m0 38.9h0m0 19.3h0m18.4-57.7h0m0 38.9h0m0 19.2h0m18.6-57.7h0m0 39.1h0m0 19h0" stroke="#5f1f08" stroke-width="2.85"/>
<path d="M24 126.8h0m0.1 39.5h0m0 24.1h0m7.1-60.5h0m0 38.5h0m0.1 23.6h0m7-59.6h0m0.1 37.7h0m0 23.7h0m7.1-59.2h0m0.1 37.1h0m0 24h0m7.1-59.5h0m0.1 37h0m0 24.6h0m7.1-60.4h0m0.1 37.2h0m0 25.8h0m7.1-61.9h0m0.1 37.3h0m0 27.7h0m7.1-64h0m0.1 37.5h0m0 30h0m7.2-67.1h0m0 37.8h0m0 27h0m7.2-65h0m0 38.1h0m0.1 24.6h0m7.2-63.4h0m0 38.3h0m0 22.8h0m18.1-61.8h0m0.1 38.5h0m0 20.5h0m18.2-59.1h0m0 38.7h0m0 19.9h0m18.3-58.3h0m0.1 38.8h0m0 19.6h0m18.4-58.1h0m0 38.9h0m0 19.3h0m18.4-57.7h0m0 38.9h0m0 19.2h0m18.6-57.7h0m0 39.1h0m0 19h0" stroke="#d44513"/>
<path d="M22.6 123.5h0m0 40.8h0m0.1 26.3h0m7-63.1h0m0.1 39.6h0m0 25h0m7.1-61.1h0m0.1 38.3h0m0 24.7h0m7.1-60.3h0m0 37.7h0m0.1 24.4h0m7.1-59.9h0m0 37.4h0m0.1 24.7h0m7.1-60.6h0m0 37.7h0m0.1 25.4h0m7.1-61.6h0m0.1 37.8h0m0 27h0m7.1-63.6h0m0.1 38.1h0m0 28.9h0m7.2-66.5h0m0 38.5h0m0 25.7h0m7.2-64.6h0m0.1 38.8h0m0 23.5h0m7.2-63.4h0m0 39.2h0m0 21.9h0m18.2-62.1h0m0 39.3h0m0 19.8h0m18.3-59.5h0m0 39.7h0m0 19.3h0m18.3-58.8h0m0 39.8h0m0 19.1h0m18.4-58.6h0m0 39.8h0m0.1 18.9h0m18.4-58.3h0m0 39.8h0m0 18.9h0m18.6-58.3h0m0 39.9h0m0 18.9h0" stroke="#5e1c08" stroke-width="2.85"/>
<path d="M22.6 123.5h0m0 40.8h0m0.1 26.3h0m7-63.1h0m0.1 39.6h0m0 25h0m7.1-61.1h0m0.1 38.3h0m0 24.7h0m7.1-60.3h0m0 37.7h0m0.1 24.4h0m7.1-59.9h0m0 37.4h0m0.1 24.7h0m7.1-60.6h0m0 37.7h0m0.1 25.4h0m7.1-61.6h0m0.1 37.8h0m0 27h0m7.1-63.6h0m0.1 38.1h0m0 28.9h0m7.2-66.5h0m0 38.5h0m0 25.7h0m7.2-64.6h0m0.1 38.8h0m0 23.5h0m7.2-63.4h0m0 39.2h0m0 21.9h0m18.2-62.1h0m0 39.3h0m0 19.8h0m18.3-59.5h0m0 39.7h0m0 19.3h0m18.3-58.8h0m0 39.8h0m0 19.1h0m18.4-58.6h0m0 39.8h0m0.1 18.9h0m18.4-58.3h0m0 39.8h0m0 18.9h0m18.6-58.3h0m0 39.9h0m0 18.9h0" stroke="#d03e12"/>
<path d="M22.7 190.6L29.8 192.1L37 194L44.2 195.8L51.4 198L58.6 200.5L65.8 203.7L73 207.1L80.2 204.8L87.5 202.5L94.7 200.2M22.6 164.4L29.8 167.2L37 169.3L44.1 171.5L51.3 173.3L58.5 175.2L65.8 176.7L73 178.3L80.2 179.1L87.5 179.1L94.7 178.4M22.6 123.5L29.7 127.5L36.9 131L44.1 133.7L51.3 135.9L58.5 137.4L65.7 138.9L72.9 140.1L80.2 140.6L87.4 140.2L94.7 139.1" stroke="#999" stroke-width=".4"/></g>
<g fill="#1c1c1c"><text transform="translate(17.1 212.4) rotate(90)" text-anchor="middle" font-size="7">0</text>
<text transform="translate(17 180.5) rotate(90)" text-anchor="middle" font-size="7">50</text>
<text transform="translate(17 148.5) rotate(90)" text-anchor="middle" font-size="7">100</text>
<text transform="translate(16.9 116.6) rotate(90)" text-anchor="middle" font-size="7">150</text>
<text transform="translate(16.9 84.7) rotate(90)" text-anchor="middle" font-size="7">200</text>
<text transform="translate(16.9 52.7) rotate(90)" text-anchor="middle" font-size="7">250</text>
<text transform="translate(16.8 20.8) rotate(90)" text-anchor="middle" font-size="7">300</text>
<text transform="translate(7.4 118.5) rotate(90)" text-anchor="middle" font-size="9.4">Natural frequency (kHz)</text>
<text x="168" y="223.1" text-anchor="middle" font-size="6">25</text>
<text x="131.2" y="221.7" text-anchor="middle" font-size="6">50</text>
<text x="94.8" y="220.3" text-anchor="middle" font-size="6">75</text>
<text x="58.6" y="219" text-anchor="middle" font-size="6">100</text>
<text x="112.6" y="230.6" text-anchor="middle" font-size="8.6"><tspan font-style="italic">V</tspan><tspan font-size="4.6" dy="1.6" font-style="italic">PP</tspan><tspan dy="-1.6"> (V)</tspan></text>
<text transform="translate(205.9 224.3) rotate(-20)" text-anchor="middle" font-size="6">0</text>
<text transform="translate(218.8 219.6) rotate(-20)" text-anchor="middle" font-size="6">100</text>
<text transform="translate(231.4 215) rotate(-20)" text-anchor="middle" font-size="6">200</text>
<text transform="translate(243.7 210.5) rotate(-20)" text-anchor="middle" font-size="6">300</text>
<text transform="translate(255.7 206.2) rotate(-20)" text-anchor="middle" font-size="6">400</text>
<text transform="translate(267.4 201.9) rotate(-20)" text-anchor="middle" font-size="6">500</text>
<text transform="translate(241.4 220.4) rotate(-20)" text-anchor="middle" font-size="8.6"><tspan font-style="italic">V</tspan><tspan font-size="4.6" dy="1.6" font-style="italic">TT</tspan><tspan dy="-1.6"> (V)</tspan></text></g>
<text y="245.8" font-size="10.3" fill="#1c1c1c"><tspan x="104.4" font-weight="bold">(a)</tspan><tspan x="118.4" font-style="italic">b</tspan><tspan font-size="7" dy="1.9">0</tspan><tspan dy="-1.9" x="131.6">=</tspan><tspan x="142.6">2.5</tspan><tspan x="156.6">µm</tspan></text>

</g>
<g transform="translate(272.5 0)">
<path d="M22.6 179.1L91.6 159M91.6 159L266.5 164.8M22.6 147.1L91.7 128.5M91.7 128.5L266.5 134M22.5 115.2L91.8 98M91.8 98L266.5 103.2M22.5 83.3L91.8 67.4M91.8 67.4L266.5 72.5M22.4 51.3L91.9 36.9M91.9 36.9L266.5 41.8M37.1 206.5L37 16.7M37.1 206.5L217.9 213.2M51.2 202.1L51.2 14M51.2 202.1L230.5 208.6M64.9 197.8L65.1 11.4M64.9 197.8L242.8 204.1M78.4 193.6L78.7 8.9M78.4 193.6L254.8 199.8M230.1 194.3L230.2 10M168 216.5L230.1 194.3M194.4 193L194.6 9.1M131.2 215.1L194.4 193M159.5 191.8L159.8 8.2M94.8 213.7L159.5 191.8M125.2 190.7L125.6 7.3M58.6 212.4L125.2 190.7" stroke="#e4e4e4" stroke-width=".5" fill="none"/>
<path d="M91.5 189.5L92 6.4M22.7 211L91.5 189.5M91.5 189.5L266.5 195.5" stroke="#aaa" stroke-width=".5" fill="none"/>
<path d="M22.7 211L22.4 19.4M205 217.9L205 23M266.5 195.5L266.5 11M22.4 19.4L92 6.4M92 6.4L266.5 11M266.5 11L205 23M205 23L22.4 19.4M22.7 211L205 217.9M205 217.9L266.5 195.5M22.7 211h2M266.5 195.5h-2M205 217.9h1.4M22.7 204.6h1M266.5 189.3h-1M205 211.4h0.7M22.7 198.2h1M266.5 183.2h-1M205 204.9h0.7M22.7 191.8h1M266.5 177.1h-1M205 198.4h0.7M22.7 185.5h1M266.5 170.9h-1M205 191.9h0.7M22.6 179.1h2M266.5 164.8h-2M205 185.4h1.4M22.6 172.7h1M266.5 158.6h-1M205 178.9h0.7M22.6 166.3h1M266.5 152.4h-1M205 172.4h0.7M22.6 159.9h1M266.5 146.3h-1M205 165.9h0.7M22.6 153.5h1M266.5 140.2h-1M205 159.4h0.7M22.6 147.1h2M266.5 134h-2M205 152.9h1.4M22.6 140.7h1M266.5 127.9h-1M205 146.4h0.7M22.6 134.4h1M266.5 121.7h-1M205 139.9h0.7M22.6 128h1M266.5 115.5h-1M205 133.4h0.7M22.6 121.6h1M266.5 109.4h-1M205 126.9h0.7M22.5 115.2h2M266.5 103.2h-2M205 120.5h1.4M22.5 108.8h1M266.5 97.1h-1M205 114h0.7M22.5 102.4h1M266.5 91h-1M205 107.5h0.7M22.5 96h1M266.5 84.8h-1M205 101h0.7M22.5 89.7h1M266.5 78.7h-1M205 94.5h0.7M22.5 83.3h2M266.5 72.5h-2M205 88h1.4M22.5 76.9h1M266.5 66.3h-1M205 81.5h0.7M22.5 70.5h1M266.5 60.2h-1M205 75h0.7M22.5 64.1h1M266.5 54h-1M205 68.5h0.7M22.5 57.7h1M266.5 47.9h-1M205 62h0.7M22.4 51.3h2M266.5 41.8h-2M205 55.5h1.4M22.4 44.9h1M266.5 35.6h-1M205 49h0.7M22.4 38.6h1M266.5 29.4h-1M205 42.5h0.7M22.4 32.2h1M266.5 23.3h-1M205 36h0.7M22.4 25.8h1M266.5 17.2h-1M205 29.5h0.7M22.4 19.4h2M266.5 11h-2M205 23h1.4M205 217.9v-2M205 23v2M266.5 11v2M197.6 217.6v-1M197.6 22.9v1M259.2 10.8v1M190.1 217.3v-1M190.1 22.7v1M251.9 10.6v1M182.7 217.1v-1M182.7 22.6v1M244.6 10.4v1M175.3 216.8v-1M175.3 22.4v1M237.4 10.2v1M168 216.5v-2M167.9 22.3v2M230.2 10v2M160.6 216.2v-1M160.5 22.1v1M223 9.9v1M153.2 215.9v-1M153.1 22v1M215.9 9.7v1M145.9 215.7v-1M145.8 21.8v1M208.8 9.5v1M138.5 215.4v-1M138.4 21.7v1M201.7 9.3v1M131.2 215.1v-2M131.1 21.5v2M194.6 9.1v2M123.9 214.8v-1M123.8 21.4v1M187.6 8.9v1M116.6 214.6v-1M116.4 21.3v1M180.6 8.7v1M109.3 214.3v-1M109.1 21.1v1M173.6 8.6v1M102 214v-1M101.9 21v1M166.7 8.4v1M94.8 213.7v-2M94.6 20.8v2M159.8 8.2v2M87.5 213.5v-1M87.3 20.7v1M152.9 8v1M80.3 213.2v-1M80 20.5v1M146 7.8v1M73 212.9v-1M72.8 20.4v1M139.2 7.6v1M65.8 212.6v-1M65.6 20.3v1M132.3 7.5v1M58.6 212.4v-2M58.3 20.1v2M125.6 7.3v2M51.4 212.1v-1M51.1 20v1M118.8 7.1v1M44.2 211.8v-1M43.9 19.8v1M112.1 6.9v1M37 211.5v-1M36.7 19.7v1M105.3 6.8v1M29.9 211.3v-1M29.6 19.5v1M98.7 6.6v1M22.7 211v-2M22.4 19.4v2M92 6.4v2M205 217.9v-2M22.4 19.4v2M205 23v2M207.6 217v-1M25.3 18.9v1M207.6 22.5v1M210.2 216v-1M28.3 18.3v1M210.2 22v1M212.8 215.1v-1M31.2 17.8v1M212.8 21.5v1M215.3 214.1v-1M34.1 17.2v1M215.3 21v1M217.9 213.2v-2M37 16.7v2M217.9 20.5v2M220.4 212.3v-1M39.9 16.1v1M220.4 20v1M223 211.4v-1M42.7 15.6v1M223 19.5v1M225.5 210.4v-1M45.6 15.1v1M225.5 19v1M228 209.5v-1M48.4 14.5v1M228 18.5v1M230.5 208.6v-2M51.2 14v2M230.5 18v2M232.9 207.7v-1M54 13.5v1M232.9 17.5v1M235.4 206.8v-1M56.8 13v1M235.4 17.1v1M237.9 205.9v-1M59.6 12.5v1M237.9 16.6v1M240.3 205v-1M62.4 11.9v1M240.3 16.1v1M242.8 204.1v-2M65.1 11.4v2M242.8 15.6v2M245.2 203.3v-1M67.9 10.9v1M245.2 15.2v1M247.6 202.4v-1M70.6 10.4v1M247.6 14.7v1M250 201.5v-1M73.3 9.9v1M250 14.2v1M252.4 200.6v-1M76 9.4v1M252.4 13.8v1M254.8 199.8v-2M78.7 8.9v2M254.8 13.3v2M257.1 198.9v-1M81.4 8.4v1M257.1 12.8v1M259.5 198.1v-1M84.1 7.9v1M259.5 12.4v1M261.8 197.2v-1M86.7 7.4v1M261.8 11.9v1M264.2 196.3v-1M89.4 6.9v1M264.2 11.5v1M266.5 195.5v-2M92 6.4v2M266.5 11v2" stroke="#727272" stroke-width=".5" fill="none"/>
<g fill="none" stroke-width="1.95"><path d="M92 24.1h0m-0.1 29.9h0m-0.1 21.7h0m13.5-51.2h0m-0.1 29.9h0m0 21.7h0m13.6-51.3h0m-0.1 30h0m-0.1 21.7h0m13.7-51.3h0m-0.1 30h0m0 21.7h0m13.8-51.3h0m-0.1 29.9h0m0 21.8h0m13.8-51.4h0m0 30h0m0 21.8h0m17.4-51.3h0m0 30h0m-0.1 21.8h0m17.6-51.3h0m0 30h0m0 21.8h0m17.7-51.3h0m0 30h0m0 21.8h0m17.9-51.3h0m0 30h0m0 21.8h0m18.1-51.4h0m0 30.2h0m-0.1 21.8h0m18.3-51.5h0m0 30.2h0m0 21.8h0" stroke="#00005a" stroke-width="2.85"/>
<path d="M92 24.1h0m-0.1 29.9h0m-0.1 21.7h0m13.5-51.2h0m-0.1 29.9h0m0 21.7h0m13.6-51.3h0m-0.1 30h0m-0.1 21.7h0m13.7-51.3h0m-0.1 30h0m0 21.7h0m13.8-51.3h0m-0.1 29.9h0m0 21.8h0m13.8-51.4h0m0 30h0m0 21.8h0m17.4-51.3h0m0 30h0m-0.1 21.8h0m17.6-51.3h0m0 30h0m0 21.8h0m17.7-51.3h0m0 30h0m0 21.8h0m17.9-51.3h0m0 30h0m0 21.8h0m18.1-51.4h0m0 30.2h0m-0.1 21.8h0m18.3-51.5h0m0 30.2h0m0 21.8h0" stroke="#0000c8"/>
<path d="M91.2 76.5h0m13.3 0.4h0m13.5 0.4h0m13.6 0.4h0m13.7 0.4h0m13.7 0.4h0m17.4 0.5h0m17.6 0.5h0m17.7 0.5h0m17.9 0.5h0m18.1 0.6h0m18.2 0.5h0" stroke="#00005a" stroke-width="2.85"/>
<path d="M91.2 76.5h0m13.3 0.4h0m13.5 0.4h0m13.6 0.4h0m13.7 0.4h0m13.7 0.4h0m17.4 0.5h0m17.6 0.5h0m17.7 0.5h0m17.9 0.5h0m18.1 0.6h0m18.2 0.5h0" stroke="#0001c9"/>
<path d="M90.6 27.8h0m0 28.7h0m-0.1 20.8h0m13.5-49.2h0m-0.1 28.7h0m0 20.9h0m13.6-49.2h0m-0.1 28.7h0m0 20.9h0m13.6-49.2h0m0 28.7h0m-0.1 20.9h0m13.8-49.3h0m0 28.8h0m-0.1 20.9h0m13.9-49.3h0m0 28.8h0m-0.1 20.9h0m17.5-49.2h0m-0.1 28.8h0m0 20.9h0m17.6-49.2h0m0 28.8h0m0 20.9h0m17.7-49.2h0m0 28.8h0m0 20.9h0m17.9-49.3h0m0 28.9h0m0 21h0m18.1-49.4h0m0 28.9h0m0 21h0m18.2-49.4h0m0 28.9h0m0 21h0" stroke="#00005b" stroke-width="2.85"/>
<path d="M90.6 27.8h0m0 28.7h0m-0.1 20.8h0m13.5-49.2h0m-0.1 28.7h0m0 20.9h0m13.6-49.2h0m-0.1 28.7h0m0 20.9h0m13.6-49.2h0m0 28.7h0m-0.1 20.9h0m13.8-49.3h0m0 28.8h0m-0.1 20.9h0m13.9-49.3h0m0 28.8h0m-0.1 20.9h0m17.5-49.2h0m-0.1 28.8h0m0 20.9h0m17.6-49.2h0m0 28.8h0m0 20.9h0m17.7-49.2h0m0 28.8h0m0 20.9h0m17.9-49.3h0m0 28.9h0m0 21h0m18.1-49.4h0m0 28.9h0m0 21h0m18.2-49.4h0m0 28.9h0m0 21h0" stroke="#0001c9"/>
<path d="M89.8 78.1h0m13.4 0.4h0m13.5 0.4h0m13.6 0.4h0m13.7 0.4h0m13.8 0.4h0m17.4 0.5h0m17.6 0.5h0m17.7 0.6h0m17.9 0.5h0m18.1 0.5h0m18.3 0.6h0" stroke="#00015b" stroke-width="2.85"/>
<path d="M89.8 78.1h0m13.4 0.4h0m13.5 0.4h0m13.6 0.4h0m13.7 0.4h0m13.8 0.4h0m17.4 0.5h0m17.6 0.5h0m17.7 0.6h0m17.9 0.5h0m18.1 0.5h0m18.3 0.6h0" stroke="#0102cb"/>
<path d="M89.3 31.4h0m-0.1 27.5h0m0 20h0m13.5-47.1h0m-0.1 27.5h0m0 20h0m13.6-47.1h0m-0.1 27.5h0m0 20h0m13.7-47.2h0m-0.1 27.6h0m0 20h0m13.8-47.2h0m-0.1 27.6h0m0 20h0m13.9-47.2h0m-0.1 27.6h0m0 20h0m17.5-47.1h0m-0.1 27.6h0m0 20h0m17.6-47.2h0m0 27.7h0m0 20.1h0m17.7-47.3h0m0 27.7h0m0 20.1h0m17.9-47.3h0m0 27.7h0m0 20.1h0m18.1-47.3h0m0 27.7h0m0 20.1h0m18.3-47.3h0m0 27.7h0m0 20.2h0" stroke="#00015c" stroke-width="2.85"/>
<path d="M89.3 31.4h0m-0.1 27.5h0m0 20h0m13.5-47.1h0m-0.1 27.5h0m0 20h0m13.6-47.1h0m-0.1 27.5h0m0 20h0m13.7-47.2h0m-0.1 27.6h0m0 20h0m13.8-47.2h0m-0.1 27.6h0m0 20h0m13.9-47.2h0m-0.1 27.6h0m0 20h0m17.5-47.1h0m-0.1 27.6h0m0 20h0m17.6-47.2h0m0 27.7h0m0 20.1h0m17.7-47.3h0m0 27.7h0m0 20.1h0m17.9-47.3h0m0 27.7h0m0 20.1h0m18.1-47.3h0m0 27.7h0m0 20.1h0m18.3-47.3h0m0 27.7h0m0 20.2h0" stroke="#0103cb"/>
<path d="M88.5 79.8h0m13.4 0.3h0m13.5 0.4h0m13.6 0.4h0m13.8 0.4h0m13.8 0.5h0m17.4 0.5h0m17.6 0.5h0m17.7 0.5h0m17.9 0.5h0m18.1 0.6h0m18.3 0.5h0" stroke="#01015c" stroke-width="2.85"/>
<path d="M88.5 79.8h0m13.4 0.3h0m13.5 0.4h0m13.6 0.4h0m13.8 0.4h0m13.8 0.5h0m17.4 0.5h0m17.6 0.5h0m17.7 0.5h0m17.9 0.5h0m18.1 0.6h0m18.3 0.5h0" stroke="#0103cc"/>
<path d="M88 35.1h0m-0.1 26.3h0m0 19.2h0m13.5-45.1h0m-0.1 26.3h0m0 19.2h0m13.6-45.2h0m-0.1 26.4h0m0 19.2h0m13.7-45.2h0m-0.1 26.4h0m0 19.2h0m13.8-45.2h0m0 26.4h0m-0.1 19.2h0m13.9-45.2h0m0 26.4h0m-0.1 19.2h0m17.5-45.2h0m0 26.5h0m0 19.2h0m17.6-45.2h0m0 26.5h0m0 19.2h0m17.7-45.2h0m0 26.5h0m0 19.2h0m18-45.2h0m-0.1 26.5h0m0 19.3h0m18.1-45.3h0m0 26.5h0m0 19.3h0m18.3-45.3h0m0 26.5h0m0 19.3h0" stroke="#01025c" stroke-width="2.85"/>
<path d="M88 35.1h0m-0.1 26.3h0m0 19.2h0m13.5-45.1h0m-0.1 26.3h0m0 19.2h0m13.6-45.2h0m-0.1 26.4h0m0 19.2h0m13.7-45.2h0m-0.1 26.4h0m0 19.2h0m13.8-45.2h0m0 26.4h0m-0.1 19.2h0m13.9-45.2h0m0 26.4h0m-0.1 19.2h0m17.5-45.2h0m0 26.5h0m0 19.2h0m17.6-45.2h0m0 26.5h0m0 19.2h0m17.7-45.2h0m0 26.5h0m0 19.2h0m18-45.2h0m-0.1 26.5h0m0 19.3h0m18.1-45.3h0m0 26.5h0m0 19.3h0m18.3-45.3h0m0 26.5h0m0 19.3h0" stroke="#0104cd"/>
<path d="M87.2 81.4h0m13.4 0.4h0m13.6 0.4h0m13.6 0.4h0m13.7 0.4h0m13.8 0.4h0m17.5 0.5h0m17.6 0.5h0m17.7 0.6h0m17.9 0.5h0m18.1 0.5h0m18.3 0.6h0" stroke="#01025c" stroke-width="2.85"/>
<path d="M87.2 81.4h0m13.4 0.4h0m13.6 0.4h0m13.6 0.4h0m13.7 0.4h0m13.8 0.4h0m17.5 0.5h0m17.6 0.5h0m17.7 0.6h0m17.9 0.5h0m18.1 0.5h0m18.3 0.6h0" stroke="#0204cd"/>
<path d="M86.6 38.7h0m0 25.3h0m-0.1 18.2h0m13.6-43.1h0m-0.1 25.3h0m0 18.2h0m13.6-43.1h0m-0.1 25.2h0m0 18.3h0m13.7-43.2h0m0 25.3h0m-0.1 18.3h0m13.8-43.2h0m0 25.3h0m0 18.3h0m13.9-43.2h0m-0.1 25.3h0m0 18.3h0m17.5-43.1h0m0 25.3h0m-0.1 18.3h0m17.7-43.1h0m0 25.3h0m-0.1 18.4h0m17.8-43.3h0m0 25.4h0m0 18.4h0m18-43.3h0m0 25.4h0m0 18.4h0m18.1-43.3h0m0 25.5h0m0 18.3h0m18.2-43.3h0m0 25.5h0m0 18.4h0" stroke="#01025d" stroke-width="2.85"/>
<path d="M86.6 38.7h0m0 25.3h0m-0.1 18.2h0m13.6-43.1h0m-0.1 25.3h0m0 18.2h0m13.6-43.1h0m-0.1 25.2h0m0 18.3h0m13.7-43.2h0m0 25.3h0m-0.1 18.3h0m13.8-43.2h0m0 25.3h0m0 18.3h0m13.9-43.2h0m-0.1 25.3h0m0 18.3h0m17.5-43.1h0m0 25.3h0m-0.1 18.3h0m17.7-43.1h0m0 25.3h0m-0.1 18.4h0m17.8-43.3h0m0 25.4h0m0 18.4h0m18-43.3h0m0 25.4h0m0 18.4h0m18.1-43.3h0m0 25.5h0m0 18.3h0m18.2-43.3h0m0 25.5h0m0 18.4h0" stroke="#0205ce"/>
<path d="M85.9 83.1h0m13.4 0.4h0m13.6 0.4h0m13.6 0.4h0m13.7 0.4h0m13.9 0.4h0m17.4 0.5h0m17.6 0.5h0m17.8 0.5h0m18 0.6h0m18.1 0.5h0m18.3 0.5h0" stroke="#01035d" stroke-width="2.85"/>
<path d="M85.9 83.1h0m13.4 0.4h0m13.6 0.4h0m13.6 0.4h0m13.7 0.4h0m13.9 0.4h0m17.4 0.5h0m17.6 0.5h0m17.8 0.5h0m18 0.6h0m18.1 0.5h0m18.3 0.5h0" stroke="#0206d0"/>
<path d="M85.3 42.4h0m0 24.1h0m-0.1 17.4h0m13.6-41.2h0m-0.1 24.2h0m0 17.4h0m13.6-41.2h0m0 24.2h0m-0.1 17.4h0m13.7-41.2h0m0 24.2h0m0 17.4h0m13.8-41.2h0m-0.1 24.2h0m0 17.4h0m13.9-41.3h0m0 24.3h0m0 17.4h0m17.5-41.2h0m-0.1 24.3h0m0 17.4h0m17.7-41.2h0m0 24.3h0m-0.1 17.4h0m17.8-41.2h0m0 24.3h0m0 17.5h0m18-41.3h0m0 24.3h0m0 17.5h0m18.1-41.3h0m0 24.3h0m0 17.5h0m18.3-41.3h0m0 24.4h0m0 17.5h0" stroke="#01035e" stroke-width="2.85"/>
<path d="M85.3 42.4h0m0 24.1h0m-0.1 17.4h0m13.6-41.2h0m-0.1 24.2h0m0 17.4h0m13.6-41.2h0m0 24.2h0m-0.1 17.4h0m13.7-41.2h0m0 24.2h0m0 17.4h0m13.8-41.2h0m-0.1 24.2h0m0 17.4h0m13.9-41.3h0m0 24.3h0m0 17.4h0m17.5-41.2h0m-0.1 24.3h0m0 17.4h0m17.7-41.2h0m0 24.3h0m-0.1 17.4h0m17.8-41.2h0m0 24.3h0m0 17.5h0m18-41.3h0m0 24.3h0m0 17.5h0m18.1-41.3h0m0 24.3h0m0 17.5h0m18.3-41.3h0m0 24.4h0m0 17.5h0" stroke="#0306d0"/>
<path d="M84.6 84.7h0m13.4 0.4h0m13.6 0.4h0m13.6 0.4h0m13.8 0.4h0m13.8 0.4h0m17.5 0.6h0m17.6 0.5h0m17.8 0.5h0m18 0.5h0m18.1 0.6h0m18.3 0.5h0" stroke="#01035e" stroke-width="2.85"/>
<path d="M84.6 84.7h0m13.4 0.4h0m13.6 0.4h0m13.6 0.4h0m13.8 0.4h0m13.8 0.4h0m17.5 0.6h0m17.6 0.5h0m17.8 0.5h0m18 0.5h0m18.1 0.6h0m18.3 0.5h0" stroke="#0307d1"/>
<path d="M84 46h0m-0.1 23.1h0m0 16.5h0m13.5-39.3h0m0 23.2h0m0 16.5h0m13.6-39.3h0m0 23.2h0m-0.1 16.5h0m13.8-39.3h0m-0.1 23.2h0m0 16.5h0m13.8-39.3h0m0 23.2h0m0 16.5h0m13.9-39.3h0m-0.1 23.2h0m0 16.5h0m17.5-39.3h0m0 23.3h0m0 16.5h0m17.7-39.3h0m-0.1 23.3h0m0 16.5h0m17.8-39.3h0m0 23.3h0m0 16.5h0m18-39.3h0m0 23.3h0m0 16.6h0m18.1-39.4h0m0 23.3h0m0 16.6h0m18.3-39.4h0m0 23.4h0m0 16.5h0" stroke="#01035e" stroke-width="2.85"/>
<path d="M84 46h0m-0.1 23.1h0m0 16.5h0m13.5-39.3h0m0 23.2h0m0 16.5h0m13.6-39.3h0m0 23.2h0m-0.1 16.5h0m13.8-39.3h0m-0.1 23.2h0m0 16.5h0m13.8-39.3h0m0 23.2h0m0 16.5h0m13.9-39.3h0m-0.1 23.2h0m0 16.5h0m17.5-39.3h0m0 23.3h0m0 16.5h0m17.7-39.3h0m-0.1 23.3h0m0 16.5h0m17.8-39.3h0m0 23.3h0m0 16.5h0m18-39.3h0m0 23.3h0m0 16.6h0m18.1-39.4h0m0 23.3h0m0 16.6h0m18.3-39.4h0m0 23.4h0m0 16.5h0" stroke="#0307d2"/>
<path d="M83.2 86.4h0m13.5 0.4h0m13.6 0.4h0m13.7 0.4h0m13.7 0.4h0m13.9 0.4h0m17.5 0.5h0m17.6 0.6h0m17.8 0.5h0m18 0.5h0m18.1 0.6h0m18.3 0.5h0" stroke="#01035f" stroke-width="2.85"/>
<path d="M83.2 86.4h0m13.5 0.4h0m13.6 0.4h0m13.7 0.4h0m13.7 0.4h0m13.9 0.4h0m17.5 0.5h0m17.6 0.6h0m17.8 0.5h0m18 0.5h0m18.1 0.6h0m18.3 0.5h0" stroke="#0308d2"/>
<path d="M82.6 49.6h0m0 22.2h0m0 15.5h0m13.5-37.4h0m0 22.2h0m0 15.6h0m13.6-37.4h0m0 22.2h0m-0.1 15.6h0m13.8-37.4h0m-0.1 22.2h0m0 15.6h0m13.9-37.4h0m-0.1 22.2h0m0 15.6h0m13.9-37.4h0m0 22.2h0m0 15.6h0m17.5-37.4h0m0 22.3h0m0 15.6h0m17.6-37.4h0m0 22.3h0m0 15.6h0m17.8-37.4h0m0 22.3h0m0 15.6h0m18-37.4h0m0 22.3h0m0 15.7h0m18.1-37.5h0m0 22.4h0m0 15.6h0m18.3-37.5h0m0 22.4h0m0 15.6h0" stroke="#02045f" stroke-width="2.85"/>
<path d="M82.6 49.6h0m0 22.2h0m0 15.5h0m13.5-37.4h0m0 22.2h0m0 15.6h0m13.6-37.4h0m0 22.2h0m-0.1 15.6h0m13.8-37.4h0m-0.1 22.2h0m0 15.6h0m13.9-37.4h0m-0.1 22.2h0m0 15.6h0m13.9-37.4h0m0 22.2h0m0 15.6h0m17.5-37.4h0m0 22.3h0m0 15.6h0m17.6-37.4h0m0 22.3h0m0 15.6h0m17.8-37.4h0m0 22.3h0m0 15.6h0m18-37.4h0m0 22.3h0m0 15.7h0m18.1-37.5h0m0 22.4h0m0 15.6h0m18.3-37.5h0m0 22.4h0m0 15.6h0" stroke="#0409d4"/>
<path d="M81.9 88.1h0m13.5 0.4h0m13.6 0.4h0m13.7 0.4h0m13.8 0.4h0m13.9 0.4h0m17.4 0.5h0m17.7 0.6h0m17.8 0.5h0m18 0.5h0m18.1 0.6h0m18.3 0.5h0" stroke="#020460" stroke-width="2.85"/>
<path d="M81.9 88.1h0m13.5 0.4h0m13.6 0.4h0m13.7 0.4h0m13.8 0.4h0m13.9 0.4h0m17.4 0.5h0m17.7 0.6h0m17.8 0.5h0m18 0.5h0m18.1 0.6h0m18.3 0.5h0" stroke="#0409d4"/>
<path d="M81.3 53.2h0m0 21.2h0m-0.1 14.6h0m13.6-35.5h0m0 21.3h0m-0.1 14.6h0m13.7-35.5h0m0 21.3h0m-0.1 14.6h0m13.8-35.5h0m0 21.3h0m-0.1 14.6h0m13.9-35.5h0m0 21.3h0m-0.1 14.6h0m14-35.5h0m-0.1 21.3h0m0 14.6h0m17.6-35.5h0m-0.1 21.4h0m0 14.6h0m17.7-35.5h0m0 21.4h0m0 14.6h0m17.8-35.5h0m0 21.4h0m0 14.6h0m18-35.5h0m0 21.4h0m0 14.7h0m18.1-35.6h0m0 21.4h0m0 14.7h0m18.3-35.6h0m0 21.5h0m0 14.6h0" stroke="#020460" stroke-width="2.85"/>
<path d="M81.3 53.2h0m0 21.2h0m-0.1 14.6h0m13.6-35.5h0m0 21.3h0m-0.1 14.6h0m13.7-35.5h0m0 21.3h0m-0.1 14.6h0m13.8-35.5h0m0 21.3h0m-0.1 14.6h0m13.9-35.5h0m0 21.3h0m-0.1 14.6h0m14-35.5h0m-0.1 21.3h0m0 14.6h0m17.6-35.5h0m-0.1 21.4h0m0 14.6h0m17.7-35.5h0m0 21.4h0m0 14.6h0m17.8-35.5h0m0 21.4h0m0 14.6h0m18-35.5h0m0 21.4h0m0 14.7h0m18.1-35.6h0m0 21.4h0m0 14.7h0m18.3-35.6h0m0 21.5h0m0 14.6h0" stroke="#040ad5"/>
<path d="M80.6 89.8h0m13.5 0.4h0m13.6 0.4h0m13.7 0.4h0m13.8 0.4h0m13.9 0.4h0m17.5 0.6h0m17.7 0.5h0m17.8 0.5h0m18 0.5h0m18.1 0.6h0m18.3 0.5h0" stroke="#020560" stroke-width="2.85"/>
<path d="M80.6 89.8h0m13.5 0.4h0m13.6 0.4h0m13.7 0.4h0m13.8 0.4h0m13.9 0.4h0m17.5 0.6h0m17.7 0.5h0m17.8 0.5h0m18 0.5h0m18.1 0.6h0m18.3 0.5h0" stroke="#040ad6"/>
<path d="M80 56.7h0m-0.1 20.4h0m0 13.6h0m13.6-33.6h0m-0.1 20.4h0m0 13.6h0m13.7-33.6h0m0 20.4h0m-0.1 13.6h0m13.8-33.6h0m0 20.4h0m0 13.6h0m13.8-33.7h0m0 20.5h0m0 13.6h0m13.9-33.7h0m0 20.5h0m0 13.6h0m17.5-33.6h0m0 20.5h0m0 13.6h0m17.7-33.6h0m0 20.5h0m0 13.6h0m17.8-33.6h0m0 20.5h0m0 13.7h0m18-33.7h0m0 20.5h0m0 13.7h0m18.1-33.7h0m0 20.5h0m0 13.7h0m18.3-33.7h0m0 20.5h0m0 13.8h0" stroke="#020560" stroke-width="2.85"/>
<path d="M80 56.7h0m-0.1 20.4h0m0 13.6h0m13.6-33.6h0m-0.1 20.4h0m0 13.6h0m13.7-33.6h0m0 20.4h0m-0.1 13.6h0m13.8-33.6h0m0 20.4h0m0 13.6h0m13.8-33.7h0m0 20.5h0m0 13.6h0m13.9-33.7h0m0 20.5h0m0 13.6h0m17.5-33.6h0m0 20.5h0m0 13.6h0m17.7-33.6h0m0 20.5h0m0 13.6h0m17.8-33.6h0m0 20.5h0m0 13.7h0m18-33.7h0m0 20.5h0m0 13.7h0m18.1-33.7h0m0 20.5h0m0 13.7h0m18.3-33.7h0m0 20.5h0m0 13.8h0" stroke="#040bd6"/>
<path d="M79.2 91.5h0m13.6 0.4h0m13.6 0.4h0m13.7 0.4h0m13.8 0.5h0m13.9 0.4h0m17.6 0.5h0m17.7 0.5h0m17.8 0.5h0m18 0.6h0m18.1 0.5h0m18.4 0.5h0" stroke="#020561" stroke-width="2.85"/>
<path d="M79.2 91.5h0m13.6 0.4h0m13.6 0.4h0m13.7 0.4h0m13.8 0.5h0m13.9 0.4h0m17.6 0.5h0m17.7 0.5h0m17.8 0.5h0m18 0.6h0m18.1 0.5h0m18.4 0.5h0" stroke="#050cd8"/>
<path d="M78.6 60.3h0m0 19.5h0m0 12.6h0m13.6-31.7h0m-0.1 19.5h0m0 12.6h0m13.7-31.8h0m0 19.6h0m-0.1 12.6h0m13.8-31.8h0m0 19.6h0m0 12.6h0m13.8-31.8h0m0 19.6h0m0 12.6h0m14-31.8h0m-0.1 19.6h0m0 12.6h0m17.6-31.7h0m0 19.6h0m0 12.6h0m17.7-31.7h0m0 19.6h0m-0.1 12.7h0m17.9-31.8h0m0 19.6h0m0 12.7h0m18-31.8h0m0 19.6h0m0 12.7h0m18.2-31.8h0m-0.1 19.6h0m0 12.8h0m18.4-31.9h0m0 19.7h0m0 12.7h0" stroke="#020661" stroke-width="2.85"/>
<path d="M78.6 60.3h0m0 19.5h0m0 12.6h0m13.6-31.7h0m-0.1 19.5h0m0 12.6h0m13.7-31.8h0m0 19.6h0m-0.1 12.6h0m13.8-31.8h0m0 19.6h0m0 12.6h0m13.8-31.8h0m0 19.6h0m0 12.6h0m14-31.8h0m-0.1 19.6h0m0 12.6h0m17.6-31.7h0m0 19.6h0m0 12.6h0m17.7-31.7h0m0 19.6h0m-0.1 12.7h0m17.9-31.8h0m0 19.6h0m0 12.7h0m18-31.8h0m0 19.6h0m0 12.7h0m18.2-31.8h0m-0.1 19.6h0m0 12.8h0m18.4-31.9h0m0 19.7h0m0 12.7h0" stroke="#050cd8"/>
<path d="M77.9 93.3h0m13.5 0.4h0m13.7 0.4h0m13.7 0.4h0m13.9 0.4h0m13.9 0.4h0m17.5 0.5h0m17.7 0.5h0m17.9 0.6h0m18 0.5h0m18.1 0.5h0m18.4 0.6h0" stroke="#020662" stroke-width="2.85"/>
<path d="M77.9 93.3h0m13.5 0.4h0m13.7 0.4h0m13.7 0.4h0m13.9 0.4h0m13.9 0.4h0m17.5 0.5h0m17.7 0.5h0m17.9 0.6h0m18 0.5h0m18.1 0.5h0m18.4 0.6h0" stroke="#050dd9"/>
<path d="M77.3 63.9h0m-0.1 18.6h0m0 11.7h0m13.6-30h0m0 18.7h0m0 11.7h0m13.7-30h0m0 18.7h0m-0.1 11.7h0m13.8-30h0m0 18.7h0m0 11.7h0m13.9-30h0m-0.1 18.7h0m0 11.7h0m14-30h0m0 18.7h0m0 11.7h0m17.5-29.9h0m0 18.7h0m0 11.7h0m17.7-29.9h0m0 18.7h0m0 11.7h0m17.9-29.9h0m0 18.7h0m0 11.8h0m18-30h0m0 18.8h0m0 11.7h0m18.2-30h0m0 18.8h0m-0.1 11.7h0m18.4-30h0m0 18.8h0m0 11.8h0" stroke="#030662" stroke-width="2.85"/>
<path d="M77.3 63.9h0m-0.1 18.6h0m0 11.7h0m13.6-30h0m0 18.7h0m0 11.7h0m13.7-30h0m0 18.7h0m-0.1 11.7h0m13.8-30h0m0 18.7h0m0 11.7h0m13.9-30h0m-0.1 18.7h0m0 11.7h0m14-30h0m0 18.7h0m0 11.7h0m17.5-29.9h0m0 18.7h0m0 11.7h0m17.7-29.9h0m0 18.7h0m0 11.7h0m17.9-29.9h0m0 18.7h0m0 11.8h0m18-30h0m0 18.8h0m0 11.7h0m18.2-30h0m0 18.8h0m-0.1 11.7h0m18.4-30h0m0 18.8h0m0 11.8h0" stroke="#060dda"/>
<path d="M76.5 95h0m13.6 0.4h0m13.7 0.4h0m13.7 0.4h0m13.9 0.5h0m13.9 0.4h0m17.6 0.5h0m17.7 0.5h0m17.9 0.5h0m18 0.6h0m18.2 0.5h0m18.3 0.6h0" stroke="#030662" stroke-width="2.85"/>
<path d="M76.5 95h0m13.6 0.4h0m13.7 0.4h0m13.7 0.4h0m13.9 0.5h0m13.9 0.4h0m17.6 0.5h0m17.7 0.5h0m17.9 0.5h0m18 0.6h0m18.2 0.5h0m18.3 0.6h0" stroke="#060eda"/>
<path d="M75.9 67.5h0m0 17.8h0m0 10.6h0m13.6-28.1h0m0 17.9h0m0 10.6h0m13.7-28.1h0m-0.1 17.9h0m0 10.6h0m13.8-28.1h0m0 17.9h0m0 10.6h0m13.9-28.1h0m0 17.9h0m0 10.6h0m13.9-28.1h0m0 17.9h0m0 10.6h0m17.6-28h0m0 17.9h0m0 10.7h0m17.7-28.1h0m0 17.9h0m0 10.7h0m17.9-28.1h0m0 17.9h0m0 10.7h0m18-28.1h0m0 18h0m0 10.7h0m18.2-28.2h0m0 18h0m0 10.7h0m18.3-28.2h0m0 18h0m0 10.7h0" stroke="#030763" stroke-width="2.85"/>
<path d="M75.9 67.5h0m0 17.8h0m0 10.6h0m13.6-28.1h0m0 17.9h0m0 10.6h0m13.7-28.1h0m-0.1 17.9h0m0 10.6h0m13.8-28.1h0m0 17.9h0m0 10.6h0m13.9-28.1h0m0 17.9h0m0 10.6h0m13.9-28.1h0m0 17.9h0m0 10.6h0m17.6-28h0m0 17.9h0m0 10.7h0m17.7-28.1h0m0 17.9h0m0 10.7h0m17.9-28.1h0m0 17.9h0m0 10.7h0m18-28.1h0m0 18h0m0 10.7h0m18.2-28.2h0m0 18h0m0 10.7h0m18.3-28.2h0m0 18h0m0 10.7h0" stroke="#060fdc"/>
<path d="M75.2 96.8h0m13.6 0.4h0m13.7 0.4h0m13.7 0.4h0m13.9 0.4h0m14 0.4h0m17.5 0.6h0m17.8 0.5h0m17.8 0.5h0m18.1 0.5h0m18.2 0.6h0m18.3 0.5h0" stroke="#030763" stroke-width="2.85"/>
<path d="M75.2 96.8h0m13.6 0.4h0m13.7 0.4h0m13.7 0.4h0m13.9 0.4h0m14 0.4h0m17.5 0.6h0m17.8 0.5h0m17.8 0.5h0m18.1 0.5h0m18.2 0.6h0m18.3 0.5h0" stroke="#060fdd"/>
<path d="M74.6 71.1h0m-0.1 17h0m0 9.6h0m13.7-26.2h0m-0.1 17h0m0 9.6h0m13.8-26.2h0m-0.1 17h0m0 9.6h0m13.8-26.2h0m0 17h0m0 9.6h0m13.9-26.3h0m0 17.1h0m0 9.6h0m14-26.3h0m-0.1 17.1h0m0 9.6h0m17.6-26.2h0m0 17.1h0m0 9.6h0m17.8-26.2h0m0 17.1h0m0 9.7h0m17.8-26.3h0m0 17.2h0m0 9.6h0m18.1-26.3h0m0 17.2h0m0 9.6h0m18.2-26.2h0m0 17.1h0m0 9.7h0m18.3-26.3h0m0 17.2h0m0 9.6h0" stroke="#030764" stroke-width="2.85"/>
<path d="M74.6 71.1h0m-0.1 17h0m0 9.6h0m13.7-26.2h0m-0.1 17h0m0 9.6h0m13.8-26.2h0m-0.1 17h0m0 9.6h0m13.8-26.2h0m0 17h0m0 9.6h0m13.9-26.3h0m0 17.1h0m0 9.6h0m14-26.3h0m-0.1 17.1h0m0 9.6h0m17.6-26.2h0m0 17.1h0m0 9.6h0m17.8-26.2h0m0 17.1h0m0 9.7h0m17.8-26.3h0m0 17.2h0m0 9.6h0m18.1-26.3h0m0 17.2h0m0 9.6h0m18.2-26.2h0m0 17.1h0m0 9.7h0m18.3-26.3h0m0 17.2h0m0 9.6h0" stroke="#0710dd"/>
<path d="M73.9 98.6h0m13.6 0.4h0m13.7 0.4h0m13.8 0.4h0m13.8 0.4h0m14 0.4h0m17.6 0.5h0m17.7 0.6h0m17.9 0.5h0m18.1 0.5h0m18.1 0.6h0m18.4 0.5h0" stroke="#030764" stroke-width="2.85"/>
<path d="M73.9 98.6h0m13.6 0.4h0m13.7 0.4h0m13.8 0.4h0m13.8 0.4h0m14 0.4h0m17.6 0.5h0m17.7 0.6h0m17.9 0.5h0m18.1 0.5h0m18.1 0.6h0m18.4 0.5h0" stroke="#0710de"/>
<path d="M73.2 74.7h0m0 16.3h0m0 8.4h0m13.6-24.3h0m0 16.3h0m0 8.5h0m13.7-24.4h0m0 16.3h0m0 8.5h0m13.8-24.4h0m0 16.3h0m0 8.5h0m13.9-24.4h0m0 16.3h0m0 8.5h0m14-24.4h0m0 16.3h0m0 8.5h0m17.6-24.3h0m0 16.3h0m0 8.5h0m17.7-24.3h0m0 16.3h0m0 8.5h0m17.9-24.3h0m0 16.3h0m0 8.6h0m18.1-24.4h0m0 16.4h0m0 8.5h0m18.2-24.4h0m-0.1 16.4h0m0 8.6h0m18.4-24.5h0m0 16.4h0m0 8.6h0" stroke="#030864" stroke-width="2.85"/>
<path d="M73.2 74.7h0m0 16.3h0m0 8.4h0m13.6-24.3h0m0 16.3h0m0 8.5h0m13.7-24.4h0m0 16.3h0m0 8.5h0m13.8-24.4h0m0 16.3h0m0 8.5h0m13.9-24.4h0m0 16.3h0m0 8.5h0m14-24.4h0m0 16.3h0m0 8.5h0m17.6-24.3h0m0 16.3h0m0 8.5h0m17.7-24.3h0m0 16.3h0m0 8.5h0m17.9-24.3h0m0 16.3h0m0 8.6h0m18.1-24.4h0m0 16.4h0m0 8.5h0m18.2-24.4h0m-0.1 16.4h0m0 8.6h0m18.4-24.5h0m0 16.4h0m0 8.6h0" stroke="#0711df"/>
<path d="M72.5 100.3h0m13.6 0.4h0m13.8 0.4h0m13.8 0.5h0m13.9 0.4h0m13.9 0.4h0m17.6 0.5h0m17.8 0.5h0m17.9 0.6h0m18 0.5h0m18.2 0.5h0m18.4 0.6h0" stroke="#030865" stroke-width="2.85"/>
<path d="M72.5 100.3h0m13.6 0.4h0m13.8 0.4h0m13.8 0.5h0m13.9 0.4h0m13.9 0.4h0m17.6 0.5h0m17.8 0.5h0m17.9 0.6h0m18 0.5h0m18.2 0.5h0m18.4 0.6h0" stroke="#0712e0"/>
<path d="M71.9 78.3h0m-0.1 15.5h0m0 7.4h0m13.7-22.5h0m0 15.5h0m0 7.4h0m13.7-22.5h0m0 15.5h0m0 7.4h0m13.8-22.5h0m0 15.5h0m0 7.4h0m13.9-22.5h0m0 15.6h0m0 7.4h0m14-22.6h0m0 15.6h0m0 7.4h0m17.6-22.5h0m0 15.6h0m0 7.4h0m17.8-22.5h0m0 15.6h0m0 7.4h0m17.9-22.5h0m0 15.6h0m0 7.5h0m18-22.6h0m0 15.7h0m0 7.4h0m18.2-22.6h0m0 15.7h0m0 7.4h0m18.4-22.6h0m0 15.7h0m0 7.5h0" stroke="#030865" stroke-width="2.85"/>
<path d="M71.9 78.3h0m-0.1 15.5h0m0 7.4h0m13.7-22.5h0m0 15.5h0m0 7.4h0m13.7-22.5h0m0 15.5h0m0 7.4h0m13.8-22.5h0m0 15.5h0m0 7.4h0m13.9-22.5h0m0 15.6h0m0 7.4h0m14-22.6h0m0 15.6h0m0 7.4h0m17.6-22.5h0m0 15.6h0m0 7.4h0m17.8-22.5h0m0 15.6h0m0 7.4h0m17.9-22.5h0m0 15.6h0m0 7.5h0m18-22.6h0m0 15.7h0m0 7.4h0m18.2-22.6h0m0 15.7h0m0 7.4h0m18.4-22.6h0m0 15.7h0m0 7.5h0" stroke="#0812e1"/>
<path d="M71.2 102.1h0m13.6 0.4h0m13.7 0.4h0m13.9 0.4h0m13.9 0.4h0m14 0.5h0m17.6 0.5h0m17.8 0.5h0m17.9 0.5h0m18 0.6h0m18.2 0.5h0m18.4 0.6h0" stroke="#040965" stroke-width="2.85"/>
<path d="M71.2 102.1h0m13.6 0.4h0m13.7 0.4h0m13.9 0.4h0m13.9 0.4h0m14 0.5h0m17.6 0.5h0m17.8 0.5h0m17.9 0.5h0m18 0.6h0m18.2 0.5h0m18.4 0.6h0" stroke="#0813e1"/>
<path d="M70.5 81.8h0m0 14.9h0m0 6.3h0m13.7-20.8h0m-0.1 15h0m0 6.2h0m13.8-20.8h0m0 15h0m0 6.2h0m13.8-20.8h0m0 15h0m0 6.2h0m13.9-20.8h0m0 15h0m0 6.2h0m14-20.8h0m0 15h0m0 6.2h0m17.7-20.7h0m0 15h0m0 6.3h0m17.8-20.8h0m-0.1 15h0m0 6.3h0m18-20.8h0m0 15.1h0m0 6.2h0m18-20.8h0m0 15.1h0m0 6.3h0m18.2-20.8h0m0 15h0m0 6.3h0m18.4-20.8h0m0 15.1h0m0 6.3h0" stroke="#040966" stroke-width="2.85"/>
<path d="M70.5 81.8h0m0 14.9h0m0 6.3h0m13.7-20.8h0m-0.1 15h0m0 6.2h0m13.8-20.8h0m0 15h0m0 6.2h0m13.8-20.8h0m0 15h0m0 6.2h0m13.9-20.8h0m0 15h0m0 6.2h0m14-20.8h0m0 15h0m0 6.2h0m17.7-20.7h0m0 15h0m0 6.3h0m17.8-20.8h0m-0.1 15h0m0 6.3h0m18-20.8h0m0 15.1h0m0 6.2h0m18-20.8h0m0 15.1h0m0 6.3h0m18.2-20.8h0m0 15h0m0 6.3h0m18.4-20.8h0m0 15.1h0m0 6.3h0" stroke="#0814e2"/>
<path d="M69.8 103.8h0m13.7 0.5h0m13.7 0.4h0m13.9 0.4h0m13.9 0.4h0m14 0.4h0m17.6 0.5h0m17.8 0.6h0m17.9 0.5h0m18.1 0.5h0m18.2 0.6h0m18.4 0.5h0" stroke="#040966" stroke-width="2.85"/>
<path d="M69.8 103.8h0m13.7 0.5h0m13.7 0.4h0m13.9 0.4h0m13.9 0.4h0m14 0.4h0m17.6 0.5h0m17.8 0.6h0m17.9 0.5h0m18.1 0.5h0m18.2 0.6h0m18.4 0.5h0" stroke="#0915e3"/>
<path d="M69.1 85.2h0m0 14.5h0m0 5h0m13.7-19.1h0m0 14.5h0m0 5h0m13.8-19.1h0m0 14.5h0m0 5h0m13.8-19.1h0m0 14.5h0m0 5h0m14-19.1h0m-0.1 14.5h0m0 5.1h0m14.1-19.2h0m0 14.5h0m0 5.1h0m17.6-19.1h0m0 14.5h0m0 5.1h0m17.8-19.1h0m0 14.6h0m0 5h0m17.9-19.1h0m0 14.6h0m0 5.1h0m18.1-19.2h0m0 14.6h0m0 5.1h0m18.2-19.1h0m0 14.6h0m0 5h0m18.4-19.1h0m0 14.6h0m0 5.1h0" stroke="#040967" stroke-width="2.85"/>
<path d="M69.1 85.2h0m0 14.5h0m0 5h0m13.7-19.1h0m0 14.5h0m0 5h0m13.8-19.1h0m0 14.5h0m0 5h0m13.8-19.1h0m0 14.5h0m0 5h0m14-19.1h0m-0.1 14.5h0m0 5.1h0m14.1-19.2h0m0 14.5h0m0 5.1h0m17.6-19.1h0m0 14.5h0m0 5.1h0m17.8-19.1h0m0 14.6h0m0 5h0m17.9-19.1h0m0 14.6h0m0 5.1h0m18.1-19.2h0m0 14.6h0m0 5.1h0m18.2-19.1h0m0 14.6h0m0 5h0m18.4-19.1h0m0 14.6h0m0 5.1h0" stroke="#0915e4"/>
<path d="M68.4 105.5h0m13.7 0.4h0m13.8 0.4h0m13.8 0.5h0m14 0.4h0m14 0.4h0m17.7 0.5h0m17.8 0.6h0m17.9 0.5h0m18.1 0.5h0m18.2 0.6h0m18.4 0.5h0" stroke="#040a67" stroke-width="2.85"/>
<path d="M68.4 105.5h0m13.7 0.4h0m13.8 0.4h0m13.8 0.5h0m14 0.4h0m14 0.4h0m17.7 0.5h0m17.8 0.6h0m17.9 0.5h0m18.1 0.5h0m18.2 0.6h0m18.4 0.5h0" stroke="#0916e5"/>
<path d="M67.8 88.4h0m0 14.2h0m0 3.8h0m13.7-17.6h0m0 14.2h0m0 3.8h0m13.7-17.6h0m0 14.2h0m0 3.8h0m13.9-17.6h0m0 14.2h0m0 3.8h0m14-17.6h0m-0.1 14.3h0m0 3.7h0m14.1-17.6h0m0 14.3h0m0 3.7h0m17.7-17.5h0m-0.1 14.3h0m0 3.8h0m17.9-17.5h0m0 14.2h0m-0.1 3.8h0m18-17.5h0m0 14.3h0m0 3.7h0m18.1-17.5h0m0 14.3h0m0 3.8h0m18.2-17.6h0m0 14.3h0m0 3.8h0m18.4-17.6h0m0 14.4h0m0 3.8h0" stroke="#040a67" stroke-width="2.85"/>
<path d="M67.8 88.4h0m0 14.2h0m0 3.8h0m13.7-17.6h0m0 14.2h0m0 3.8h0m13.7-17.6h0m0 14.2h0m0 3.8h0m13.9-17.6h0m0 14.2h0m0 3.8h0m14-17.6h0m-0.1 14.3h0m0 3.7h0m14.1-17.6h0m0 14.3h0m0 3.7h0m17.7-17.5h0m-0.1 14.3h0m0 3.8h0m17.9-17.5h0m0 14.2h0m-0.1 3.8h0m18-17.5h0m0 14.3h0m0 3.7h0m18.1-17.5h0m0 14.3h0m0 3.8h0m18.2-17.6h0m0 14.3h0m0 3.8h0m18.4-17.6h0m0 14.4h0m0 3.8h0" stroke="#0916e5"/>
<path d="M67.1 107.2h0m13.7 0.4h0m13.8 0.5h0m13.8 0.4h0m14 0.4h0m14 0.4h0m17.7 0.5h0m17.8 0.6h0m18 0.5h0m18.1 0.6h0m18.2 0.5h0m18.4 0.5h0" stroke="#040a68" stroke-width="2.85"/>
<path d="M67.1 107.2h0m13.7 0.4h0m13.8 0.5h0m13.8 0.4h0m14 0.4h0m14 0.4h0m17.7 0.5h0m17.8 0.6h0m18 0.5h0m18.1 0.6h0m18.2 0.5h0m18.4 0.5h0" stroke="#0a17e7"/>
<path d="M66.4 91.5h0m0 14.1h0m0 2.6h0m13.7-16.3h0m0 14.1h0m0 2.6h0m13.8-16.3h0m0 14.1h0m0 2.6h0m13.9-16.3h0m0 14.1h0m0 2.6h0m14-16.3h0m0 14.1h0m-0.1 2.7h0m14.1-16.4h0m0 14.1h0m0 2.7h0m17.7-16.3h0m0 14.2h0m0 2.6h0m17.8-16.3h0m0 14.2h0m0 2.6h0m18-16.3h0m0 14.2h0m0 2.7h0m18.1-16.4h0m0 14.3h0m0 2.6h0m18.2-16.3h0m0 14.2h0m0 2.7h0m18.4-16.4h0m0 14.3h0m0 2.6h0" stroke="#040b68" stroke-width="2.85"/>
<path d="M66.4 91.5h0m0 14.1h0m0 2.6h0m13.7-16.3h0m0 14.1h0m0 2.6h0m13.8-16.3h0m0 14.1h0m0 2.6h0m13.9-16.3h0m0 14.1h0m0 2.6h0m14-16.3h0m0 14.1h0m-0.1 2.7h0m14.1-16.4h0m0 14.1h0m0 2.7h0m17.7-16.3h0m0 14.2h0m0 2.6h0m17.8-16.3h0m0 14.2h0m0 2.6h0m18-16.3h0m0 14.2h0m0 2.7h0m18.1-16.4h0m0 14.3h0m0 2.6h0m18.2-16.3h0m0 14.2h0m0 2.7h0m18.4-16.4h0m0 14.3h0m0 2.6h0" stroke="#0a18e7"/>
<path d="M65 94.2h0m0 14.3h0m0 2h0m13.8-15.9h0m0 14.3h0m0 2h0m13.8-15.9h0m0 14.3h0m0 2h0m13.9-15.9h0m0 14.3h0m0 2h0m14-15.9h0m0 14.4h0m0 1.9h0m14-15.9h0m0 14.4h0m0 2h0m17.7-15.9h0m0 14.4h0m0 2h0m17.9-15.9h0m0 14.5h0m-0.1 1.9h0m18-15.8h0m0 14.4h0m0 2h0m18.1-15.9h0m0 14.4h0m0 2h0m18.3-15.9h0m0 14.5h0m0 2h0m18.4-16h0m0 14.5h0m0 2h0" stroke="#061a6a" stroke-width="2.85"/>
<path d="M65 94.2h0m0 14.3h0m0 2h0m13.8-15.9h0m0 14.3h0m0 2h0m13.8-15.9h0m0 14.3h0m0 2h0m13.9-15.9h0m0 14.3h0m0 2h0m14-15.9h0m0 14.4h0m0 1.9h0m14-15.9h0m0 14.4h0m0 2h0m17.7-15.9h0m0 14.4h0m0 2h0m17.9-15.9h0m0 14.5h0m-0.1 1.9h0m18-15.8h0m0 14.4h0m0 2h0m18.1-15.9h0m0 14.4h0m0 2h0m18.3-15.9h0m0 14.5h0m0 2h0m18.4-16h0m0 14.5h0m0 2h0" stroke="#0c39eb"/>
<path d="M63.7 96.8h0m0 14.7h0m0 1.6h0m13.7-15.9h0m0 14.7h0m0 1.6h0m13.9-15.9h0m-0.1 14.7h0m0 1.6h0m14-15.9h0m0 14.7h0m0 1.6h0m14-15.9h0m0 14.7h0m0 1.6h0m14-15.9h0m0 14.8h0m0 1.6h0m17.8-15.9h0m-0.1 14.8h0m0 1.6h0m17.9-15.8h0m0 14.7h0m0 1.6h0m18-15.8h0m0 14.8h0m0 1.6h0m18.1-15.9h0m0 14.8h0m0 1.6h0m18.2-15.9h0m0 14.9h0m0 1.6h0m18.4-15.9h0m0 14.8h0m0 1.6h0" stroke="#08396c" stroke-width="2.85"/>
<path d="M63.7 96.8h0m0 14.7h0m0 1.6h0m13.7-15.9h0m0 14.7h0m0 1.6h0m13.9-15.9h0m-0.1 14.7h0m0 1.6h0m14-15.9h0m0 14.7h0m0 1.6h0m14-15.9h0m0 14.7h0m0 1.6h0m14-15.9h0m0 14.8h0m0 1.6h0m17.8-15.9h0m-0.1 14.8h0m0 1.6h0m17.9-15.8h0m0 14.7h0m0 1.6h0m18-15.8h0m0 14.8h0m0 1.6h0m18.1-15.9h0m0 14.8h0m0 1.6h0m18.2-15.9h0m0 14.9h0m0 1.6h0m18.4-15.9h0m0 14.8h0m0 1.6h0" stroke="#117ff0"/>
<path d="M62.3 99.5h0m0 15h0m0 1.4h0m13.8-16h0m0 15h0m0 1.4h0m13.8-16h0m0 15h0m0 1.5h0m13.9-16h0m0 14.9h0m0 1.5h0m14.1-16h0m-0.1 14.9h0m0 1.5h0m14.2-16h0m-0.1 15h0m0 1.4h0m17.8-15.9h0m0 15h0m0 1.5h0m17.8-16h0m0 15h0m0 1.5h0m18-16h0m0 15.1h0m0 1.5h0m18.2-16h0m0 15h0m0 1.5h0m18.2-16h0m0 15.1h0m0 1.5h0m18.4-16.1h0m0 15.1h0m0 1.5h0" stroke="#09486c" stroke-width="2.85"/>
<path d="M62.3 99.5h0m0 15h0m0 1.4h0m13.8-16h0m0 15h0m0 1.4h0m13.8-16h0m0 15h0m0 1.5h0m13.9-16h0m0 14.9h0m0 1.5h0m14.1-16h0m-0.1 14.9h0m0 1.5h0m14.2-16h0m-0.1 15h0m0 1.4h0m17.8-15.9h0m0 15h0m0 1.5h0m17.8-16h0m0 15h0m0 1.5h0m18-16h0m0 15.1h0m0 1.5h0m18.2-16h0m0 15h0m0 1.5h0m18.2-16h0m0 15.1h0m0 1.5h0m18.4-16.1h0m0 15.1h0m0 1.5h0" stroke="#14a0f0"/>
<path d="M60.9 102.5h0m0 15h0m0 1.4h0m13.8-16h0m0 15h0m0 1.5h0m13.9-16.1h0m0 15h0m0 1.5h0m13.9-16.1h0m0 15h0m0 1.5h0m14.1-16.1h0m-0.1 15h0m0 1.5h0m14.2-16.1h0m0 15.1h0m0 1.5h0m17.7-16h0m0 15h0m0 1.5h0m17.9-16h0m0 15.1h0m0 1.5h0m18-16.1h0m0 15.1h0m0 1.5h0m18.1-16h0m0 15.1h0m0 1.5h0m18.3-16.1h0m0 15.1h0m0 1.5h0m18.4-16.1h0m0 15.2h0m0 1.5h0" stroke="#0b535c" stroke-width="2.85"/>
<path d="M60.9 102.5h0m0 15h0m0 1.4h0m13.8-16h0m0 15h0m0 1.5h0m13.9-16.1h0m0 15h0m0 1.5h0m13.9-16.1h0m0 15h0m0 1.5h0m14.1-16.1h0m-0.1 15h0m0 1.5h0m14.2-16.1h0m0 15.1h0m0 1.5h0m17.7-16h0m0 15h0m0 1.5h0m17.9-16h0m0 15.1h0m0 1.5h0m18-16.1h0m0 15.1h0m0 1.5h0m18.1-16h0m0 15.1h0m0 1.5h0m18.3-16.1h0m0 15.1h0m0 1.5h0m18.4-16.1h0m0 15.2h0m0 1.5h0" stroke="#19b8cd"/>
<path d="M59.5 105.6h0m0 14.9h0m0 1.5h0m13.8-16h0m0 14.9h0m0 1.5h0m13.9-16h0m0 14.9h0m0 1.6h0m14-16.1h0m0 14.9h0m0 1.6h0m14-16.1h0m0 15h0m0 1.5h0m14.2-16.1h0m0 15h0m0 1.6h0m17.7-16h0m0 14.9h0m0 1.6h0m17.9-16h0m0 15h0m0 1.5h0m18-16h0m0 15h0m0 1.6h0m18.2-16.1h0m0 15.1h0m0 1.6h0m18.3-16.1h0m0 15h0m0 1.6h0m18.4-16.1h0m0 15.1h0m0 1.6h0" stroke="#0d5a52" stroke-width="2.85"/>
<path d="M59.5 105.6h0m0 14.9h0m0 1.5h0m13.8-16h0m0 14.9h0m0 1.5h0m13.9-16h0m0 14.9h0m0 1.6h0m14-16.1h0m0 14.9h0m0 1.6h0m14-16.1h0m0 15h0m0 1.5h0m14.2-16.1h0m0 15h0m0 1.6h0m17.7-16h0m0 14.9h0m0 1.6h0m17.9-16h0m0 15h0m0 1.5h0m18-16h0m0 15h0m0 1.6h0m18.2-16.1h0m0 15.1h0m0 1.6h0m18.3-16.1h0m0 15h0m0 1.6h0m18.4-16.1h0m0 15.1h0m0 1.6h0" stroke="#1cc8b6"/>
<path d="M58.2 108.6h0m-0.1 14.8h0m0 1.6h0m13.9-15.9h0m0 14.8h0m0 1.5h0m13.9-15.9h0m0 14.8h0m0 1.6h0m14-16h0m0 14.8h0m0 1.6h0m14-16h0m0 14.9h0m0 1.5h0m14.2-16h0m0 14.9h0m0 1.6h0m17.7-15.9h0m0 14.8h0m0 1.6h0m18-15.9h0m-0.1 14.9h0m0 1.6h0m18.1-16h0m0 15h0m0 1.5h0m18.1-15.9h0m0 14.9h0m0 1.6h0m18.3-16h0m0 15h0m0 1.5h0m18.4-15.9h0m0 14.9h0m0 1.6h0" stroke="#125a38" stroke-width="2.85"/>
<path d="M58.2 108.6h0m-0.1 14.8h0m0 1.6h0m13.9-15.9h0m0 14.8h0m0 1.5h0m13.9-15.9h0m0 14.8h0m0 1.6h0m14-16h0m0 14.8h0m0 1.6h0m14-16h0m0 14.9h0m0 1.5h0m14.2-16h0m0 14.9h0m0 1.6h0m17.7-15.9h0m0 14.8h0m0 1.6h0m18-15.9h0m-0.1 14.9h0m0 1.6h0m18.1-16h0m0 15h0m0 1.5h0m18.1-15.9h0m0 14.9h0m0 1.6h0m18.3-16h0m0 15h0m0 1.5h0m18.4-15.9h0m0 14.9h0m0 1.6h0" stroke="#28c87d"/>
<path d="M56.8 111.6h0m0 14.7h0m0 1.6h0m13.8-15.8h0m0 14.7h0m0 1.6h0m13.9-15.9h0m0 14.8h0m0 1.5h0m14-15.9h0m0 14.8h0m0 1.6h0m14.1-16h0m0 14.8h0m0 1.6h0m14.2-16h0m0 14.9h0m0 1.6h0m17.8-15.9h0m0 14.8h0m0 1.6h0m17.9-15.9h0m0 14.9h0m0 1.6h0m18-16h0m0 14.9h0m0 1.6h0m18.2-15.9h0m0 14.9h0m0 1.6h0m18.3-16h0m0 15h0m0 1.6h0m18.4-16h0m0 14.9h0m0 1.6h0" stroke="#155a2a" stroke-width="2.85"/>
<path d="M56.8 111.6h0m0 14.7h0m0 1.6h0m13.8-15.8h0m0 14.7h0m0 1.6h0m13.9-15.9h0m0 14.8h0m0 1.5h0m14-15.9h0m0 14.8h0m0 1.6h0m14.1-16h0m0 14.8h0m0 1.6h0m14.2-16h0m0 14.9h0m0 1.6h0m17.8-15.9h0m0 14.8h0m0 1.6h0m17.9-15.9h0m0 14.9h0m0 1.6h0m18-16h0m0 14.9h0m0 1.6h0m18.2-15.9h0m0 14.9h0m0 1.6h0m18.3-16h0m0 15h0m0 1.6h0m18.4-16h0m0 14.9h0m0 1.6h0" stroke="#2fc85e"/>
<path d="M55.4 114.5h0m0 14.6h0m0 1.7h0m13.8-15.9h0m0 14.9h0m0 1.6h0m14-16.1h0m0 15.1h0m0 1.4h0m14-16.1h0m0 15h0m0 1.6h0m14.1-16.2h0m0 15h0m0 1.6h0m14.2-16.1h0m0 14.9h0m0 1.7h0m17.8-16.1h0m0 15h0m0 1.6h0m17.9-16.1h0m0 15.1h0m0 1.6h0m18.1-16.1h0m0 15h0m0 1.7h0m18.1-16.2h0m0 15.1h0m0 1.6h0m18.4-16.1h0m0 15.1h0m0 1.6h0m18.4-16.2h0m0 15.1h0m0 1.7h0" stroke="#185a25" stroke-width="2.85"/>
<path d="M55.4 114.5h0m0 14.6h0m0 1.7h0m13.8-15.9h0m0 14.9h0m0 1.6h0m14-16.1h0m0 15.1h0m0 1.4h0m14-16.1h0m0 15h0m0 1.6h0m14.1-16.2h0m0 15h0m0 1.6h0m14.2-16.1h0m0 14.9h0m0 1.7h0m17.8-16.1h0m0 15h0m0 1.6h0m17.9-16.1h0m0 15.1h0m0 1.6h0m18.1-16.1h0m0 15h0m0 1.7h0m18.1-16.2h0m0 15.1h0m0 1.6h0m18.4-16.1h0m0 15.1h0m0 1.6h0m18.4-16.2h0m0 15.1h0m0 1.7h0" stroke="#36c853"/>
<path d="M54 117.1h0m0 14.7h0m0 1.9h0m13.9-16.2h0m0 15.3h0m0 1.6h0m13.9-16.4h0m0 15.5h0m0 1.3h0m14.1-16.4h0m0 15.2h0m0 1.7h0m14.1-16.5h0m0 15.3h0m0 1.7h0m14.2-16.6h0m0 15.3h0m0 1.7h0m17.8-16.4h0m0 15.3h0m0 1.7h0m17.9-16.5h0m0 15.3h0m0 1.7h0m18.1-16.4h0m0 15.3h0m0 1.7h0m18.2-16.5h0m0 15.4h0m0 1.7h0m18.3-16.5h0m0 15.3h0m0 1.8h0m18.4-16.6h0m0 15.4h0m0 1.7h0" stroke="#1a5a22" stroke-width="2.85"/>
<path d="M54 117.1h0m0 14.7h0m0 1.9h0m13.9-16.2h0m0 15.3h0m0 1.6h0m13.9-16.4h0m0 15.5h0m0 1.3h0m14.1-16.4h0m0 15.2h0m0 1.7h0m14.1-16.5h0m0 15.3h0m0 1.7h0m14.2-16.6h0m0 15.3h0m0 1.7h0m17.8-16.4h0m0 15.3h0m0 1.7h0m17.9-16.5h0m0 15.3h0m0 1.7h0m18.1-16.4h0m0 15.3h0m0 1.7h0m18.2-16.5h0m0 15.4h0m0 1.7h0m18.3-16.5h0m0 15.3h0m0 1.8h0m18.4-16.6h0m0 15.4h0m0 1.7h0" stroke="#3ac84c"/>
<path d="M52.6 119.7h0m0 14.8h0m0 2.1h0m13.9-16.5h0m0 15.7h0m0 1.6h0m14-16.9h0m0 16.2h0m0 1.2h0m14-16.9h0m0 15.6h0m0 1.8h0m14.2-17h0m0 15.6h0m0 1.8h0m14.1-17h0m0 15.7h0m0 1.8h0m17.9-16.9h0m0 15.6h0m0 1.8h0m18-16.9h0m0 15.7h0m0 1.8h0m18-16.9h0m0 15.7h0m0 1.8h0m18.2-17h0m0 15.7h0m0 1.9h0m18.4-17h0m0 15.7h0m0 1.8h0m18.4-17h0m0 15.8h0m0 1.8h0" stroke="#285d1d" stroke-width="2.85"/>
<path d="M52.6 119.7h0m0 14.8h0m0 2.1h0m13.9-16.5h0m0 15.7h0m0 1.6h0m14-16.9h0m0 16.2h0m0 1.2h0m14-16.9h0m0 15.6h0m0 1.8h0m14.2-17h0m0 15.6h0m0 1.8h0m14.1-17h0m0 15.7h0m0 1.8h0m17.9-16.9h0m0 15.6h0m0 1.8h0m18-16.9h0m0 15.7h0m0 1.8h0m18-16.9h0m0 15.7h0m0 1.8h0m18.2-17h0m0 15.7h0m0 1.9h0m18.4-17h0m0 15.7h0m0 1.8h0m18.4-17h0m0 15.8h0m0 1.8h0" stroke="#59cf41"/>
<path d="M51.2 122h0m0 15.3h0m0 2.3h0m13.9-17.2h0m0 16.4h0m0 1.6h0m14-17.6h0m0 17h0m0 1.1h0m14.1-17.6h0m0 16.3h0m0 1.8h0m14.1-17.7h0m0 16.3h0m0 1.9h0m14.2-17.8h0m0 16.4h0m0 1.8h0m17.9-17.6h0m0 16.3h0m0 1.9h0m18-17.7h0m0 16.4h0m0 1.9h0m18.1-17.7h0m0 16.4h0m0 1.9h0m18.2-17.8h0m0 16.5h0m0 1.8h0m18.3-17.7h0m0 16.4h0m0 1.9h0m18.5-17.8h0m0 16.5h0m0 1.9h0" stroke="#35601a" stroke-width="2.85"/>
<path d="M51.2 122h0m0 15.3h0m0 2.3h0m13.9-17.2h0m0 16.4h0m0 1.6h0m14-17.6h0m0 17h0m0 1.1h0m14.1-17.6h0m0 16.3h0m0 1.8h0m14.1-17.7h0m0 16.3h0m0 1.9h0m14.2-17.8h0m0 16.4h0m0 1.8h0m17.9-17.6h0m0 16.3h0m0 1.9h0m18-17.7h0m0 16.4h0m0 1.9h0m18.1-17.7h0m0 16.4h0m0 1.9h0m18.2-17.8h0m0 16.5h0m0 1.8h0m18.3-17.7h0m0 16.4h0m0 1.9h0m18.5-17.8h0m0 16.5h0m0 1.9h0" stroke="#76d639"/>
<path d="M49.8 123.9h0m0 16.2h0m0 2.6h0m13.9-18.4h0m0 17.4h0m0 1.8h0m14.1-18.7h0m0 18h0m0 1.2h0m14-18.8h0m0 17.4h0m0 1.9h0m14.2-18.9h0m0 17.5h0m0 1.9h0m14.2-18.9h0m0 17.4h0m0 1.9h0m17.9-18.8h0m0 17.5h0m0 1.9h0m18-18.8h0m0 17.5h0m0 1.9h0m18.1-18.9h0m0 17.5h0m0 1.9h0m18.2-18.8h0m0 17.5h0m0 1.9h0m18.4-18.9h0m0 17.6h0m0 1.9h0m18.4-18.9h0m0 17.6h0m0 1.9h0" stroke="#486515" stroke-width="2.85"/>
<path d="M49.8 123.9h0m0 16.2h0m0 2.6h0m13.9-18.4h0m0 17.4h0m0 1.8h0m14.1-18.7h0m0 18h0m0 1.2h0m14-18.8h0m0 17.4h0m0 1.9h0m14.2-18.9h0m0 17.5h0m0 1.9h0m14.2-18.9h0m0 17.4h0m0 1.9h0m17.9-18.8h0m0 17.5h0m0 1.9h0m18-18.8h0m0 17.5h0m0 1.9h0m18.1-18.9h0m0 17.5h0m0 1.9h0m18.2-18.8h0m0 17.5h0m0 1.9h0m18.4-18.9h0m0 17.6h0m0 1.9h0m18.4-18.9h0m0 17.6h0m0 1.9h0" stroke="#a1e02e"/>
<path d="M48.4 125.6h0m0 17.5h0m0 2.7h0m14-19.8h0m0 18.7h0m0 1.9h0m14-20.1h0m0 19.2h0m0 1.3h0m14.1-20.1h0m0 18.8h0m0 1.9h0m14.2-20.2h0m0 18.7h0m0 1.9h0m14.2-20.2h0m0 18.8h0m0 1.9h0m17.9-20.1h0m0 18.8h0m0 1.9h0m18-20.1h0m0 18.8h0m0 1.8h0m18.1-20.1h0m0 18.8h0m0 1.9h0m18.3-20.2h0m0 18.9h0m0 1.9h0m18.3-20.3h0m0 19h0m0 1.9h0m18.5-20.3h0m0 19h0m0 1.9h0" stroke="#516613" stroke-width="2.85"/>
<path d="M48.4 125.6h0m0 17.5h0m0 2.7h0m14-19.8h0m0 18.7h0m0 1.9h0m14-20.1h0m0 19.2h0m0 1.3h0m14.1-20.1h0m0 18.8h0m0 1.9h0m14.2-20.2h0m0 18.7h0m0 1.9h0m14.2-20.2h0m0 18.8h0m0 1.9h0m17.9-20.1h0m0 18.8h0m0 1.9h0m18-20.1h0m0 18.8h0m0 1.8h0m18.1-20.1h0m0 18.8h0m0 1.9h0m18.3-20.2h0m0 18.9h0m0 1.9h0m18.3-20.3h0m0 19h0m0 1.9h0m18.5-20.3h0m0 19h0m0 1.9h0" stroke="#b5e22a"/>
<path d="M47 127.2h0m0 19.1h0m0 2.8h0m14-21.5h0m0 20h0m0 2.1h0m14-21.6h0m0 20.4h0m0 1.6h0m14.1-21.6h0m0 20.4h0m0 1.7h0m14.2-21.6h0m0 20.3h0m0 1.8h0m14.3-21.7h0m0 20.4h0m0 1.8h0m17.9-21.6h0m0 20.4h0m0 1.7h0m18-21.5h0m0 20.3h0m0 1.8h0m18.2-21.6h0m0 20.4h0m0 1.8h0m18.2-21.7h0m0 20.5h0m0 1.8h0m18.4-21.8h0m0 20.6h0m0 1.8h0m18.4-21.8h0m0 20.6h0m0 1.8h0" stroke="#5d6512" stroke-width="2.85"/>
<path d="M47 127.2h0m0 19.1h0m0 2.8h0m14-21.5h0m0 20h0m0 2.1h0m14-21.6h0m0 20.4h0m0 1.6h0m14.1-21.6h0m0 20.4h0m0 1.7h0m14.2-21.6h0m0 20.3h0m0 1.8h0m14.3-21.7h0m0 20.4h0m0 1.8h0m17.9-21.6h0m0 20.4h0m0 1.7h0m18-21.5h0m0 20.3h0m0 1.8h0m18.2-21.6h0m0 20.4h0m0 1.8h0m18.2-21.7h0m0 20.5h0m0 1.8h0m18.4-21.8h0m0 20.6h0m0 1.8h0m18.4-21.8h0m0 20.6h0m0 1.8h0" stroke="#cee128"/>
<path d="M45.6 128.9h0m0 20.7h0m0 2.9h0m14-23.2h0m0 21.2h0m0 2.3h0m14.1-23.1h0m0 21.5h0m0 2.1h0m14.1-23.3h0m0 22.2h0m0 1.5h0m14.2-23.2h0m0 22.2h0m0 1.5h0m14.3-23.3h0m0 22.2h0m0 1.5h0m17.9-23.1h0m0 22.2h0m0 1.5h0m18-23.1h0m0 22.2h0m0 1.5h0m18.2-23.2h0m0 22.3h0m0 1.5h0m18.2-23.3h0m0 22.4h0m0 1.5h0m18.4-23.3h0m0 22.4h0m0 1.5h0m18.5-23.4h0m0 22.5h0m0 1.5h0" stroke="#646511" stroke-width="2.85"/>
<path d="M45.6 128.9h0m0 20.7h0m0 2.9h0m14-23.2h0m0 21.2h0m0 2.3h0m14.1-23.1h0m0 21.5h0m0 2.1h0m14.1-23.3h0m0 22.2h0m0 1.5h0m14.2-23.2h0m0 22.2h0m0 1.5h0m14.3-23.3h0m0 22.2h0m0 1.5h0m17.9-23.1h0m0 22.2h0m0 1.5h0m18-23.1h0m0 22.2h0m0 1.5h0m18.2-23.2h0m0 22.3h0m0 1.5h0m18.2-23.3h0m0 22.4h0m0 1.5h0m18.4-23.3h0m0 22.4h0m0 1.5h0m18.5-23.4h0m0 22.5h0m0 1.5h0" stroke="#dfe026"/>
<path d="M44.2 130.8h0m0 22.5h0m0 2.5h0m14-24.5h0m0 22.1h0m0 2.3h0m14.1-24h0m0 22h0m0 2.6h0m14.1-24.8h0m0 24.3h0m0 0.9h0m14.3-24.8h0m0 24.3h0m0 1h0m14.2-24.9h0m0 24.4h0m0 1h0m18-24.9h0m0 24.5h0m0 1h0m18-25h0m0 24.6h0m0 1h0m18.2-25h0m0 24.6h0m0 1h0m18.3-24.9h0m0 24.5h0m0 1h0m18.3-24.9h0m0 24.5h0m0 1h0m18.5-24.9h0m0 24.5h0m0 1h0" stroke="#6b6210" stroke-width="2.85"/>
<path d="M44.2 130.8h0m0 22.5h0m0 2.5h0m14-24.5h0m0 22.1h0m0 2.3h0m14.1-24h0m0 22h0m0 2.6h0m14.1-24.8h0m0 24.3h0m0 0.9h0m14.3-24.8h0m0 24.3h0m0 1h0m14.2-24.9h0m0 24.4h0m0 1h0m18-24.9h0m0 24.5h0m0 1h0m18-25h0m0 24.6h0m0 1h0m18.2-25h0m0 24.6h0m0 1h0m18.3-24.9h0m0 24.5h0m0 1h0m18.3-24.9h0m0 24.5h0m0 1h0m18.5-24.9h0m0 24.5h0m0 1h0" stroke="#eedb23"/>
<path d="M42.8 133.1h0m0 25h0m0 1.5h0m14-26h0m0 22.8h0m0 2.3h0m14.1-24.6h0m0 21.9h0m0 3.5h0m14.2-26.5h0m0 26h0m0 0.8h0m14.2-26.5h0m0 26.2h0m0 0.8h0m14.3-26.7h0m0 26.3h0m0 0.8h0m18-26.7h0m0 26.5h0m0 0.8h0m18-26.9h0m0 26.7h0m0 0.8h0m18.2-26.7h0m0 26.5h0m0 0.8h0m18.3-26.4h0m0 26.2h0m0 0.8h0m18.4-26.3h0m0 26.1h0m0 0.9h0m18.5-26.3h0m0 26h0m0 0.9h0" stroke="#6d5e0e" stroke-width="2.85"/>
<path d="M42.8 133.1h0m0 25h0m0 1.5h0m14-26h0m0 22.8h0m0 2.3h0m14.1-24.6h0m0 21.9h0m0 3.5h0m14.2-26.5h0m0 26h0m0 0.8h0m14.2-26.5h0m0 26.2h0m0 0.8h0m14.3-26.7h0m0 26.3h0m0 0.8h0m18-26.7h0m0 26.5h0m0 0.8h0m18-26.9h0m0 26.7h0m0 0.8h0m18.2-26.7h0m0 26.5h0m0 0.8h0m18.3-26.4h0m0 26.2h0m0 0.8h0m18.4-26.3h0m0 26.1h0m0 0.9h0m18.5-26.3h0m0 26h0m0 0.9h0" stroke="#f3d020"/>
<path d="M41.3 135.2h0m0.1 28.1h0m0 1.2h0m14-28.8h0m0 23.7h0m0 2.7h0m14.1-25.9h0m0 22.1h0m0 4.4h0m14.2-28.3h0m0 27h0m0 1.8h0m14.3-28.5h0m0 27.2h0m0 1.5h0m14.3-28.5h0m0 27.5h0m0 1.4h0m18-28.7h0m0 27.9h0m0 1.4h0m18-29h0m0 28.2h0m0 1.4h0m18.2-28.6h0m0 27.8h0m0 1.4h0m18.3-28h0m0 27.2h0m0 1.4h0m18.4-27.8h0m0 27h0m0 1.4h0m18.5-27.7h0m0 26.9h0m0 1.4h0" stroke="#6f5a0e" stroke-width="2.85"/>
<path d="M41.3 135.2h0m0.1 28.1h0m0 1.2h0m14-28.8h0m0 23.7h0m0 2.7h0m14.1-25.9h0m0 22.1h0m0 4.4h0m14.2-28.3h0m0 27h0m0 1.8h0m14.3-28.5h0m0 27.2h0m0 1.5h0m14.3-28.5h0m0 27.5h0m0 1.4h0m18-28.7h0m0 27.9h0m0 1.4h0m18-29h0m0 28.2h0m0 1.4h0m18.2-28.6h0m0 27.8h0m0 1.4h0m18.3-28h0m0 27.2h0m0 1.4h0m18.4-27.8h0m0 27h0m0 1.4h0m18.5-27.7h0m0 26.9h0m0 1.4h0" stroke="#f6c91e"/>
<path d="M39.9 136.6h0m0 31.2h0m0 6.1h0m14.1-36.9h0m0 25.4h0m0 4h0m14.1-28.9h0m0.1 23h0m0 5.9h0m14.2-30.6h0m0 28h0m0 2.9h0m14.2-30.8h0m0 28.3h0m0 2.5h0m14.3-30.7h0m0.1 28.7h0m0 2.3h0m17.9-30.8h0m0.1 29.1h0m0 2.2h0m18-31.1h0m0 29.5h0m0 2.1h0m18.2-30.5h0m0 29h0m0 2.1h0m18.3-29.6h0m0 28.1h0m0 2.1h0m18.4-29.3h0m0 27.8h0m0 2.1h0m18.5-29.2h0m0 27.7h0m0 2.1h0" stroke="#6e520d" stroke-width="2.85"/>
<path d="M39.9 136.6h0m0 31.2h0m0 6.1h0m14.1-36.9h0m0 25.4h0m0 4h0m14.1-28.9h0m0.1 23h0m0 5.9h0m14.2-30.6h0m0 28h0m0 2.9h0m14.2-30.8h0m0 28.3h0m0 2.5h0m14.3-30.7h0m0.1 28.7h0m0 2.3h0m17.9-30.8h0m0.1 29.1h0m0 2.2h0m18-31.1h0m0 29.5h0m0 2.1h0m18.2-30.5h0m0 29h0m0 2.1h0m18.3-29.6h0m0 28.1h0m0 2.1h0m18.4-29.3h0m0 27.8h0m0 2.1h0m18.5-29.2h0m0 27.7h0m0 2.1h0" stroke="#f5b61c"/>
<path d="M38.5 137.7h0m0 33h0m0 14.2h0m14.1-47h0m0 27.4h0m0 7.7h0m14.2-34.8h0m0 24.5h0m0 8.2h0m14.2-33.9h0m0 29.3h0m0 4.3h0m14.3-33.5h0m0 29.6h0m0 3.6h0m14.3-33.1h0m0 29.9h0m0 3.3h0m18-33.2h0m0 30.5h0m0 3.1h0m18.1-33.4h0m0 30.9h0m0 3.1h0m18.2-32.9h0m0 30.4h0m0 3.1h0m18.3-31.8h0m0.1 29.3h0m0 3.1h0m18.4-31.4h0m0 28.9h0m0 3.1h0m18.5-31.3h0m0 28.8h0m0 3.1h0" stroke="#6e4c0c" stroke-width="2.85"/>
<path d="M38.5 137.7h0m0 33h0m0 14.2h0m14.1-47h0m0 27.4h0m0 7.7h0m14.2-34.8h0m0 24.5h0m0 8.2h0m14.2-33.9h0m0 29.3h0m0 4.3h0m14.3-33.5h0m0 29.6h0m0 3.6h0m14.3-33.1h0m0 29.9h0m0 3.3h0m18-33.2h0m0 30.5h0m0 3.1h0m18.1-33.4h0m0 30.9h0m0 3.1h0m18.2-32.9h0m0 30.4h0m0 3.1h0m18.3-31.8h0m0.1 29.3h0m0 3.1h0m18.4-31.4h0m0 28.9h0m0 3.1h0m18.5-31.3h0m0 28.8h0m0 3.1h0" stroke="#f4aa1b"/>
<path d="M37.1 138.7h0m0 34.4h0m0 18.2h0m14.1-52.6h0m0 29.3h0m0 12.7h0m14.2-41.7h0m0 25.7h0m0 11.3h0m14.2-37.8h0m0 30.6h0m0 6.2h0m14.3-36.7h0m0 30.9h0m0 5.1h0m14.4-36h0m0 31.2h0m0 4.8h0m18-36h0m0 31.7h0m0 4.5h0m18.1-36.1h0m0 32.1h0m0 4.6h0m18.2-35.5h0m0.1 31.5h0m0 4.6h0m18.3-34.4h0m0 30.4h0m0 4.6h0m18.4-34h0m0 30h0m0 4.6h0m18.5-33.9h0m0 29.9h0m0 4.5h0" stroke="#6d440c" stroke-width="2.85"/>
<path d="M37.1 138.7h0m0 34.4h0m0 18.2h0m14.1-52.6h0m0 29.3h0m0 12.7h0m14.2-41.7h0m0 25.7h0m0 11.3h0m14.2-37.8h0m0 30.6h0m0 6.2h0m14.3-36.7h0m0 30.9h0m0 5.1h0m14.4-36h0m0 31.2h0m0 4.8h0m18-36h0m0 31.7h0m0 4.5h0m18.1-36.1h0m0 32.1h0m0 4.6h0m18.2-35.5h0m0.1 31.5h0m0 4.6h0m18.3-34.4h0m0 30.4h0m0 4.6h0m18.4-34h0m0 30h0m0 4.6h0m18.5-33.9h0m0 29.9h0m0 4.5h0" stroke="#f3981a"/>
<path d="M35.6 139.6h0m0.1 35.6h0m0 17.7h0m14.1-53.4h0m0 31h0m0 17.2h0m14.2-48.1h0m0 27.2h0m0 14.4h0m14.2-41.9h0m0.1 31.7h0m0 8.5h0m14.3-40.1h0m0 31.9h0m0 7.1h0m14.3-39h0m0 32.2h0m0 6.6h0m18.1-38.8h0m0 32.6h0m0 6.4h0m18.1-38.8h0m0 33h0m0 6.4h0m18.2-38.3h0m0.1 32.4h0m0 6.4h0m18.3-37.1h0m0 31.3h0m0 6.4h0m18.4-36.8h0m0 30.9h0m0 6.5h0m18.5-36.7h0m0 30.8h0m0 6.4h0" stroke="#6d400b" stroke-width="2.85"/>
<path d="M35.6 139.6h0m0.1 35.6h0m0 17.7h0m14.1-53.4h0m0 31h0m0 17.2h0m14.2-48.1h0m0 27.2h0m0 14.4h0m14.2-41.9h0m0.1 31.7h0m0 8.5h0m14.3-40.1h0m0 31.9h0m0 7.1h0m14.3-39h0m0 32.2h0m0 6.6h0m18.1-38.8h0m0 32.6h0m0 6.4h0m18.1-38.8h0m0 33h0m0 6.4h0m18.2-38.3h0m0.1 32.4h0m0 6.4h0m18.3-37.1h0m0 31.3h0m0 6.4h0m18.4-36.8h0m0 30.9h0m0 6.5h0m18.5-36.7h0m0 30.8h0m0 6.4h0" stroke="#f18d19"/>
<path d="M34.2 140.2h0m0 36.6h0m0 17.5h0m14.2-54.1h0m0 32.5h0m0 19.6h0m14.2-52h0m0 28.5h0m0 17.3h0m14.3-45.9h0m0 33.1h0m0 10.9h0m14.3-43.9h0m0 33.2h0m0 9h0m14.4-42.2h0m0 33.4h0m0 8.4h0m18-41.7h0m0.1 33.6h0m0 8.1h0m18.1-41.6h0m0 34.1h0m0 8h0m18.2-41h0m0.1 33.5h0m0 8.1h0m18.3-39.9h0m0 32.3h0m0 8.2h0m18.4-39.6h0m0 32h0m0 8.1h0m18.5-39.4h0m0 31.8h0m0 8.2h0" stroke="#6b380b" stroke-width="2.85"/>
<path d="M34.2 140.2h0m0 36.6h0m0 17.5h0m14.2-54.1h0m0 32.5h0m0 19.6h0m14.2-52h0m0 28.5h0m0 17.3h0m14.3-45.9h0m0 33.1h0m0 10.9h0m14.3-43.9h0m0 33.2h0m0 9h0m14.4-42.2h0m0 33.4h0m0 8.4h0m18-41.7h0m0.1 33.6h0m0 8.1h0m18.1-41.6h0m0 34.1h0m0 8h0m18.2-41h0m0.1 33.5h0m0 8.1h0m18.3-39.9h0m0 32.3h0m0 8.2h0m18.4-39.6h0m0 32h0m0 8.1h0m18.5-39.4h0m0 31.8h0m0 8.2h0" stroke="#ef7d18"/>
<path d="M32.8 140.4h0m0 37.3h0m0 17.7h0m14.1-54.6h0m0.1 34.1h0m0 19.1h0m14.2-53.1h0m0 29.8h0m0 19.6h0m14.3-49.4h0m0 34.4h0m0 13.6h0m14.3-47.9h0m0 34.5h0m0.1 11h0m14.3-45.5h0m0 34.6h0m0.1 10.1h0m18-44.7h0m0 34.9h0m0 9.6h0m18.2-44.3h0m0 35.2h0m0 9.6h0m18.2-43.6h0m0.1 34.5h0m0 9.7h0m18.3-42.6h0m0 33.4h0m0 9.7h0m18.4-42.1h0m0 32.9h0m0 9.7h0m18.6-41.9h0m0 32.8h0m0 9.7h0" stroke="#6b340b" stroke-width="2.85"/>
<path d="M32.8 140.4h0m0 37.3h0m0 17.7h0m14.1-54.6h0m0.1 34.1h0m0 19.1h0m14.2-53.1h0m0 29.8h0m0 19.6h0m14.3-49.4h0m0 34.4h0m0 13.6h0m14.3-47.9h0m0 34.5h0m0.1 11h0m14.3-45.5h0m0 34.6h0m0.1 10.1h0m18-44.7h0m0 34.9h0m0 9.6h0m18.2-44.3h0m0 35.2h0m0 9.6h0m18.2-43.6h0m0.1 34.5h0m0 9.7h0m18.3-42.6h0m0 33.4h0m0 9.7h0m18.4-42.1h0m0 32.9h0m0 9.7h0m18.6-41.9h0m0 32.8h0m0 9.7h0" stroke="#ed7418"/>
<path d="M31.3 139.9h0m0.1 38h0m0 18.3h0m14.1-54.9h0m0.1 35.7h0m0 18.4h0m14.2-53.9h0m0 31.2h0m0 20.7h0m14.3-52h0m0 35.1h0m0 16.2h0m14.4-51.2h0m0 35.1h0m0 13.2h0m14.4-48.3h0m0 35.2h0m0 12.1h0m18.1-47.2h0m0 35.3h0m0 11.6h0m18.2-46.8h0m0 35.7h0m0 11.6h0m18.2-46.1h0m0 35h0m0 11.6h0m18.4-44.9h0m0 33.8h0m0 11.6h0m18.4-44.4h0m0 33.3h0m0 11.7h0m18.6-44.3h0m0 33.2h0m0 11.6h0" stroke="#6a330b" stroke-width="2.85"/>
<path d="M31.3 139.9h0m0.1 38h0m0 18.3h0m14.1-54.9h0m0.1 35.7h0m0 18.4h0m14.2-53.9h0m0 31.2h0m0 20.7h0m14.3-52h0m0 35.1h0m0 16.2h0m14.4-51.2h0m0 35.1h0m0 13.2h0m14.4-48.3h0m0 35.2h0m0 12.1h0m18.1-47.2h0m0 35.3h0m0 11.6h0m18.2-46.8h0m0 35.7h0m0 11.6h0m18.2-46.1h0m0 35h0m0 11.6h0m18.4-44.9h0m0 33.8h0m0 11.6h0m18.4-44.4h0m0 33.3h0m0 11.7h0m18.6-44.3h0m0 33.2h0m0 11.6h0" stroke="#ec7118"/>
<path d="M29.9 138.7h0m0 38.7h0m0 19.2h0m14.2-54.8h0m0 36.9h0m0.1 17.9h0m14.2-54.6h0m0 32.7h0m0 20.4h0m14.3-53.7h0m0 35.5h0m0.1 20h0m14.3-55.4h0m0 35.5h0m0 16.1h0m14.4-51.5h0m0 35.5h0m0.1 14.6h0m18-50.1h0m0.1 35.7h0m0 13.8h0m18.1-49.3h0m0.1 36h0m0 13.8h0m18.2-48.7h0m0 35.4h0m0 13.8h0m18.4-47.6h0m0 34.2h0m0 13.9h0m18.4-47.1h0m0 33.7h0m0 13.9h0m18.6-47h0m0 33.6h0m0 13.9h0" stroke="#69300b" stroke-width="2.85"/>
<path d="M29.9 138.7h0m0 38.7h0m0 19.2h0m14.2-54.8h0m0 36.9h0m0.1 17.9h0m14.2-54.6h0m0 32.7h0m0 20.4h0m14.3-53.7h0m0 35.5h0m0.1 20h0m14.3-55.4h0m0 35.5h0m0 16.1h0m14.4-51.5h0m0 35.5h0m0.1 14.6h0m18-50.1h0m0.1 35.7h0m0 13.8h0m18.1-49.3h0m0.1 36h0m0 13.8h0m18.2-48.7h0m0 35.4h0m0 13.8h0m18.4-47.6h0m0 34.2h0m0 13.9h0m18.4-47.1h0m0 33.7h0m0 13.9h0m18.6-47h0m0 33.6h0m0 13.9h0" stroke="#ea6b18"/>
<path d="M28.4 136.7h0m0.1 39.7h0m0 20.1h0m14.2-54.6h0m0 37.5h0m0 18.1h0m14.3-55h0m0 34.5h0m0 19.6h0m14.3-56h0m0 36.8h0m0.1 20.4h0m14.3-57.1h0m0 36.7h0m0.1 16.4h0m14.4-53.1h0m0 36.7h0m0 15h0m18.1-51.7h0m0 36.8h0m0 14.3h0m18.2-50.9h0m0 37.1h0m0 14.3h0m18.3-50.5h0m0 36.6h0m0 14.3h0m18.4-49.5h0m0 35.7h0m0 14.3h0m18.4-49.2h0m0 35.4h0m0.1 14.3h0m18.5-49.1h0m0 35.3h0m0 14.3h0" stroke="#6a310b" stroke-width="2.85"/>
<path d="M28.4 136.7h0m0.1 39.7h0m0 20.1h0m14.2-54.6h0m0 37.5h0m0 18.1h0m14.3-55h0m0 34.5h0m0 19.6h0m14.3-56h0m0 36.8h0m0.1 20.4h0m14.3-57.1h0m0 36.7h0m0.1 16.4h0m14.4-53.1h0m0 36.7h0m0 15h0m18.1-51.7h0m0 36.8h0m0 14.3h0m18.2-50.9h0m0 37.1h0m0 14.3h0m18.3-50.5h0m0 36.6h0m0 14.3h0m18.4-49.5h0m0 35.7h0m0 14.3h0m18.4-49.2h0m0 35.4h0m0.1 14.3h0m18.5-49.1h0m0 35.3h0m0 14.3h0" stroke="#ea6d19"/>
<path d="M27 134.2h0m0 40.5h0m0 21.2h0m14.2-55.4h0m0.1 38.5h0m0 19h0m14.3-55h0m0 36.1h0m0 18.8h0m14.3-58.7h0m0.1 38.5h0m0 20.5h0m14.3-58.9h0m0.1 38.3h0m0 16.7h0m14.4-55h0m0 38.3h0m0 15.3h0m18.1-53.6h0m0.1 38.3h0m0 14.6h0m18.2-52.7h0m0 38.6h0m0 14.6h0m18.3-52.6h0m0 38.4h0m0 14.7h0m18.4-52.1h0m0 37.9h0m0 14.7h0m18.4-52h0m0.1 37.7h0m0 14.8h0m18.5-52.1h0m0 37.8h0m0 14.8h0" stroke="#6a330c" stroke-width="2.85"/>
<path d="M27 134.2h0m0 40.5h0m0 21.2h0m14.2-55.4h0m0.1 38.5h0m0 19h0m14.3-55h0m0 36.1h0m0 18.8h0m14.3-58.7h0m0.1 38.5h0m0 20.5h0m14.3-58.9h0m0.1 38.3h0m0 16.7h0m14.4-55h0m0 38.3h0m0 15.3h0m18.1-53.6h0m0.1 38.3h0m0 14.6h0m18.2-52.7h0m0 38.6h0m0 14.6h0m18.3-52.6h0m0 38.4h0m0 14.7h0m18.4-52.1h0m0 37.9h0m0 14.7h0m18.4-52h0m0.1 37.7h0m0 14.8h0m18.5-52.1h0m0 37.8h0m0 14.8h0" stroke="#eb721a"/>
<path d="M25.5 131.1h0m0.1 41.3h0m0 22.5h0m14.2-57h0m0 39.3h0m0.1 20.4h0m14.2-54.2h0m0.1 37.2h0m0 18.2h0m14.3-61h0m0.1 39.8h0m0 20.9h0m14.3-60.6h0m0.1 39.6h0m0 17.1h0m14.4-56.7h0m0.1 39.5h0m0 15.8h0m18.1-55.4h0m0 39.6h0m0 15.1h0m18.2-54.5h0m0.1 39.9h0m0 15.1h0m18.3-54.8h0m0 40.1h0m0 15.2h0m18.4-54.9h0m0 40.1h0m0 15.3h0m18.4-55.1h0m0 40.3h0m0.1 15.3h0m18.5-55.3h0m0 40.4h0m0 15.4h0" stroke="#6a360c" stroke-width="2.85"/>
<path d="M25.5 131.1h0m0.1 41.3h0m0 22.5h0m14.2-57h0m0 39.3h0m0.1 20.4h0m14.2-54.2h0m0.1 37.2h0m0 18.2h0m14.3-61h0m0.1 39.8h0m0 20.9h0m14.3-60.6h0m0.1 39.6h0m0 17.1h0m14.4-56.7h0m0.1 39.5h0m0 15.8h0m18.1-55.4h0m0 39.6h0m0 15.1h0m18.2-54.5h0m0.1 39.9h0m0 15.1h0m18.3-54.8h0m0 40.1h0m0 15.2h0m18.4-54.9h0m0 40.1h0m0 15.3h0m18.4-55.1h0m0 40.3h0m0.1 15.3h0m18.5-55.3h0m0 40.4h0m0 15.4h0" stroke="#ec771c"/>
<path d="M24 127.5h0m0.1 42h0m0 23.9h0m14.3-58.8h0m0 39.7h0m0 21.9h0m14.3-54h0m0.1 38.3h0m0 19h0m14.3-62.7h0m0.1 40.5h0m0 21.3h0m14.4-61.8h0m0 40.3h0m0 17.5h0m14.5-57.8h0m0 40.2h0m0 16.2h0m18.1-56.4h0m0.1 40.2h0m0 15.6h0m18.2-55.7h0m0 40.5h0m0 15.7h0m18.3-56.1h0m0.1 40.9h0m0 15.7h0m18.4-56.6h0m0 41.3h0m0 15.8h0m18.4-56.9h0m0 41.5h0m0 15.9h0m18.6-57.2h0m0 41.8h0m0 15.9h0" stroke="#6b370d" stroke-width="2.85"/>
<path d="M24 127.5h0m0.1 42h0m0 23.9h0m14.3-58.8h0m0 39.7h0m0 21.9h0m14.3-54h0m0.1 38.3h0m0 19h0m14.3-62.7h0m0.1 40.5h0m0 21.3h0m14.4-61.8h0m0 40.3h0m0 17.5h0m14.5-57.8h0m0 40.2h0m0 16.2h0m18.1-56.4h0m0.1 40.2h0m0 15.6h0m18.2-55.7h0m0 40.5h0m0 15.7h0m18.3-56.1h0m0.1 40.9h0m0 15.7h0m18.4-56.6h0m0 41.3h0m0 15.8h0m18.4-56.9h0m0 41.5h0m0 15.9h0m18.6-57.2h0m0 41.8h0m0 15.9h0" stroke="#ed7b1d"/>
<path d="M22.6 123.5h0m0 42.3h0m0.1 25.8h0m14.2-60.6h0m0.1 39.6h0m0 23.7h0m14.3-59.1h0m0 39.7h0m0.1 24.4h0m14.3-63h0m0.1 40.4h0m0 21.8h0m14.4-62.1h0m0 40.2h0m0 18h0m14.5-58.2h0m0 40h0m0 16.8h0m18.2-56.9h0m0 40.1h0m0 16.1h0m18.3-56h0m0 40.3h0m0 16.2h0m18.3-56.5h0m0 40.8h0m0 16.2h0m18.4-56.9h0m0 41.1h0m0.1 16.3h0m18.4-57.2h0m0 41.3h0m0 16.4h0m18.6-57.5h0m0 41.5h0m0 16.5h0" stroke="#6b3a0e" stroke-width="2.85"/>
<path d="M22.6 123.5h0m0 42.3h0m0.1 25.8h0m14.2-60.6h0m0.1 39.6h0m0 23.7h0m14.3-59.1h0m0 39.7h0m0.1 24.4h0m14.3-63h0m0.1 40.4h0m0 21.8h0m14.4-62.1h0m0 40.2h0m0 18h0m14.5-58.2h0m0 40h0m0 16.8h0m18.2-56.9h0m0 40.1h0m0 16.1h0m18.3-56h0m0 40.3h0m0 16.2h0m18.3-56.5h0m0 40.8h0m0 16.2h0m18.4-56.9h0m0 41.1h0m0.1 16.3h0m18.4-57.2h0m0 41.3h0m0 16.4h0m18.6-57.5h0m0 41.5h0m0 16.5h0" stroke="#ee801e"/>
<path d="M22.7 191.6L47.1 198.5M22.6 165.8L47 176.7M22.6 123.5L47 139.6" stroke="#999" stroke-width=".4"/>
<path d="M47.3 204.9h0m0.2 2.8h0m0.2 2.8h0m8.1-5.3h0m0.2 2.8h0m0.2 2.8h0m4.7-5.4h0m0.2 2.8h0m0.3 2.8h0" stroke="#5a0c06" stroke-width="2.85"/>
<path d="M47.3 204.9h0m0.2 2.8h0m0.2 2.8h0m8.1-5.3h0m0.2 2.8h0m0.2 2.8h0m4.7-5.4h0m0.2 2.8h0m0.3 2.8h0" stroke="#d8281a"/>
<path d="M46.6 196.4h0m0.2 2.9h0m0.3 2.8h0m-0.5-24.9h0m1.3 1.8h0m1.3 1.8h0m-2.7-41.3h0m1.3 1.6h0m1.3 1.5h0m6 54.2h0m0.2 2.8h0m0.2 2.8h0m-0.4-24.9h0m1.3 1.8h0m1.2 1.8h0m-2.6-41.3h0m1.3 1.5h0m1.3 1.6h0m2.7 54h0m0.2 2.9h0m0.2 2.8h0m-0.4-24.9h0m1.2 1.8h0m1.3 1.8h0m-2.6-41.4h0m1.3 1.6h0m1.3 1.6h0" stroke="#0a0606" stroke-width="2.85"/></g>
<g fill="#1c1c1c"><text transform="translate(17.1 212.4) rotate(90)" text-anchor="middle" font-size="7">0</text>
<text transform="translate(17 180.5) rotate(90)" text-anchor="middle" font-size="7">50</text>
<text transform="translate(17 148.5) rotate(90)" text-anchor="middle" font-size="7">100</text>
<text transform="translate(16.9 116.6) rotate(90)" text-anchor="middle" font-size="7">150</text>
<text transform="translate(16.9 84.7) rotate(90)" text-anchor="middle" font-size="7">200</text>
<text transform="translate(16.9 52.7) rotate(90)" text-anchor="middle" font-size="7">250</text>
<text transform="translate(16.8 20.8) rotate(90)" text-anchor="middle" font-size="7">300</text>
<text transform="translate(7.4 118.5) rotate(90)" text-anchor="middle" font-size="9.4">Natural frequency (kHz)</text>
<text x="168" y="223.1" text-anchor="middle" font-size="6">25</text>
<text x="131.2" y="221.7" text-anchor="middle" font-size="6">50</text>
<text x="94.8" y="220.3" text-anchor="middle" font-size="6">75</text>
<text x="58.6" y="219" text-anchor="middle" font-size="6">100</text>
<text x="112.6" y="230.6" text-anchor="middle" font-size="8.6"><tspan font-style="italic">V</tspan><tspan font-size="4.6" dy="1.6" font-style="italic">PP</tspan><tspan dy="-1.6"> (V)</tspan></text>
<text transform="translate(205.9 224.3) rotate(-20)" text-anchor="middle" font-size="6">0</text>
<text transform="translate(218.8 219.6) rotate(-20)" text-anchor="middle" font-size="6">100</text>
<text transform="translate(231.4 215) rotate(-20)" text-anchor="middle" font-size="6">200</text>
<text transform="translate(243.7 210.5) rotate(-20)" text-anchor="middle" font-size="6">300</text>
<text transform="translate(255.7 206.2) rotate(-20)" text-anchor="middle" font-size="6">400</text>
<text transform="translate(267.4 201.9) rotate(-20)" text-anchor="middle" font-size="6">500</text>
<text transform="translate(241.4 220.4) rotate(-20)" text-anchor="middle" font-size="8.6"><tspan font-style="italic">V</tspan><tspan font-size="4.6" dy="1.6" font-style="italic">TT</tspan><tspan dy="-1.6"> (V)</tspan></text></g>
<text y="245.8" font-size="10.3" fill="#1c1c1c"><tspan x="104.4" font-weight="bold">(b)</tspan><tspan x="118.4" font-style="italic">b</tspan><tspan font-size="7" dy="1.9">0</tspan><tspan dy="-1.9" x="131.6">=</tspan><tspan x="142.6">3.5</tspan><tspan x="156.6">µm</tspan></text>

</g>
<g transform="translate(137 263)">
<path d="M22.6 179.1L91.6 159M91.6 159L266.5 164.8M22.6 147.1L91.7 128.5M91.7 128.5L266.5 134M22.5 115.2L91.8 98M91.8 98L266.5 103.2M22.5 83.3L91.8 67.4M91.8 67.4L266.5 72.5M22.4 51.3L91.9 36.9M91.9 36.9L266.5 41.8M37.1 206.5L37 16.7M37.1 206.5L217.9 213.2M51.2 202.1L51.2 14M51.2 202.1L230.5 208.6M64.9 197.8L65.1 11.4M64.9 197.8L242.8 204.1M78.4 193.6L78.7 8.9M78.4 193.6L254.8 199.8M230.1 194.3L230.2 10M168 216.5L230.1 194.3M194.4 193L194.6 9.1M131.2 215.1L194.4 193M159.5 191.8L159.8 8.2M94.8 213.7L159.5 191.8M125.2 190.7L125.6 7.3M58.6 212.4L125.2 190.7" stroke="#e4e4e4" stroke-width=".5" fill="none"/>
<path d="M91.5 189.5L92 6.4M22.7 211L91.5 189.5M91.5 189.5L266.5 195.5" stroke="#aaa" stroke-width=".5" fill="none"/>
<path d="M22.7 211L22.4 19.4M205 217.9L205 23M266.5 195.5L266.5 11M22.4 19.4L92 6.4M92 6.4L266.5 11M266.5 11L205 23M205 23L22.4 19.4M22.7 211L205 217.9M205 217.9L266.5 195.5M22.7 211h2M266.5 195.5h-2M205 217.9h1.4M22.7 204.6h1M266.5 189.3h-1M205 211.4h0.7M22.7 198.2h1M266.5 183.2h-1M205 204.9h0.7M22.7 191.8h1M266.5 177.1h-1M205 198.4h0.7M22.7 185.5h1M266.5 170.9h-1M205 191.9h0.7M22.6 179.1h2M266.5 164.8h-2M205 185.4h1.4M22.6 172.7h1M266.5 158.6h-1M205 178.9h0.7M22.6 166.3h1M266.5 152.4h-1M205 172.4h0.7M22.6 159.9h1M266.5 146.3h-1M205 165.9h0.7M22.6 153.5h1M266.5 140.2h-1M205 159.4h0.7M22.6 147.1h2M266.5 134h-2M205 152.9h1.4M22.6 140.7h1M266.5 127.9h-1M205 146.4h0.7M22.6 134.4h1M266.5 121.7h-1M205 139.9h0.7M22.6 128h1M266.5 115.5h-1M205 133.4h0.7M22.6 121.6h1M266.5 109.4h-1M205 126.9h0.7M22.5 115.2h2M266.5 103.2h-2M205 120.5h1.4M22.5 108.8h1M266.5 97.1h-1M205 114h0.7M22.5 102.4h1M266.5 91h-1M205 107.5h0.7M22.5 96h1M266.5 84.8h-1M205 101h0.7M22.5 89.7h1M266.5 78.7h-1M205 94.5h0.7M22.5 83.3h2M266.5 72.5h-2M205 88h1.4M22.5 76.9h1M266.5 66.3h-1M205 81.5h0.7M22.5 70.5h1M266.5 60.2h-1M205 75h0.7M22.5 64.1h1M266.5 54h-1M205 68.5h0.7M22.5 57.7h1M266.5 47.9h-1M205 62h0.7M22.4 51.3h2M266.5 41.8h-2M205 55.5h1.4M22.4 44.9h1M266.5 35.6h-1M205 49h0.7M22.4 38.6h1M266.5 29.4h-1M205 42.5h0.7M22.4 32.2h1M266.5 23.3h-1M205 36h0.7M22.4 25.8h1M266.5 17.2h-1M205 29.5h0.7M22.4 19.4h2M266.5 11h-2M205 23h1.4M205 217.9v-2M205 23v2M266.5 11v2M197.6 217.6v-1M197.6 22.9v1M259.2 10.8v1M190.1 217.3v-1M190.1 22.7v1M251.9 10.6v1M182.7 217.1v-1M182.7 22.6v1M244.6 10.4v1M175.3 216.8v-1M175.3 22.4v1M237.4 10.2v1M168 216.5v-2M167.9 22.3v2M230.2 10v2M160.6 216.2v-1M160.5 22.1v1M223 9.9v1M153.2 215.9v-1M153.1 22v1M215.9 9.7v1M145.9 215.7v-1M145.8 21.8v1M208.8 9.5v1M138.5 215.4v-1M138.4 21.7v1M201.7 9.3v1M131.2 215.1v-2M131.1 21.5v2M194.6 9.1v2M123.9 214.8v-1M123.8 21.4v1M187.6 8.9v1M116.6 214.6v-1M116.4 21.3v1M180.6 8.7v1M109.3 214.3v-1M109.1 21.1v1M173.6 8.6v1M102 214v-1M101.9 21v1M166.7 8.4v1M94.8 213.7v-2M94.6 20.8v2M159.8 8.2v2M87.5 213.5v-1M87.3 20.7v1M152.9 8v1M80.3 213.2v-1M80 20.5v1M146 7.8v1M73 212.9v-1M72.8 20.4v1M139.2 7.6v1M65.8 212.6v-1M65.6 20.3v1M132.3 7.5v1M58.6 212.4v-2M58.3 20.1v2M125.6 7.3v2M51.4 212.1v-1M51.1 20v1M118.8 7.1v1M44.2 211.8v-1M43.9 19.8v1M112.1 6.9v1M37 211.5v-1M36.7 19.7v1M105.3 6.8v1M29.9 211.3v-1M29.6 19.5v1M98.7 6.6v1M22.7 211v-2M22.4 19.4v2M92 6.4v2M205 217.9v-2M22.4 19.4v2M205 23v2M207.6 217v-1M25.3 18.9v1M207.6 22.5v1M210.2 216v-1M28.3 18.3v1M210.2 22v1M212.8 215.1v-1M31.2 17.8v1M212.8 21.5v1M215.3 214.1v-1M34.1 17.2v1M215.3 21v1M217.9 213.2v-2M37 16.7v2M217.9 20.5v2M220.4 212.3v-1M39.9 16.1v1M220.4 20v1M223 211.4v-1M42.7 15.6v1M223 19.5v1M225.5 210.4v-1M45.6 15.1v1M225.5 19v1M228 209.5v-1M48.4 14.5v1M228 18.5v1M230.5 208.6v-2M51.2 14v2M230.5 18v2M232.9 207.7v-1M54 13.5v1M232.9 17.5v1M235.4 206.8v-1M56.8 13v1M235.4 17.1v1M237.9 205.9v-1M59.6 12.5v1M237.9 16.6v1M240.3 205v-1M62.4 11.9v1M240.3 16.1v1M242.8 204.1v-2M65.1 11.4v2M242.8 15.6v2M245.2 203.3v-1M67.9 10.9v1M245.2 15.2v1M247.6 202.4v-1M70.6 10.4v1M247.6 14.7v1M250 201.5v-1M73.3 9.9v1M250 14.2v1M252.4 200.6v-1M76 9.4v1M252.4 13.8v1M254.8 199.8v-2M78.7 8.9v2M254.8 13.3v2M257.1 198.9v-1M81.4 8.4v1M257.1 12.8v1M259.5 198.1v-1M84.1 7.9v1M259.5 12.4v1M261.8 197.2v-1M86.7 7.4v1M261.8 11.9v1M264.2 196.3v-1M89.4 6.9v1M264.2 11.5v1M266.5 195.5v-2M92 6.4v2M266.5 11v2" stroke="#727272" stroke-width=".5" fill="none"/>
<g fill="none" stroke-width="1.95"><path d="M98.6 24.9h0m-0.1 30.8h0m0 23.2h0m13.5-53.6h0m-0.1 30.8h0m0 23.2h0m13.6-53.7h0m-0.1 30.9h0m0 23.2h0m13.7-53.7h0m0 30.9h0m-0.1 23.2h0m13.8-53.7h0m0 30.9h0m-0.1 23.2h0m7-53.9h0m0 30.9h0m-0.1 23.2h0m17.5-53.7h0m0 31h0m-0.1 23.2h0m17.6-53.7h0m0 31h0m0 23.3h0m17.7-53.8h0m0 31h0m0 23.3h0m17.9-53.8h0m0 31h0m0 23.3h0m18.1-53.8h0m0 31h0m-0.1 23.3h0m18.3-53.9h0m0 31.1h0m0 23.4h0" stroke="#00005a" stroke-width="2.85"/>
<path d="M98.6 24.9h0m-0.1 30.8h0m0 23.2h0m13.5-53.6h0m-0.1 30.8h0m0 23.2h0m13.6-53.7h0m-0.1 30.9h0m0 23.2h0m13.7-53.7h0m0 30.9h0m-0.1 23.2h0m13.8-53.7h0m0 30.9h0m-0.1 23.2h0m7-53.9h0m0 30.9h0m-0.1 23.2h0m17.5-53.7h0m0 31h0m-0.1 23.2h0m17.6-53.7h0m0 31h0m0 23.3h0m17.7-53.8h0m0 31h0m0 23.3h0m17.9-53.8h0m0 31h0m0 23.3h0m18.1-53.8h0m0 31h0m-0.1 23.3h0m18.3-53.9h0m0 31.1h0m0 23.4h0" stroke="#0000c8"/>
<path d="M97.8 79.7h0m13.4 0.4h0m13.6 0.4h0m13.6 0.4h0m13.7 0.4h0m6.9 0.2h0m17.4 0.5h0m17.6 0.6h0m17.7 0.5h0m17.9 0.5h0m18.1 0.5h0m18.2 0.6h0" stroke="#00005a" stroke-width="2.85"/>
<path d="M97.8 79.7h0m13.4 0.4h0m13.6 0.4h0m13.6 0.4h0m13.7 0.4h0m6.9 0.2h0m17.4 0.5h0m17.6 0.6h0m17.7 0.5h0m17.9 0.5h0m18.1 0.5h0m18.2 0.6h0" stroke="#0001c9"/>
<path d="M97.3 28.4h0m-0.1 29.7h0m0 22.4h0m13.5-51.7h0m-0.1 29.7h0m0 22.4h0m13.6-51.7h0m0 29.6h0m-0.1 22.5h0m13.8-51.8h0m-0.1 29.7h0m0 22.5h0m13.8-51.8h0m-0.1 29.7h0m0 22.5h0m7-52h0m0 29.7h0m-0.1 22.5h0m17.5-51.7h0m-0.1 29.7h0m0 22.5h0m17.6-51.7h0m0 29.7h0m0 22.5h0m17.7-51.8h0m0 29.8h0m0 22.6h0m17.9-51.9h0m0 29.8h0m0 22.6h0m18.1-51.9h0m0 29.8h0m0 22.6h0m18.2-51.9h0m0 29.9h0m0 22.6h0" stroke="#00005b" stroke-width="2.85"/>
<path d="M97.3 28.4h0m-0.1 29.7h0m0 22.4h0m13.5-51.7h0m-0.1 29.7h0m0 22.4h0m13.6-51.7h0m0 29.6h0m-0.1 22.5h0m13.8-51.8h0m-0.1 29.7h0m0 22.5h0m13.8-51.8h0m-0.1 29.7h0m0 22.5h0m7-52h0m0 29.7h0m-0.1 22.5h0m17.5-51.7h0m-0.1 29.7h0m0 22.5h0m17.6-51.7h0m0 29.7h0m0 22.5h0m17.7-51.8h0m0 29.8h0m0 22.6h0m17.9-51.9h0m0 29.8h0m0 22.6h0m18.1-51.9h0m0 29.8h0m0 22.6h0m18.2-51.9h0m0 29.9h0m0 22.6h0" stroke="#0001c9"/>
<path d="M96.5 81.3h0m13.5 0.4h0m13.5 0.4h0m13.6 0.4h0m13.8 0.4h0m6.9 0.2h0m17.4 0.5h0m17.6 0.5h0m17.7 0.6h0m17.9 0.5h0m18.1 0.5h0m18.3 0.6h0" stroke="#00015b" stroke-width="2.85"/>
<path d="M96.5 81.3h0m13.5 0.4h0m13.5 0.4h0m13.6 0.4h0m13.8 0.4h0m6.9 0.2h0m17.4 0.5h0m17.6 0.5h0m17.7 0.6h0m17.9 0.5h0m18.1 0.5h0m18.3 0.6h0" stroke="#0102cb"/>
<path d="M96 32h0m-0.1 28.5h0m0 21.6h0m13.5-49.7h0m0 28.4h0m-0.1 21.7h0m13.7-49.8h0m-0.1 28.5h0m0 21.7h0m13.7-49.8h0m0 28.5h0m-0.1 21.7h0m13.8-49.8h0m0 28.5h0m0 21.7h0m7-50h0m-0.1 28.5h0m0 21.7h0m17.5-49.8h0m-0.1 28.6h0m0 21.7h0m17.6-49.8h0m0 28.6h0m0 21.7h0m17.7-49.8h0m0 28.6h0m0 21.8h0m17.9-49.9h0m0 28.6h0m0 21.8h0m18.1-49.9h0m0 28.6h0m0 21.8h0m18.3-49.9h0m0 28.7h0m0 21.8h0" stroke="#00015c" stroke-width="2.85"/>
<path d="M96 32h0m-0.1 28.5h0m0 21.6h0m13.5-49.7h0m0 28.4h0m-0.1 21.7h0m13.7-49.8h0m-0.1 28.5h0m0 21.7h0m13.7-49.8h0m0 28.5h0m-0.1 21.7h0m13.8-49.8h0m0 28.5h0m0 21.7h0m7-50h0m-0.1 28.5h0m0 21.7h0m17.5-49.8h0m-0.1 28.6h0m0 21.7h0m17.6-49.8h0m0 28.6h0m0 21.7h0m17.7-49.8h0m0 28.6h0m0 21.8h0m17.9-49.9h0m0 28.6h0m0 21.8h0m18.1-49.9h0m0 28.6h0m0 21.8h0m18.3-49.9h0m0 28.7h0m0 21.8h0" stroke="#0103cb"/>
<path d="M95.2 82.9h0m13.5 0.4h0m13.5 0.4h0m13.7 0.4h0m13.7 0.4h0m7 0.2h0m17.4 0.5h0m17.6 0.5h0m17.7 0.6h0m17.9 0.5h0m18.1 0.5h0m18.3 0.6h0" stroke="#01015c" stroke-width="2.85"/>
<path d="M95.2 82.9h0m13.5 0.4h0m13.5 0.4h0m13.7 0.4h0m13.7 0.4h0m7 0.2h0m17.4 0.5h0m17.6 0.5h0m17.7 0.6h0m17.9 0.5h0m18.1 0.5h0m18.3 0.6h0" stroke="#0103cc"/>
<path d="M94.7 35.5h0m-0.1 27.4h0m0 20.8h0m13.5-47.8h0m0 27.3h0m-0.1 20.9h0m13.7-47.8h0m-0.1 27.3h0m0 20.9h0m13.7-47.8h0m0 27.3h0m0 20.9h0m13.8-47.9h0m0 27.4h0m-0.1 20.9h0m7-48.1h0m0 27.4h0m-0.1 20.9h0m17.5-47.8h0m0 27.4h0m0 20.9h0m17.6-47.8h0m0 27.4h0m0 20.9h0m17.7-47.8h0m0 27.4h0m0 21h0m18-48h0m-0.1 27.5h0m0 21h0m18.1-48h0m0 27.6h0m0 20.9h0m18.3-48h0m0 27.6h0m0 21h0" stroke="#01025c" stroke-width="2.85"/>
<path d="M94.7 35.5h0m-0.1 27.4h0m0 20.8h0m13.5-47.8h0m0 27.3h0m-0.1 20.9h0m13.7-47.8h0m-0.1 27.3h0m0 20.9h0m13.7-47.8h0m0 27.3h0m0 20.9h0m13.8-47.9h0m0 27.4h0m-0.1 20.9h0m7-48.1h0m0 27.4h0m-0.1 20.9h0m17.5-47.8h0m0 27.4h0m0 20.9h0m17.6-47.8h0m0 27.4h0m0 20.9h0m17.7-47.8h0m0 27.4h0m0 21h0m18-48h0m-0.1 27.5h0m0 21h0m18.1-48h0m0 27.6h0m0 20.9h0m18.3-48h0m0 27.6h0m0 21h0" stroke="#0204cd"/>
<path d="M93.9 84.5h0m13.5 0.4h0m13.5 0.4h0m13.7 0.4h0m13.8 0.4h0m6.9 0.2h0m17.5 0.5h0m17.6 0.5h0m17.7 0.6h0m17.9 0.5h0m18.1 0.5h0m18.3 0.6h0" stroke="#01025d" stroke-width="2.85"/>
<path d="M93.9 84.5h0m13.5 0.4h0m13.5 0.4h0m13.7 0.4h0m13.8 0.4h0m6.9 0.2h0m17.5 0.5h0m17.6 0.5h0m17.7 0.6h0m17.9 0.5h0m18.1 0.5h0m18.3 0.6h0" stroke="#0204ce"/>
<path d="M93.3 39.1h0m0 26.2h0m-0.1 20h0m13.6-45.8h0m0 26.2h0m-0.1 20h0m13.7-45.9h0m-0.1 26.3h0m0 20h0m13.8-45.9h0m-0.1 26.3h0m0 20h0m13.8-45.9h0m0 26.3h0m0 20h0m7-46.1h0m-0.1 26.3h0m0 20h0m17.5-45.9h0m0 26.4h0m-0.1 20h0m17.7-45.9h0m0 26.4h0m-0.1 20h0m17.8-45.9h0m0 26.4h0m0 20.1h0m18-46h0m0 26.4h0m0 20.1h0m18.1-46h0m0 26.4h0m0 20.1h0m18.2-46h0m0 26.4h0m0 20.2h0" stroke="#01025d" stroke-width="2.85"/>
<path d="M93.3 39.1h0m0 26.2h0m-0.1 20h0m13.6-45.8h0m0 26.2h0m-0.1 20h0m13.7-45.9h0m-0.1 26.3h0m0 20h0m13.8-45.9h0m-0.1 26.3h0m0 20h0m13.8-45.9h0m0 26.3h0m0 20h0m7-46.1h0m-0.1 26.3h0m0 20h0m17.5-45.9h0m0 26.4h0m-0.1 20h0m17.7-45.9h0m0 26.4h0m-0.1 20h0m17.8-45.9h0m0 26.4h0m0 20.1h0m18-46h0m0 26.4h0m0 20.1h0m18.1-46h0m0 26.4h0m0 20.1h0m18.2-46h0m0 26.4h0m0 20.2h0" stroke="#0205ce"/>
<path d="M92.6 86.1h0m13.5 0.4h0m13.6 0.4h0m13.7 0.4h0m13.8 0.4h0m6.9 0.2h0m17.4 0.5h0m17.6 0.5h0m17.8 0.6h0m18 0.5h0m18.1 0.5h0m18.3 0.6h0" stroke="#01035d" stroke-width="2.85"/>
<path d="M92.6 86.1h0m13.5 0.4h0m13.6 0.4h0m13.7 0.4h0m13.8 0.4h0m6.9 0.2h0m17.4 0.5h0m17.6 0.5h0m17.8 0.6h0m18 0.5h0m18.1 0.5h0m18.3 0.6h0" stroke="#0206d0"/>
<path d="M92 42.6h0m0 25.2h0m-0.1 19.1h0m13.6-43.9h0m0 25.2h0m-0.1 19.1h0m13.7-43.9h0m0 25.2h0m-0.1 19.1h0m13.8-43.9h0m0 25.2h0m-0.1 19.1h0m13.9-44h0m0 25.2h0m-0.1 19.2h0m7-44.2h0m0 25.2h0m0 19.2h0m17.5-43.9h0m-0.1 25.2h0m0 19.2h0m17.7-43.9h0m0 25.2h0m-0.1 19.2h0m17.8-43.9h0m0 25.3h0m0 19.2h0m18-44h0m0 25.3h0m0 19.2h0m18.1-44h0m0 25.3h0m0 19.2h0m18.3-44h0m0 25.3h0m0 19.3h0" stroke="#01035e" stroke-width="2.85"/>
<path d="M92 42.6h0m0 25.2h0m-0.1 19.1h0m13.6-43.9h0m0 25.2h0m-0.1 19.1h0m13.7-43.9h0m0 25.2h0m-0.1 19.1h0m13.8-43.9h0m0 25.2h0m-0.1 19.1h0m13.9-44h0m0 25.2h0m-0.1 19.2h0m7-44.2h0m0 25.2h0m0 19.2h0m17.5-43.9h0m-0.1 25.2h0m0 19.2h0m17.7-43.9h0m0 25.2h0m-0.1 19.2h0m17.8-43.9h0m0 25.3h0m0 19.2h0m18-44h0m0 25.3h0m0 19.2h0m18.1-44h0m0 25.3h0m0 19.2h0m18.3-44h0m0 25.3h0m0 19.3h0" stroke="#0306d0"/>
<path d="M91.3 87.7h0m13.5 0.4h0m13.6 0.4h0m13.7 0.4h0m13.8 0.4h0m6.9 0.2h0m17.5 0.5h0m17.6 0.5h0m17.8 0.6h0m18 0.5h0m18.1 0.5h0m18.3 0.6h0" stroke="#01035e" stroke-width="2.85"/>
<path d="M91.3 87.7h0m13.5 0.4h0m13.6 0.4h0m13.7 0.4h0m13.8 0.4h0m6.9 0.2h0m17.5 0.5h0m17.6 0.5h0m17.8 0.6h0m18 0.5h0m18.1 0.5h0m18.3 0.6h0" stroke="#0307d1"/>
<path d="M90.7 46.2h0m0 24.1h0m-0.1 18.2h0m13.6-41.9h0m0 24.1h0m-0.1 18.2h0m13.7-41.9h0m0 24.1h0m-0.1 18.2h0m13.8-42h0m0 24.2h0m0 18.2h0m13.8-42h0m0 24.2h0m0 18.2h0m7-42.2h0m-0.1 24.2h0m0 18.2h0m17.5-41.9h0m0 24.2h0m0 18.2h0m17.7-41.9h0m-0.1 24.2h0m0 18.2h0m17.8-41.9h0m0 24.2h0m0 18.3h0m18-42.1h0m0 24.3h0m0 18.3h0m18.1-42.1h0m0 24.3h0m0 18.3h0m18.3-42.1h0m0 24.3h0m0 18.4h0" stroke="#01035e" stroke-width="2.85"/>
<path d="M90.7 46.2h0m0 24.1h0m-0.1 18.2h0m13.6-41.9h0m0 24.1h0m-0.1 18.2h0m13.7-41.9h0m0 24.1h0m-0.1 18.2h0m13.8-42h0m0 24.2h0m0 18.2h0m13.8-42h0m0 24.2h0m0 18.2h0m7-42.2h0m-0.1 24.2h0m0 18.2h0m17.5-41.9h0m0 24.2h0m0 18.2h0m17.7-41.9h0m-0.1 24.2h0m0 18.2h0m17.8-41.9h0m0 24.2h0m0 18.3h0m18-42.1h0m0 24.3h0m0 18.3h0m18.1-42.1h0m0 24.3h0m0 18.3h0m18.3-42.1h0m0 24.3h0m0 18.4h0" stroke="#0307d2"/>
<path d="M90 89.3h0m13.5 0.4h0m13.6 0.4h0m13.7 0.4h0m13.8 0.4h0m7 0.2h0m17.5 0.5h0m17.6 0.5h0m17.8 0.6h0m18 0.5h0m18.1 0.5h0m18.3 0.6h0" stroke="#01045f" stroke-width="2.85"/>
<path d="M90 89.3h0m13.5 0.4h0m13.6 0.4h0m13.7 0.4h0m13.8 0.4h0m7 0.2h0m17.5 0.5h0m17.6 0.5h0m17.8 0.6h0m18 0.5h0m18.1 0.5h0m18.3 0.6h0" stroke="#0308d2"/>
<path d="M89.4 49.8h0m-0.1 23h0m0 17.3h0m13.6-40h0m0 23.1h0m-0.1 17.3h0m13.7-40h0m0 23.1h0m0 17.3h0m13.8-40h0m-0.1 23.1h0m0 17.3h0m13.9-40h0m-0.1 23.1h0m0 17.3h0m7-40.2h0m0 23.1h0m0 17.3h0m17.5-40h0m0 23.2h0m0 17.3h0m17.6-40h0m0 23.2h0m0 17.3h0m17.8-40h0m0 23.2h0m0 17.4h0m18-40.1h0m0 23.2h0m0 17.4h0m18.1-40.1h0m0 23.3h0m0 17.3h0m18.3-40.1h0m0 23.3h0m0 17.4h0" stroke="#02045f" stroke-width="2.85"/>
<path d="M89.4 49.8h0m-0.1 23h0m0 17.3h0m13.6-40h0m0 23.1h0m-0.1 17.3h0m13.7-40h0m0 23.1h0m0 17.3h0m13.8-40h0m-0.1 23.1h0m0 17.3h0m13.9-40h0m-0.1 23.1h0m0 17.3h0m7-40.2h0m0 23.1h0m0 17.3h0m17.5-40h0m0 23.2h0m0 17.3h0m17.6-40h0m0 23.2h0m0 17.3h0m17.8-40h0m0 23.2h0m0 17.4h0m18-40.1h0m0 23.2h0m0 17.4h0m18.1-40.1h0m0 23.3h0m0 17.3h0m18.3-40.1h0m0 23.3h0m0 17.4h0" stroke="#0409d4"/>
<path d="M88.6 90.9h0m13.6 0.4h0m13.6 0.4h0m13.8 0.4h0m13.8 0.4h0m6.9 0.2h0m17.5 0.5h0m17.7 0.5h0m17.8 0.6h0m18 0.5h0m18.1 0.5h0m18.3 0.6h0" stroke="#020460" stroke-width="2.85"/>
<path d="M88.6 90.9h0m13.6 0.4h0m13.6 0.4h0m13.8 0.4h0m13.8 0.4h0m6.9 0.2h0m17.5 0.5h0m17.7 0.5h0m17.8 0.6h0m18 0.5h0m18.1 0.5h0m18.3 0.6h0" stroke="#0409d5"/>
<path d="M88 53.3h0m0 22.1h0m0 16.3h0m13.6-38h0m0 22.1h0m-0.1 16.3h0m13.7-38h0m0 22.1h0m0 16.3h0m13.8-38h0m-0.1 22.1h0m0 16.3h0m13.9-38.1h0m0 22.2h0m0 16.3h0m7-38.3h0m-0.1 22.2h0m0 16.3h0m17.6-38h0m-0.1 22.2h0m0 16.3h0m17.7-38h0m0 22.2h0m0 16.3h0m17.8-38h0m0 22.2h0m0 16.4h0m18-38.1h0m0 22.2h0m0 16.4h0m18.1-38.1h0m0 22.2h0m0 16.4h0m18.3-38.1h0m0 22.3h0m0 16.4h0" stroke="#020460" stroke-width="2.85"/>
<path d="M88 53.3h0m0 22.1h0m0 16.3h0m13.6-38h0m0 22.1h0m-0.1 16.3h0m13.7-38h0m0 22.1h0m0 16.3h0m13.8-38h0m-0.1 22.1h0m0 16.3h0m13.9-38.1h0m0 22.2h0m0 16.3h0m7-38.3h0m-0.1 22.2h0m0 16.3h0m17.6-38h0m-0.1 22.2h0m0 16.3h0m17.7-38h0m0 22.2h0m0 16.3h0m17.8-38h0m0 22.2h0m0 16.4h0m18-38.1h0m0 22.2h0m0 16.4h0m18.1-38.1h0m0 22.2h0m0 16.4h0m18.3-38.1h0m0 22.3h0m0 16.4h0" stroke="#040ad5"/>
<path d="M87.3 92.5h0m13.6 0.4h0m13.6 0.4h0m13.8 0.4h0m13.8 0.4h0m7 0.2h0m17.5 0.5h0m17.7 0.5h0m17.8 0.6h0m18 0.5h0m18.1 0.5h0m18.3 0.6h0" stroke="#020560" stroke-width="2.85"/>
<path d="M87.3 92.5h0m13.6 0.4h0m13.6 0.4h0m13.8 0.4h0m13.8 0.4h0m7 0.2h0m17.5 0.5h0m17.7 0.5h0m17.8 0.6h0m18 0.5h0m18.1 0.5h0m18.3 0.6h0" stroke="#040ad6"/>
<path d="M86.7 56.9h0m0 21.1h0m-0.1 15.3h0m13.7-36h0m-0.1 21.1h0m0 15.3h0m13.7-36h0m0 21.1h0m0 15.3h0m13.8-36.1h0m0 21.2h0m-0.1 15.3h0m14-36.1h0m-0.1 21.2h0m0 15.3h0m7-36.3h0m0 21.2h0m0 15.3h0m17.5-36h0m0 21.2h0m0 15.3h0m17.7-36h0m0 21.2h0m0 15.3h0m17.8-36h0m0 21.2h0m0 15.4h0m18-36.1h0m0 21.2h0m0 15.4h0m18.1-36.1h0m0 21.2h0m0 15.4h0m18.3-36.1h0m0 21.3h0m0 15.4h0" stroke="#020561" stroke-width="2.85"/>
<path d="M86.7 56.9h0m0 21.1h0m-0.1 15.3h0m13.7-36h0m-0.1 21.1h0m0 15.3h0m13.7-36h0m0 21.1h0m0 15.3h0m13.8-36.1h0m0 21.2h0m-0.1 15.3h0m14-36.1h0m-0.1 21.2h0m0 15.3h0m7-36.3h0m0 21.2h0m0 15.3h0m17.5-36h0m0 21.2h0m0 15.3h0m17.7-36h0m0 21.2h0m0 15.3h0m17.8-36h0m0 21.2h0m0 15.4h0m18-36.1h0m0 21.2h0m0 15.4h0m18.1-36.1h0m0 21.2h0m0 15.4h0m18.3-36.1h0m0 21.3h0m0 15.4h0" stroke="#050bd7"/>
<path d="M86 94.1h0m13.6 0.4h0m13.6 0.4h0m13.8 0.4h0m13.9 0.4h0m6.9 0.2h0m17.6 0.5h0m17.7 0.6h0m17.8 0.5h0m18 0.5h0m18.1 0.6h0m18.4 0.5h0" stroke="#020561" stroke-width="2.85"/>
<path d="M86 94.1h0m13.6 0.4h0m13.6 0.4h0m13.8 0.4h0m13.9 0.4h0m6.9 0.2h0m17.6 0.5h0m17.7 0.6h0m17.8 0.5h0m18 0.5h0m18.1 0.6h0m18.4 0.5h0" stroke="#050cd8"/>
<path d="M85.4 60.5h0m-0.1 20.1h0m0 14.3h0m13.7-34.1h0m-0.1 20.2h0m0 14.3h0m13.7-34.1h0m0 20.2h0m0 14.3h0m13.8-34.1h0m0 20.2h0m0 14.3h0m13.9-34.1h0m0 20.2h0m-0.1 14.3h0m7.1-34.3h0m-0.1 20.2h0m0 14.3h0m17.6-34h0m0 20.2h0m0 14.3h0m17.7-34h0m0 20.2h0m-0.1 14.4h0m17.9-34.1h0m0 20.2h0m0 14.4h0m18-34.1h0m0 20.3h0m0 14.3h0m18.2-34.1h0m-0.1 20.3h0m0 14.4h0m18.4-34.2h0m0 20.3h0m0 14.4h0" stroke="#020662" stroke-width="2.85"/>
<path d="M85.4 60.5h0m-0.1 20.1h0m0 14.3h0m13.7-34.1h0m-0.1 20.2h0m0 14.3h0m13.7-34.1h0m0 20.2h0m0 14.3h0m13.8-34.1h0m0 20.2h0m0 14.3h0m13.9-34.1h0m0 20.2h0m-0.1 14.3h0m7.1-34.3h0m-0.1 20.2h0m0 14.3h0m17.6-34h0m0 20.2h0m0 14.3h0m17.7-34h0m0 20.2h0m-0.1 14.4h0m17.9-34.1h0m0 20.2h0m0 14.4h0m18-34.1h0m0 20.3h0m0 14.3h0m18.2-34.1h0m-0.1 20.3h0m0 14.4h0m18.4-34.2h0m0 20.3h0m0 14.4h0" stroke="#050dd9"/>
<path d="M84.7 95.7h0m13.6 0.4h0m13.6 0.4h0m13.8 0.4h0m13.9 0.4h0m7 0.2h0m17.5 0.6h0m17.7 0.5h0m17.9 0.5h0m18 0.5h0m18.1 0.6h0m18.4 0.5h0" stroke="#020662" stroke-width="2.85"/>
<path d="M84.7 95.7h0m13.6 0.4h0m13.6 0.4h0m13.8 0.4h0m13.9 0.4h0m7 0.2h0m17.5 0.6h0m17.7 0.5h0m17.9 0.5h0m18 0.5h0m18.1 0.6h0m18.4 0.5h0" stroke="#050dd9"/>
<path d="M84 64.1h0m0 19.2h0m0 13.2h0m13.6-32.1h0m0 19.3h0m0 13.2h0m13.7-32.1h0m0 19.3h0m0 13.2h0m13.8-32.1h0m0 19.3h0m0 13.2h0m13.9-32.1h0m0 19.3h0m0 13.2h0m7-32.3h0m0 19.3h0m0 13.3h0m17.5-32.1h0m0 19.3h0m0 13.3h0m17.7-32.1h0m0 19.3h0m0 13.3h0m17.9-32.1h0m0 19.3h0m0 13.3h0m18-32.1h0m0 19.3h0m0 13.4h0m18.2-32.2h0m0 19.4h0m-0.1 13.3h0m18.4-32.2h0m0 19.4h0m0 13.4h0" stroke="#030662" stroke-width="2.85"/>
<path d="M84 64.1h0m0 19.2h0m0 13.2h0m13.6-32.1h0m0 19.3h0m0 13.2h0m13.7-32.1h0m0 19.3h0m0 13.2h0m13.8-32.1h0m0 19.3h0m0 13.2h0m13.9-32.1h0m0 19.3h0m0 13.2h0m7-32.3h0m0 19.3h0m0 13.3h0m17.5-32.1h0m0 19.3h0m0 13.3h0m17.7-32.1h0m0 19.3h0m0 13.3h0m17.9-32.1h0m0 19.3h0m0 13.3h0m18-32.1h0m0 19.3h0m0 13.4h0m18.2-32.2h0m0 19.4h0m-0.1 13.3h0m18.4-32.2h0m0 19.4h0m0 13.4h0" stroke="#060eda"/>
<path d="M83.3 97.3h0m13.6 0.4h0m13.7 0.4h0m13.8 0.5h0m13.9 0.4h0m7 0.2h0m17.6 0.5h0m17.7 0.5h0m17.9 0.6h0m18 0.5h0m18.1 0.5h0m18.4 0.6h0" stroke="#030662" stroke-width="2.85"/>
<path d="M83.3 97.3h0m13.6 0.4h0m13.7 0.4h0m13.8 0.5h0m13.9 0.4h0m7 0.2h0m17.6 0.5h0m17.7 0.5h0m17.9 0.6h0m18 0.5h0m18.1 0.5h0m18.4 0.6h0" stroke="#060edb"/>
<path d="M82.7 67.7h0m0 18.3h0m0 12.1h0m13.6-30h0m0 18.3h0m0 12.2h0m13.7-30.1h0m0 18.3h0m0 12.2h0m13.8-30.2h0m0 18.4h0m0 12.2h0m13.9-30.2h0m0 18.4h0m0 12.2h0m7-30.4h0m0 18.4h0m0 12.2h0m17.6-30.1h0m0 18.4h0m0 12.2h0m17.7-30.1h0m0 18.4h0m0 12.2h0m17.9-30.1h0m0 18.4h0m0 12.3h0m18-30.2h0m0 18.5h0m0 12.2h0m18.2-30.2h0m0 18.5h0m0 12.3h0m18.3-30.3h0m0 18.5h0m0 12.3h0" stroke="#030763" stroke-width="2.85"/>
<path d="M82.7 67.7h0m0 18.3h0m0 12.1h0m13.6-30h0m0 18.3h0m0 12.2h0m13.7-30.1h0m0 18.3h0m0 12.2h0m13.8-30.2h0m0 18.4h0m0 12.2h0m13.9-30.2h0m0 18.4h0m0 12.2h0m7-30.4h0m0 18.4h0m0 12.2h0m17.6-30.1h0m0 18.4h0m0 12.2h0m17.7-30.1h0m0 18.4h0m0 12.2h0m17.9-30.1h0m0 18.4h0m0 12.3h0m18-30.2h0m0 18.5h0m0 12.2h0m18.2-30.2h0m0 18.5h0m0 12.3h0m18.3-30.3h0m0 18.5h0m0 12.3h0" stroke="#060fdc"/>
<path d="M82 99h0m13.6 0.4h0m13.7 0.4h0m13.9 0.4h0m13.9 0.4h0m7 0.2h0m17.5 0.5h0m17.8 0.6h0m17.8 0.5h0m18.1 0.5h0m18.2 0.6h0m18.3 0.5h0" stroke="#030763" stroke-width="2.85"/>
<path d="M82 99h0m13.6 0.4h0m13.7 0.4h0m13.9 0.4h0m13.9 0.4h0m7 0.2h0m17.5 0.5h0m17.8 0.6h0m17.8 0.5h0m18.1 0.5h0m18.2 0.6h0m18.3 0.5h0" stroke="#0710dd"/>
<path d="M81.4 71.3h0m-0.1 17.4h0m0 11.1h0m13.7-28.1h0m0 17.4h0m0 11.1h0m13.7-28.1h0m0 17.4h0m0 11.1h0m13.9-28.1h0m-0.1 17.4h0m0 11.1h0m14-28.1h0m0 17.5h0m-0.1 11h0m7.1-28.3h0m-0.1 17.5h0m0 11h0m17.6-28h0m0 17.5h0m0 11.1h0m17.8-28.1h0m0 17.5h0m0 11.1h0m17.8-28.1h0m0 17.5h0m0 11.1h0m18.1-28.1h0m0 17.5h0m0 11.1h0m18.2-28.1h0m0 17.6h0m0 11.1h0m18.3-28.2h0m0 17.6h0m0 11.1h0" stroke="#030764" stroke-width="2.85"/>
<path d="M81.4 71.3h0m-0.1 17.4h0m0 11.1h0m13.7-28.1h0m0 17.4h0m0 11.1h0m13.7-28.1h0m0 17.4h0m0 11.1h0m13.9-28.1h0m-0.1 17.4h0m0 11.1h0m14-28.1h0m0 17.5h0m-0.1 11h0m7.1-28.3h0m-0.1 17.5h0m0 11h0m17.6-28h0m0 17.5h0m0 11.1h0m17.8-28.1h0m0 17.5h0m0 11.1h0m17.8-28.1h0m0 17.5h0m0 11.1h0m18.1-28.1h0m0 17.5h0m0 11.1h0m18.2-28.1h0m0 17.6h0m0 11.1h0m18.3-28.2h0m0 17.6h0m0 11.1h0" stroke="#0710de"/>
<path d="M80.6 100.6h0m13.7 0.4h0m13.7 0.4h0m13.9 0.4h0m13.9 0.4h0m7 0.2h0m17.6 0.6h0m17.7 0.5h0m17.9 0.5h0m18.1 0.6h0m18.1 0.5h0m18.4 0.6h0" stroke="#030864" stroke-width="2.85"/>
<path d="M80.6 100.6h0m13.7 0.4h0m13.7 0.4h0m13.9 0.4h0m13.9 0.4h0m7 0.2h0m17.6 0.6h0m17.7 0.5h0m17.9 0.5h0m18.1 0.6h0m18.1 0.5h0m18.4 0.6h0" stroke="#0711de"/>
<path d="M80 75h0m0 16.5h0m0 9.9h0m13.7-26h0m0 16.5h0m-0.1 9.9h0m13.8-26h0m0 16.5h0m0 9.9h0m13.9-26h0m-0.1 16.5h0m0 9.9h0m14-26h0m0 16.5h0m0 9.9h0m7-26.2h0m0 16.6h0m0 9.8h0m17.6-25.9h0m0 16.6h0m0 9.9h0m17.7-26h0m0 16.6h0m0 9.9h0m17.9-26h0m0 16.6h0m0 9.9h0m18.1-26h0m0 16.6h0m0 10h0m18.2-26.1h0m-0.1 16.7h0m0 9.9h0m18.4-26.1h0m0 16.7h0m0 10h0" stroke="#030865" stroke-width="2.85"/>
<path d="M80 75h0m0 16.5h0m0 9.9h0m13.7-26h0m0 16.5h0m-0.1 9.9h0m13.8-26h0m0 16.5h0m0 9.9h0m13.9-26h0m-0.1 16.5h0m0 9.9h0m14-26h0m0 16.5h0m0 9.9h0m7-26.2h0m0 16.6h0m0 9.8h0m17.6-25.9h0m0 16.6h0m0 9.9h0m17.7-26h0m0 16.6h0m0 9.9h0m17.9-26h0m0 16.6h0m0 9.9h0m18.1-26h0m0 16.6h0m0 10h0m18.2-26.1h0m-0.1 16.7h0m0 9.9h0m18.4-26.1h0m0 16.7h0m0 10h0" stroke="#0712e0"/>
<path d="M79.3 102.2h0m13.7 0.4h0m13.7 0.4h0m13.9 0.4h0m13.9 0.4h0m7 0.2h0m17.6 0.6h0m17.8 0.5h0m17.9 0.5h0m18 0.6h0m18.2 0.5h0m18.4 0.6h0" stroke="#030865" stroke-width="2.85"/>
<path d="M79.3 102.2h0m13.7 0.4h0m13.7 0.4h0m13.9 0.4h0m13.9 0.4h0m7 0.2h0m17.6 0.6h0m17.8 0.5h0m17.9 0.5h0m18 0.6h0m18.2 0.5h0m18.4 0.6h0" stroke="#0812e0"/>
<path d="M78.7 78.6h0m-0.1 15.8h0m0 8.6h0m13.7-24h0m0 15.8h0m0 8.6h0m13.8-24h0m0 15.8h0m0 8.6h0m13.9-24h0m0 15.8h0m-0.1 8.6h0m14-24h0m0 15.8h0m0 8.6h0m7-24.2h0m0 15.8h0m0 8.6h0m17.6-23.9h0m0 15.8h0m0 8.7h0m17.8-24h0m0 15.8h0m0 8.7h0m17.9-24h0m0 15.8h0m0 8.7h0m18-24h0m0 15.9h0m0 8.7h0m18.2-24h0m0 15.8h0m0 8.7h0m18.4-24h0m0 15.9h0m0 8.7h0" stroke="#040865" stroke-width="2.85"/>
<path d="M78.7 78.6h0m-0.1 15.8h0m0 8.6h0m13.7-24h0m0 15.8h0m0 8.6h0m13.8-24h0m0 15.8h0m0 8.6h0m13.9-24h0m0 15.8h0m-0.1 8.6h0m14-24h0m0 15.8h0m0 8.6h0m7-24.2h0m0 15.8h0m0 8.6h0m17.6-23.9h0m0 15.8h0m0 8.7h0m17.8-24h0m0 15.8h0m0 8.7h0m17.9-24h0m0 15.8h0m0 8.7h0m18-24h0m0 15.9h0m0 8.7h0m18.2-24h0m0 15.8h0m0 8.7h0m18.4-24h0m0 15.9h0m0 8.7h0" stroke="#0813e1"/>
<path d="M78 103.8h0m13.7 0.4h0m13.7 0.4h0m13.9 0.4h0m14 0.4h0m7 0.2h0m17.6 0.6h0m17.8 0.5h0m17.9 0.5h0m18 0.6h0m18.2 0.5h0m18.4 0.6h0" stroke="#040966" stroke-width="2.85"/>
<path d="M78 103.8h0m13.7 0.4h0m13.7 0.4h0m13.9 0.4h0m14 0.4h0m7 0.2h0m17.6 0.6h0m17.8 0.5h0m17.9 0.5h0m18 0.6h0m18.2 0.5h0m18.4 0.6h0" stroke="#0813e2"/>
<path d="M77.3 82.2h0m0 15h0m0 7.4h0m13.7-22h0m0 15h0m0 7.4h0m13.8-22h0m0 15h0m0 7.4h0m13.9-22h0m0 15h0m0 7.4h0m13.9-22h0m0 15h0m0 7.4h0m7-22.2h0m0 15h0m0 7.4h0m17.7-21.9h0m0 15.1h0m0 7.3h0m17.8-21.9h0m-0.1 15.1h0m0 7.4h0m18-22h0m0 15.1h0m0 7.4h0m18-22h0m0 15.2h0m0 7.3h0m18.2-22h0m0 15.2h0m0 7.4h0m18.4-22h0m0 15.1h0m0 7.4h0" stroke="#040966" stroke-width="2.85"/>
<path d="M77.3 82.2h0m0 15h0m0 7.4h0m13.7-22h0m0 15h0m0 7.4h0m13.8-22h0m0 15h0m0 7.4h0m13.9-22h0m0 15h0m0 7.4h0m13.9-22h0m0 15h0m0 7.4h0m7-22.2h0m0 15h0m0 7.4h0m17.7-21.9h0m0 15.1h0m0 7.3h0m17.8-21.9h0m-0.1 15.1h0m0 7.4h0m18-22h0m0 15.1h0m0 7.4h0m18-22h0m0 15.2h0m0 7.3h0m18.2-22h0m0 15.2h0m0 7.4h0m18.4-22h0m0 15.1h0m0 7.4h0" stroke="#0814e3"/>
<path d="M76.6 105.3h0m13.7 0.4h0m13.8 0.4h0m13.9 0.5h0m14 0.4h0m7 0.2h0m17.6 0.5h0m17.8 0.5h0m17.9 0.6h0m18.1 0.5h0m18.2 0.6h0m18.4 0.5h0" stroke="#040967" stroke-width="2.85"/>
<path d="M76.6 105.3h0m13.7 0.4h0m13.8 0.4h0m13.9 0.5h0m14 0.4h0m7 0.2h0m17.6 0.5h0m17.8 0.5h0m17.9 0.6h0m18.1 0.5h0m18.2 0.6h0m18.4 0.5h0" stroke="#0915e4"/>
<path d="M76 85.7h0m0 14.4h0m-0.1 6h0m13.8-20h0m0 14.4h0m0 6h0m13.8-20h0m0 14.4h0m0 6h0m13.9-20h0m0 14.4h0m0 6h0m13.9-20h0m0 14.4h0m0 6h0m7.1-20.2h0m0 14.4h0m0 6h0m17.6-19.9h0m0 14.5h0m0 6h0m17.8-20h0m0 14.5h0m0 6h0m17.9-20h0m0 14.5h0m0 6h0m18.1-20h0m0 14.5h0m0 6.1h0m18.2-20.1h0m0 14.6h0m0 6h0m18.4-20h0m0 14.5h0m0 6.1h0" stroke="#040a67" stroke-width="2.85"/>
<path d="M76 85.7h0m0 14.4h0m-0.1 6h0m13.8-20h0m0 14.4h0m0 6h0m13.8-20h0m0 14.4h0m0 6h0m13.9-20h0m0 14.4h0m0 6h0m13.9-20h0m0 14.4h0m0 6h0m7.1-20.2h0m0 14.4h0m0 6h0m17.6-19.9h0m0 14.5h0m0 6h0m17.8-20h0m0 14.5h0m0 6h0m17.9-20h0m0 14.5h0m0 6h0m18.1-20h0m0 14.5h0m0 6.1h0m18.2-20.1h0m0 14.6h0m0 6h0m18.4-20h0m0 14.5h0m0 6.1h0" stroke="#0916e5"/>
<path d="M75.3 106.7h0m13.7 0.5h0m13.8 0.4h0m13.9 0.4h0m14 0.4h0m7 0.2h0m17.7 0.5h0m17.8 0.6h0m17.9 0.5h0m18.1 0.6h0m18.2 0.5h0m18.4 0.6h0" stroke="#040a67" stroke-width="2.85"/>
<path d="M75.3 106.7h0m13.7 0.5h0m13.8 0.4h0m13.9 0.4h0m14 0.4h0m7 0.2h0m17.7 0.5h0m17.8 0.6h0m17.9 0.5h0m18.1 0.6h0m18.2 0.5h0m18.4 0.6h0" stroke="#0916e5"/>
<path d="M74.6 89h0m0 14h0m0 4.4h0m13.7-18h0m0 14h0m0 4.4h0m13.9-18h0m0 14h0m0 4.5h0m13.9-18.1h0m0 14h0m0 4.5h0m14-18.1h0m0 14h0m-0.1 4.5h0m7.1-18.3h0m0 14h0m0 4.5h0m17.7-18h0m-0.1 14.1h0m0 4.4h0m17.9-17.9h0m0 14h0m-0.1 4.5h0m18-18h0m0 14h0m0 4.5h0m18.1-18h0m0 14.1h0m0 4.4h0m18.2-18h0m0 14.1h0m0 4.5h0m18.4-18.1h0m0 14.2h0m0 4.4h0" stroke="#040a68" stroke-width="2.85"/>
<path d="M74.6 89h0m0 14h0m0 4.4h0m13.7-18h0m0 14h0m0 4.4h0m13.9-18h0m0 14h0m0 4.5h0m13.9-18.1h0m0 14h0m0 4.5h0m14-18.1h0m0 14h0m-0.1 4.5h0m7.1-18.3h0m0 14h0m0 4.5h0m17.7-18h0m-0.1 14.1h0m0 4.4h0m17.9-17.9h0m0 14h0m-0.1 4.5h0m18-18h0m0 14h0m0 4.5h0m18.1-18h0m0 14.1h0m0 4.4h0m18.2-18h0m0 14.1h0m0 4.5h0m18.4-18.1h0m0 14.2h0m0 4.4h0" stroke="#0917e6"/>
<path d="M73.9 108.1h0m13.8 0.5h0m13.8 0.4h0m13.9 0.4h0m14 0.4h0m7 0.2h0m17.7 0.6h0m17.8 0.5h0m18 0.5h0m18.1 0.6h0m18.2 0.5h0m18.4 0.6h0" stroke="#040b68" stroke-width="2.85"/>
<path d="M73.9 108.1h0m13.8 0.5h0m13.8 0.4h0m13.9 0.4h0m14 0.4h0m7 0.2h0m17.7 0.6h0m17.8 0.5h0m18 0.5h0m18.1 0.6h0m18.2 0.5h0m18.4 0.6h0" stroke="#0a18e7"/>
<path d="M73.3 92.2h0m-0.1 13.7h0m0 3.1h0m13.8-16.4h0m0 13.7h0m0 3.1h0m13.8-16.4h0m0 13.7h0m0 3.1h0m14-16.4h0m0 13.7h0m0 3.1h0m14-16.4h0m0 13.8h0m0 3h0m7-16.6h0m0 13.8h0m0 3h0m17.7-16.3h0m0 13.8h0m0 3.1h0m17.8-16.4h0m0 13.8h0m0 3.1h0m18-16.4h0m0 13.9h0m0 3h0m18.1-16.3h0m0 13.8h0m0 3.1h0m18.2-16.4h0m0 13.8h0m0 3.1h0m18.4-16.4h0m0 13.9h0m0 3.1h0" stroke="#050e69" stroke-width="2.85"/>
<path d="M73.3 92.2h0m-0.1 13.7h0m0 3.1h0m13.8-16.4h0m0 13.7h0m0 3.1h0m13.8-16.4h0m0 13.7h0m0 3.1h0m14-16.4h0m0 13.7h0m0 3.1h0m14-16.4h0m0 13.8h0m0 3h0m7-16.6h0m0 13.8h0m0 3h0m17.7-16.3h0m0 13.8h0m0 3.1h0m17.8-16.4h0m0 13.8h0m0 3.1h0m18-16.4h0m0 13.9h0m0 3h0m18.1-16.3h0m0 13.8h0m0 3.1h0m18.2-16.4h0m0 13.8h0m0 3.1h0m18.4-16.4h0m0 13.9h0m0 3.1h0" stroke="#0a1fe9"/>
<path d="M71.9 95.2h0m0 13.6h0m0 2.3h0m13.8-15.5h0m0 13.6h0m0 2.3h0m13.8-15.5h0m0 13.7h0m0 2.2h0m14-15.5h0m0 13.7h0m0 2.2h0m14-15.5h0m0 13.7h0m0 2.2h0m7-15.6h0m0 13.6h0m0 2.2h0m17.7-15.3h0m0 13.6h0m0 2.3h0m17.9-15.4h0m0 13.7h0m-0.1 2.2h0m18-15.4h0m0 13.7h0m0 2.3h0m18.1-15.5h0m0 13.8h0m0 2.2h0m18.3-15.4h0m0 13.7h0m0 2.3h0m18.4-15.5h0m0 13.8h0m0 2.2h0" stroke="#06266b" stroke-width="2.85"/>
<path d="M71.9 95.2h0m0 13.6h0m0 2.3h0m13.8-15.5h0m0 13.6h0m0 2.3h0m13.8-15.5h0m0 13.7h0m0 2.2h0m14-15.5h0m0 13.7h0m0 2.2h0m14-15.5h0m0 13.7h0m0 2.2h0m7-15.6h0m0 13.6h0m0 2.2h0m17.7-15.3h0m0 13.6h0m0 2.3h0m17.9-15.4h0m0 13.7h0m-0.1 2.2h0m18-15.4h0m0 13.7h0m0 2.3h0m18.1-15.5h0m0 13.8h0m0 2.2h0m18.3-15.4h0m0 13.7h0m0 2.3h0m18.4-15.5h0m0 13.8h0m0 2.2h0" stroke="#0e54ee"/>
<path d="M70.5 98.3h0m0 13.5h0m0 1.8h0m13.8-14.9h0m0 13.5h0m0 1.8h0m13.9-14.9h0m0 13.5h0m0 1.8h0m14-14.9h0m-0.1 13.5h0m0 1.8h0m14.1-14.9h0m0 13.6h0m0 1.8h0m7-15.2h0m0 13.6h0m0 1.8h0m17.8-14.9h0m-0.1 13.6h0m0 1.8h0m17.9-14.9h0m0 13.7h0m0 1.8h0m18-14.9h0m0 13.6h0m0 1.8h0m18.1-14.9h0m0 13.6h0m0 1.8h0m18.2-14.9h0m0 13.7h0m0 1.8h0m18.4-14.9h0m0 13.6h0m0 1.9h0" stroke="#08406c" stroke-width="2.85"/>
<path d="M70.5 98.3h0m0 13.5h0m0 1.8h0m13.8-14.9h0m0 13.5h0m0 1.8h0m13.9-14.9h0m0 13.5h0m0 1.8h0m14-14.9h0m-0.1 13.5h0m0 1.8h0m14.1-14.9h0m0 13.6h0m0 1.8h0m7-15.2h0m0 13.6h0m0 1.8h0m17.8-14.9h0m-0.1 13.6h0m0 1.8h0m17.9-14.9h0m0 13.7h0m0 1.8h0m18-14.9h0m0 13.6h0m0 1.8h0m18.1-14.9h0m0 13.6h0m0 1.8h0m18.2-14.9h0m0 13.7h0m0 1.8h0m18.4-14.9h0m0 13.6h0m0 1.9h0" stroke="#138ff0"/>
<path d="M69.2 101.3h0m0 13.5h0m0 1.6h0m13.8-14.7h0m0 13.5h0m0 1.6h0m13.9-14.7h0m0 13.5h0m0 1.6h0m13.9-14.7h0m0 13.6h0m0 1.6h0m14.1-14.8h0m0 13.6h0m0 1.6h0m7-15h0m0 13.6h0m0 1.6h0m17.8-14.6h0m0 13.5h0m0 1.6h0m17.8-14.6h0m0 13.6h0m0 1.6h0m18-14.7h0m0 13.6h0m0 1.6h0m18.2-14.7h0m0 13.7h0m0 1.6h0m18.2-14.7h0m0 13.6h0m0 1.6h0m18.4-14.7h0m0 13.7h0m0 1.6h0" stroke="#0a4c67" stroke-width="2.85"/>
<path d="M69.2 101.3h0m0 13.5h0m0 1.6h0m13.8-14.7h0m0 13.5h0m0 1.6h0m13.9-14.7h0m0 13.5h0m0 1.6h0m13.9-14.7h0m0 13.6h0m0 1.6h0m14.1-14.8h0m0 13.6h0m0 1.6h0m7-15h0m0 13.6h0m0 1.6h0m17.8-14.6h0m0 13.5h0m0 1.6h0m17.8-14.6h0m0 13.6h0m0 1.6h0m18-14.7h0m0 13.6h0m0 1.6h0m18.2-14.7h0m0 13.7h0m0 1.6h0m18.2-14.7h0m0 13.6h0m0 1.6h0m18.4-14.7h0m0 13.7h0m0 1.6h0" stroke="#16a8e4"/>
<path d="M67.8 104.3h0m0 13.5h0m0 1.6h0m13.8-14.7h0m0 13.6h0m0 1.5h0m13.9-14.7h0m0 13.6h0m0 1.5h0m14-14.7h0m0 13.6h0m0 1.6h0m14.1-14.7h0m0 13.5h0m0 1.6h0m7.1-14.9h0m0 13.5h0m0 1.6h0m17.7-14.6h0m0 13.6h0m0 1.5h0m17.9-14.6h0m0 13.6h0m0 1.6h0m18-14.7h0m0 13.7h0m0 1.5h0m18.1-14.6h0m0 13.6h0m0 1.6h0m18.3-14.7h0m0 13.7h0m0 1.6h0m18.4-14.7h0m0 13.6h0m0 1.6h0" stroke="#0c5657" stroke-width="2.85"/>
<path d="M67.8 104.3h0m0 13.5h0m0 1.6h0m13.8-14.7h0m0 13.6h0m0 1.5h0m13.9-14.7h0m0 13.6h0m0 1.5h0m14-14.7h0m0 13.6h0m0 1.6h0m14.1-14.7h0m0 13.5h0m0 1.6h0m7.1-14.9h0m0 13.5h0m0 1.6h0m17.7-14.6h0m0 13.6h0m0 1.5h0m17.9-14.6h0m0 13.6h0m0 1.6h0m18-14.7h0m0 13.7h0m0 1.5h0m18.1-14.6h0m0 13.6h0m0 1.6h0m18.3-14.7h0m0 13.7h0m0 1.6h0m18.4-14.7h0m0 13.6h0m0 1.6h0" stroke="#1ac0c2"/>
<path d="M66.4 107.4h0m0 13.4h0m0 1.6h0m13.9-14.6h0m0 13.5h0m0 1.5h0m13.9-14.6h0m0 13.5h0m0 1.6h0m14-14.7h0m0 13.5h0m0 1.6h0m14.1-14.7h0m0 13.5h0m0 1.6h0m7.1-14.9h0m0 13.6h0m0 1.6h0m17.7-14.7h0m0 13.6h0m0 1.6h0m17.9-14.6h0m0 13.6h0m0 1.5h0m18-14.6h0m0 13.6h0m0 1.6h0m18.2-14.6h0m0 13.6h0m0 1.6h0m18.3-14.7h0m0 13.6h0m0 1.6h0m18.4-14.7h0m0 13.7h0m0 1.6h0" stroke="#0e5a49" stroke-width="2.85"/>
<path d="M66.4 107.4h0m0 13.4h0m0 1.6h0m13.9-14.6h0m0 13.5h0m0 1.5h0m13.9-14.6h0m0 13.5h0m0 1.6h0m14-14.7h0m0 13.5h0m0 1.6h0m14.1-14.7h0m0 13.5h0m0 1.6h0m7.1-14.9h0m0 13.6h0m0 1.6h0m17.7-14.7h0m0 13.6h0m0 1.6h0m17.9-14.6h0m0 13.6h0m0 1.5h0m18-14.6h0m0 13.6h0m0 1.6h0m18.2-14.6h0m0 13.6h0m0 1.6h0m18.3-14.7h0m0 13.6h0m0 1.6h0m18.4-14.7h0m0 13.7h0m0 1.6h0" stroke="#20c8a3"/>
<path d="M65.1 110.4h0m0 13.5h0m0 1.5h0m13.8-14.6h0m0 13.5h0m0 1.5h0m14-14.6h0m0 13.5h0m0 1.6h0m14-14.7h0m0 13.6h0m0 1.5h0m14.1-14.6h0m0 13.5h0m0 1.5h0m7.1-14.8h0m0 13.5h0m0 1.5h0m17.7-14.5h0m0 13.5h0m0 1.6h0m18-14.6h0m-0.1 13.6h0m0 1.5h0m18.1-14.5h0m0 13.6h0m0 1.5h0m18.1-14.6h0m0 13.6h0m0 1.6h0m18.3-14.6h0m0 13.6h0m0 1.5h0m18.4-14.6h0m0 13.6h0m0 1.6h0" stroke="#145a30" stroke-width="2.85"/>
<path d="M65.1 110.4h0m0 13.5h0m0 1.5h0m13.8-14.6h0m0 13.5h0m0 1.5h0m14-14.6h0m0 13.5h0m0 1.6h0m14-14.7h0m0 13.6h0m0 1.5h0m14.1-14.6h0m0 13.5h0m0 1.5h0m7.1-14.8h0m0 13.5h0m0 1.5h0m17.7-14.5h0m0 13.5h0m0 1.6h0m18-14.6h0m-0.1 13.6h0m0 1.5h0m18.1-14.5h0m0 13.6h0m0 1.5h0m18.1-14.6h0m0 13.6h0m0 1.6h0m18.3-14.6h0m0 13.6h0m0 1.5h0m18.4-14.6h0m0 13.6h0m0 1.6h0" stroke="#2cc86a"/>
<path d="M63.7 113.4h0m0 13.4h0m0 1.3h0m13.9-14.3h0m0 13.4h0m0 1.6h0m13.9-14.6h0m0 13.5h0m0 1.5h0m14.1-14.5h0m0 13.6h0m0 1.4h0m14.1-14.6h0m0 13.6h0m0 1.4h0m7.1-14.8h0m0 13.6h0m0 1.4h0m17.8-14.5h0m0 13.7h0m0 1.4h0m17.9-14.5h0m0 13.6h0m0 1.4h0m18-14.5h0m0 13.7h0m0 1.4h0m18.2-14.5h0m0 13.6h0m0 1.5h0m18.3-14.6h0m0 13.7h0m0 1.4h0m18.4-14.5h0m0 13.7h0m0 1.4h0" stroke="#165a29" stroke-width="2.85"/>
<path d="M63.7 113.4h0m0 13.4h0m0 1.3h0m13.9-14.3h0m0 13.4h0m0 1.6h0m13.9-14.6h0m0 13.5h0m0 1.5h0m14.1-14.5h0m0 13.6h0m0 1.4h0m14.1-14.6h0m0 13.6h0m0 1.4h0m7.1-14.8h0m0 13.6h0m0 1.4h0m17.8-14.5h0m0 13.7h0m0 1.4h0m17.9-14.5h0m0 13.6h0m0 1.4h0m18-14.5h0m0 13.7h0m0 1.4h0m18.2-14.5h0m0 13.6h0m0 1.5h0m18.3-14.6h0m0 13.7h0m0 1.4h0m18.4-14.5h0m0 13.7h0m0 1.4h0" stroke="#31c85a"/>
<path d="M62.3 116.5h0m0 13.1h0m0 1.1h0m13.9-13.8h0m0 13.2h0m0 1.6h0m14-14.4h0m0 13.4h0m0 1.5h0m14-14.4h0m0 13.6h0m0 1.3h0m14.2-14.5h0m0 13.7h0m0 1.2h0m7.1-14.7h0m0 13.7h0m0 1.2h0m17.8-14.4h0m0 13.7h0m0 1.3h0m17.9-14.4h0m0 13.7h0m0 1.2h0m18.1-14.4h0m0 13.8h0m0 1.2h0m18.1-14.4h0m0 13.7h0m0 1.3h0m18.4-14.5h0m0 13.8h0m0 1.2h0m18.4-14.4h0m0 13.8h0m0 1.2h0" stroke="#195a24" stroke-width="2.85"/>
<path d="M62.3 116.5h0m0 13.1h0m0 1.1h0m13.9-13.8h0m0 13.2h0m0 1.6h0m14-14.4h0m0 13.4h0m0 1.5h0m14-14.4h0m0 13.6h0m0 1.3h0m14.2-14.5h0m0 13.7h0m0 1.2h0m7.1-14.7h0m0 13.7h0m0 1.2h0m17.8-14.4h0m0 13.7h0m0 1.3h0m17.9-14.4h0m0 13.7h0m0 1.2h0m18.1-14.4h0m0 13.8h0m0 1.2h0m18.1-14.4h0m0 13.7h0m0 1.3h0m18.4-14.5h0m0 13.8h0m0 1.2h0m18.4-14.4h0m0 13.8h0m0 1.2h0" stroke="#38c84f"/>
<path d="M60.9 119.5h0m0 12.9h0m0 0.8h0m13.9-13.3h0m0 13.1h0m0 1.7h0m14-14.4h0m0 13.5h0m0 1.4h0m14.1-14.4h0m0 13.8h0m0 1.1h0m14.2-14.4h0m0 13.8h0m0 1h0m7.1-14.6h0m0 13.8h0m0 1h0m17.8-14.3h0m0 13.8h0m0 1.1h0m17.9-14.3h0m0 13.8h0m0 1.1h0m18.1-14.4h0m0 13.9h0m0 1h0m18.2-14.3h0m0 13.8h0m0 1.1h0m18.3-14.4h0m0 13.9h0m0 1.1h0m18.4-14.4h0m0 13.9h0m0 1.1h0" stroke="#1b5a20" stroke-width="2.85"/>
<path d="M60.9 119.5h0m0 12.9h0m0 0.8h0m13.9-13.3h0m0 13.1h0m0 1.7h0m14-14.4h0m0 13.5h0m0 1.4h0m14.1-14.4h0m0 13.8h0m0 1.1h0m14.2-14.4h0m0 13.8h0m0 1h0m7.1-14.6h0m0 13.8h0m0 1h0m17.8-14.3h0m0 13.8h0m0 1.1h0m17.9-14.3h0m0 13.8h0m0 1.1h0m18.1-14.4h0m0 13.9h0m0 1h0m18.2-14.3h0m0 13.8h0m0 1.1h0m18.3-14.4h0m0 13.9h0m0 1.1h0m18.4-14.4h0m0 13.9h0m0 1.1h0" stroke="#3cc848"/>
<path d="M59.5 122.3h0m0 12.9h0m0 0.6h0m14-13.1h0m0 13.2h0m0 1.8h0m14-14.6h0m0 13.7h0m0 1.5h0m14.1-14.7h0m0 14.2h0m0 0.9h0m14.1-14.7h0m0 14.3h0m0 0.8h0m7.1-14.9h0m0 14.3h0m0 0.9h0m17.9-14.6h0m0 14.3h0m0 0.8h0m18-14.6h0m0 14.3h0m0 0.9h0m18-14.6h0m0 14.3h0m0 0.9h0m18.2-14.7h0m0 14.4h0m0 0.9h0m18.4-14.7h0m0 14.3h0m0 0.9h0m18.4-14.6h0m0 14.3h0m0 0.9h0" stroke="#2e5f1b" stroke-width="2.85"/>
<path d="M59.5 122.3h0m0 12.9h0m0 0.6h0m14-13.1h0m0 13.2h0m0 1.8h0m14-14.6h0m0 13.7h0m0 1.5h0m14.1-14.7h0m0 14.2h0m0 0.9h0m14.1-14.7h0m0 14.3h0m0 0.8h0m7.1-14.9h0m0 14.3h0m0 0.9h0m17.9-14.6h0m0 14.3h0m0 0.8h0m18-14.6h0m0 14.3h0m0 0.9h0m18-14.6h0m0 14.3h0m0 0.9h0m18.2-14.7h0m0 14.4h0m0 0.9h0m18.4-14.7h0m0 14.3h0m0 0.9h0m18.4-14.6h0m0 14.3h0m0 0.9h0" stroke="#67d23d"/>
<path d="M58.2 124.8h0m0 13.2h0m0 0.5h0m13.9-13.3h0m0 13.7h0m0 1.8h0m14-15.1h0m0 14.3h0m0 1.4h0m14.1-15.4h0m0 15.1h0m0 0.8h0m14.2-15.4h0m0 15h0m0 0.8h0m7.1-15.6h0m0 15.1h0m0 0.7h0m17.9-15.3h0m0 15.1h0m0 0.8h0m18-15.3h0m0 15.1h0m0 0.8h0m18.1-15.4h0m0 15.2h0m0 0.7h0m18.2-15.3h0m0 15.1h0m0 0.8h0m18.3-15.4h0m0 15.2h0m0 0.8h0m18.5-15.4h0m0 15.2h0m0 0.8h0" stroke="#3b6218" stroke-width="2.85"/>
<path d="M58.2 124.8h0m0 13.2h0m0 0.5h0m13.9-13.3h0m0 13.7h0m0 1.8h0m14-15.1h0m0 14.3h0m0 1.4h0m14.1-15.4h0m0 15.1h0m0 0.8h0m14.2-15.4h0m0 15h0m0 0.8h0m7.1-15.6h0m0 15.1h0m0 0.7h0m17.9-15.3h0m0 15.1h0m0 0.8h0m18-15.3h0m0 15.1h0m0 0.8h0m18.1-15.4h0m0 15.2h0m0 0.7h0m18.2-15.3h0m0 15.1h0m0 0.8h0m18.3-15.4h0m0 15.2h0m0 0.8h0m18.5-15.4h0m0 15.2h0m0 0.8h0" stroke="#84d935"/>
<path d="M56.8 127h0m0 14.1h0m0 0.4h0m13.9-14h0m0 14.3h0m0 2h0m14.1-15.8h0m0 14.9h0m0 1.5h0m14.1-16.4h0m0 16.1h0m0 0.7h0m14.2-16.3h0m0 16h0m0 0.8h0m7.1-16.6h0m0 16.1h0m0 0.7h0m17.9-16.3h0m0 16.1h0m0 0.8h0m18-16.3h0m0 16.1h0m0 0.8h0m18.1-16.4h0m0 16.2h0m0 0.7h0m18.2-16.3h0m0 16.2h0m0 0.7h0m18.4-16.3h0m0 16.1h0m0 0.8h0m18.4-16.4h0m0 16.2h0m0 0.8h0" stroke="#4e6614" stroke-width="2.85"/>
<path d="M56.8 127h0m0 14.1h0m0 0.4h0m13.9-14h0m0 14.3h0m0 2h0m14.1-15.8h0m0 14.9h0m0 1.5h0m14.1-16.4h0m0 16.1h0m0 0.7h0m14.2-16.3h0m0 16h0m0 0.8h0m7.1-16.6h0m0 16.1h0m0 0.7h0m17.9-16.3h0m0 16.1h0m0 0.8h0m18-16.3h0m0 16.1h0m0 0.8h0m18.1-16.4h0m0 16.2h0m0 0.7h0m18.2-16.3h0m0 16.2h0m0 0.7h0m18.4-16.3h0m0 16.1h0m0 0.8h0m18.4-16.4h0m0 16.2h0m0 0.8h0" stroke="#ace22c"/>
<path d="M55.4 129.2h0m0 15.1h0m0 0.7h0m14-15.4h0m0 15.2h0m0 2.1h0m14-16.8h0m0 15.8h0m0 1.6h0m14.2-17.6h0m0 17.2h0m0 0.8h0m14.2-17.5h0m0 17.1h0m0 0.9h0m7.1-17.8h0m0 17.1h0m0 0.9h0m17.9-17.5h0m0 17.2h0m0 0.9h0m18-17.5h0m0 17.2h0m0 0.9h0m18.1-17.5h0m0 17.2h0m0 0.9h0m18.3-17.6h0m0 17.3h0m0 0.8h0m18.3-17.5h0m0 17.3h0m0 0.8h0m18.5-17.5h0m0 17.2h0m0 0.9h0" stroke="#556513" stroke-width="2.85"/>
<path d="M55.4 129.2h0m0 15.1h0m0 0.7h0m14-15.4h0m0 15.2h0m0 2.1h0m14-16.8h0m0 15.8h0m0 1.6h0m14.2-17.6h0m0 17.2h0m0 0.8h0m14.2-17.5h0m0 17.1h0m0 0.9h0m7.1-17.8h0m0 17.1h0m0 0.9h0m17.9-17.5h0m0 17.2h0m0 0.9h0m18-17.5h0m0 17.2h0m0 0.9h0m18.1-17.5h0m0 17.2h0m0 0.9h0m18.3-17.6h0m0 17.3h0m0 0.8h0m18.3-17.5h0m0 17.3h0m0 0.8h0m18.5-17.5h0m0 17.2h0m0 0.9h0" stroke="#bde12a"/>
<path d="M54 131.3h0m0 16.4h0m0 1.3h0m14-17.5h0m0 16.4h0m0 2.2h0m14.1-18.2h0m0 17h0m0 1.7h0m14.1-18.9h0m0 18.2h0m0 1.1h0m14.3-18.9h0m0 18.3h0m0 1.1h0m7.1-19.2h0m0 18.3h0m0 1.1h0m17.9-18.8h0m0 18.3h0m0 1.1h0m18-18.8h0m0 18.2h0m0 1.2h0m18.2-18.9h0m0 18.3h0m0 1.2h0m18.2-18.9h0m0 18.3h0m0 1.2h0m18.4-18.9h0m0 18.3h0m0 1.2h0m18.4-19h0m0 18.4h0m0 1.2h0" stroke="#616511" stroke-width="2.85"/>
<path d="M54 131.3h0m0 16.4h0m0 1.3h0m14-17.5h0m0 16.4h0m0 2.2h0m14.1-18.2h0m0 17h0m0 1.7h0m14.1-18.9h0m0 18.2h0m0 1.1h0m14.3-18.9h0m0 18.3h0m0 1.1h0m7.1-19.2h0m0 18.3h0m0 1.1h0m17.9-18.8h0m0 18.3h0m0 1.1h0m18-18.8h0m0 18.2h0m0 1.2h0m18.2-18.9h0m0 18.3h0m0 1.2h0m18.2-18.9h0m0 18.3h0m0 1.2h0m18.4-18.9h0m0 18.3h0m0 1.2h0m18.4-19h0m0 18.4h0m0 1.2h0" stroke="#d7e126"/>
<path d="M52.6 133.5h0m0 18.1h0m0 2.8h0m14-21.1h0m0 17.8h0m0 2.1h0m14.1-19.7h0m0 18.3h0m0 1.9h0m14.2-20.5h0m0 19.3h0m0 1.6h0m14.2-20.4h0m0 19.3h0m0 1.6h0m7.2-20.7h0m0 19.3h0m0 1.6h0m17.9-20.4h0m0 19.4h0m0 1.6h0m18-20.4h0m0 19.4h0m0 1.6h0m18.2-20.4h0m0 19.4h0m0 1.6h0m18.2-20.5h0m0 19.4h0m0 1.7h0m18.4-20.5h0m0 19.4h0m0 1.7h0m18.5-20.5h0m0 19.4h0m0 1.7h0" stroke="#686510" stroke-width="2.85"/>
<path d="M52.6 133.5h0m0 18.1h0m0 2.8h0m14-21.1h0m0 17.8h0m0 2.1h0m14.1-19.7h0m0 18.3h0m0 1.9h0m14.2-20.5h0m0 19.3h0m0 1.6h0m14.2-20.4h0m0 19.3h0m0 1.6h0m7.2-20.7h0m0 19.3h0m0 1.6h0m17.9-20.4h0m0 19.4h0m0 1.6h0m18-20.4h0m0 19.4h0m0 1.6h0m18.2-20.4h0m0 19.4h0m0 1.6h0m18.2-20.5h0m0 19.4h0m0 1.7h0m18.4-20.5h0m0 19.4h0m0 1.7h0m18.5-20.5h0m0 19.4h0m0 1.7h0" stroke="#e8e024"/>
<path d="M51.2 135.8h0m0 21h0m0 5.4h0m14-27.1h0m0 19.4h0m0 1.7h0m14.2-21.2h0m0 19.7h0m0 1.9h0m14.1-21.8h0m0 20h0m0 2.4h0m14.3-22h0m0 20.1h0m0 2.3h0m7.1-22.1h0m0 20h0m0 2.4h0m18-21.9h0m0 20.1h0m0 2.4h0m18-21.9h0m0 20.1h0m0 2.4h0m18.2-22h0m0 20.2h0m0 2.4h0m18.3-22h0m0 20.2h0m0 2.4h0m18.3-22h0m0 20.2h0m0 2.4h0m18.5-22h0m0 20.2h0m0 2.4h0" stroke="#6d5a0e" stroke-width="2.85"/>
<path d="M51.2 135.8h0m0 21h0m0 5.4h0m14-27.1h0m0 19.4h0m0 1.7h0m14.2-21.2h0m0 19.7h0m0 1.9h0m14.1-21.8h0m0 20h0m0 2.4h0m14.3-22h0m0 20.1h0m0 2.3h0m7.1-22.1h0m0 20h0m0 2.4h0m18-21.9h0m0 20.1h0m0 2.4h0m18-21.9h0m0 20.1h0m0 2.4h0m18.2-22h0m0 20.2h0m0 2.4h0m18.3-22h0m0 20.2h0m0 2.4h0m18.3-22h0m0 20.2h0m0 2.4h0m18.5-22h0m0 20.2h0m0 2.4h0" stroke="#f2c820"/>
<path d="M49.8 138h0m0 24.7h0m0 7.4h0m14-33.2h0m0.1 21.5h0m0 1h0m14.1-22.9h0m0 21.3h0m0 1.8h0m14.2-23.2h0m0 21.1h0m0 3.2h0m14.3-23.8h0m0 21.1h0m0 3.2h0m7.1-24.1h0m0 21.1h0m0 3.2h0m18-23.8h0m0 21.2h0m0 3.2h0m18-23.8h0m0 21.2h0m0 3.2h0m18.2-23.8h0m0 21.2h0m0 3.2h0m18.3-23.9h0m0 21.3h0m0 3.2h0m18.4-23.9h0m0 21.3h0m0 3.2h0m18.5-23.9h0m0 21.3h0m0 3.2h0" stroke="#6e4b0c" stroke-width="2.85"/>
<path d="M49.8 138h0m0 24.7h0m0 7.4h0m14-33.2h0m0.1 21.5h0m0 1h0m14.1-22.9h0m0 21.3h0m0 1.8h0m14.2-23.2h0m0 21.1h0m0 3.2h0m14.3-23.8h0m0 21.1h0m0 3.2h0m7.1-24.1h0m0 21.1h0m0 3.2h0m18-23.8h0m0 21.2h0m0 3.2h0m18-23.8h0m0 21.2h0m0 3.2h0m18.2-23.8h0m0 21.2h0m0 3.2h0m18.3-23.9h0m0 21.3h0m0 3.2h0m18.4-23.9h0m0 21.3h0m0 3.2h0m18.5-23.9h0m0 21.3h0m0 3.2h0" stroke="#f4a71b"/>
<path d="M48.4 139.8h0m0 28.5h0m0 10.5h0m14.1-40.2h0m0 24.1h0m0 0.5h0m14.1-25.2h0m0 23h0m0 1.9h0m14.2-24.8h0m0 22.5h0m0 4.4h0m14.3-26.5h0m0 22.5h0m0 4.4h0m7.2-26.7h0m0 22.6h0m0 4.3h0m18-26.3h0m0 22.5h0m0 4.3h0m18-26.2h0m0 22.5h0m0 4.3h0m18.2-26.3h0m0 22.6h0m0 4.3h0m18.3-26.3h0m0 22.6h0m0 4.3h0m18.4-26.3h0m0 22.6h0m0 4.3h0m18.5-26.4h0m0 22.7h0m0 4.3h0" stroke="#6c3f0b" stroke-width="2.85"/>
<path d="M48.4 139.8h0m0 28.5h0m0 10.5h0m14.1-40.2h0m0 24.1h0m0 0.5h0m14.1-25.2h0m0 23h0m0 1.9h0m14.2-24.8h0m0 22.5h0m0 4.4h0m14.3-26.5h0m0 22.5h0m0 4.4h0m7.2-26.7h0m0 22.6h0m0 4.3h0m18-26.3h0m0 22.5h0m0 4.3h0m18-26.2h0m0 22.5h0m0 4.3h0m18.2-26.3h0m0 22.6h0m0 4.3h0m18.3-26.3h0m0 22.6h0m0 4.3h0m18.4-26.3h0m0 22.6h0m0 4.3h0m18.5-26.4h0m0 22.7h0m0 4.3h0" stroke="#f18c19"/>
<path d="M47 141.2h0m0 31.3h0m0 13.8h0m14.1-46.2h0m0 26.8h0m0 2h0m14.1-29.6h0m0.1 24.9h0m0 2.6h0m14.2-27.1h0m0 24.2h0m0 6h0m14.3-29.7h0m0 24.1h0m0 5.9h0m7.1-29.8h0m0.1 24.2h0m0 5.7h0m17.9-29.3h0m0.1 24.1h0m0 5.6h0m18-29.1h0m0 24.1h0m0 5.6h0m18.2-29.2h0m0 24.2h0m0 5.6h0m18.3-29.2h0m0 24.2h0m0 5.6h0m18.4-29.2h0m0 24.2h0m0 5.6h0m18.5-29.2h0m0 24.2h0m0 5.6h0" stroke="#6a2e0a" stroke-width="2.85"/>
<path d="M47 141.2h0m0 31.3h0m0 13.8h0m14.1-46.2h0m0 26.8h0m0 2h0m14.1-29.6h0m0.1 24.9h0m0 2.6h0m14.2-27.1h0m0 24.2h0m0 6h0m14.3-29.7h0m0 24.1h0m0 5.9h0m7.1-29.8h0m0.1 24.2h0m0 5.7h0m17.9-29.3h0m0.1 24.1h0m0 5.6h0m18-29.1h0m0 24.1h0m0 5.6h0m18.2-29.2h0m0 24.2h0m0 5.6h0m18.3-29.2h0m0 24.2h0m0 5.6h0m18.4-29.2h0m0 24.2h0m0 5.6h0m18.5-29.2h0m0 24.2h0m0 5.6h0" stroke="#eb6616"/>
<path d="M45.5 141.9h0m0.1 32.8h0m0 15.8h0m14.1-49.1h0m0 29.4h0m0 6.8h0m14.2-37h0m0 26.8h0m0 4.7h0m14.2-30.5h0m0 25.7h0m0 8.7h0m14.3-33.9h0m0 25.7h0m0 8.2h0m7.2-33.7h0m0 25.8h0m0 8h0m18-33.2h0m0 25.7h0m0 7.8h0m18.1-33h0m0 25.8h0m0 7.8h0m18.2-33h0m0 25.8h0m0.1 7.8h0m18.2-33h0m0.1 25.8h0m0 7.7h0m18.4-32.9h0m0 25.8h0m0 7.7h0m18.5-32.9h0m0 25.8h0m0 7.7h0" stroke="#68270a" stroke-width="2.85"/>
<path d="M45.5 141.9h0m0.1 32.8h0m0 15.8h0m14.1-49.1h0m0 29.4h0m0 6.8h0m14.2-37h0m0 26.8h0m0 4.7h0m14.2-30.5h0m0 25.7h0m0 8.7h0m14.3-33.9h0m0 25.7h0m0 8.2h0m7.2-33.7h0m0 25.8h0m0 8h0m18-33.2h0m0 25.7h0m0 7.8h0m18.1-33h0m0 25.8h0m0 7.8h0m18.2-33h0m0 25.8h0m0.1 7.8h0m18.2-33h0m0.1 25.8h0m0 7.7h0m18.4-32.9h0m0 25.8h0m0 7.7h0m18.5-32.9h0m0 25.8h0m0 7.7h0" stroke="#e75615"/>
<path d="M44.1 142.5h0m0 33.8h0m0.1 15.8h0m14.1-49.7h0m0 31.4h0m0 12.5h0m14.2-44.6h0m0 28.6h0m0 7.9h0m14.3-35h0m0 27.7h0m0 11.7h0m14.3-38.9h0m0 27.7h0m0 11h0m7.2-38.5h0m0 27.7h0m0 10.8h0m18-37.9h0m0 27.7h0m0 10.4h0m18.1-37.5h0m0 27.7h0m0 10.3h0m18.2-37.4h0m0.1 27.7h0m0 10.3h0m18.3-37.4h0m0 27.6h0m0 10.3h0m18.4-37.3h0m0 27.6h0m0 10.3h0m18.5-37.2h0m0 27.5h0m0 10.2h0" stroke="#651c09" stroke-width="2.85"/>
<path d="M44.1 142.5h0m0 33.8h0m0.1 15.8h0m14.1-49.7h0m0 31.4h0m0 12.5h0m14.2-44.6h0m0 28.6h0m0 7.9h0m14.3-35h0m0 27.7h0m0 11.7h0m14.3-38.9h0m0 27.7h0m0 11h0m7.2-38.5h0m0 27.7h0m0 10.8h0m18-37.9h0m0 27.7h0m0 10.4h0m18.1-37.5h0m0 27.7h0m0 10.3h0m18.2-37.4h0m0.1 27.7h0m0 10.3h0m18.3-37.4h0m0 27.6h0m0 10.3h0m18.4-37.3h0m0 27.6h0m0 10.3h0m18.5-37.2h0m0 27.5h0m0 10.2h0" stroke="#df3e15"/>
<path d="M42.7 143.1h0m0 34.5h0m0 15.8h0m14.2-50.3h0m0 32.7h0m0 15.8h0m14.2-48.8h0m0 30.2h0m0 11.2h0m14.3-39.8h0m0 30.5h0m0 13.4h0m14.3-43.5h0m0 30.6h0m0.1 12.5h0m7.1-42.8h0m0 30.5h0m0 12.2h0m18.1-42.2h0m0 30.5h0m0 11.7h0m18.1-41.5h0m0 30.4h0m0 11.6h0m18.2-41.4h0m0.1 30.4h0m0 11.6h0m18.3-41.4h0m0 30.4h0m0 11.5h0m18.4-41.2h0m0 30.3h0m0 11.4h0m18.5-41.1h0m0 30.3h0m0 11.4h0" stroke="#621509" stroke-width="2.85"/>
<path d="M42.7 143.1h0m0 34.5h0m0 15.8h0m14.2-50.3h0m0 32.7h0m0 15.8h0m14.2-48.8h0m0 30.2h0m0 11.2h0m14.3-39.8h0m0 30.5h0m0 13.4h0m14.3-43.5h0m0 30.6h0m0.1 12.5h0m7.1-42.8h0m0 30.5h0m0 12.2h0m18.1-42.2h0m0 30.5h0m0 11.7h0m18.1-41.5h0m0 30.4h0m0 11.6h0m18.2-41.4h0m0.1 30.4h0m0 11.6h0m18.3-41.4h0m0 30.4h0m0 11.5h0m18.4-41.2h0m0 30.3h0m0 11.4h0m18.5-41.1h0m0 30.3h0m0 11.4h0" stroke="#db2e14"/>
<path d="M41.3 143.6h0m0 34.8h0m0 15.9h0m14.2-50.6h0m0 33.7h0m0 16h0m14.2-49.8h0m0 31.6h0m0 14.2h0m14.3-44.2h0m0 33.6h0m0 11.9h0m14.4-45h0m0 33.6h0m0 10.7h0m7.2-44.1h0m0 33.7h0m0 10.2h0m18-43.3h0m0.1 33.6h0m0 9.6h0m18.1-42.6h0m0 33.5h0m0 9.5h0m18.2-42.3h0m0.1 33.4h0m0 9.4h0m18.3-42.2h0m0 33.4h0m0 9.3h0m18.4-42h0m0 33.3h0m0 9.3h0m18.5-42h0m0 33.3h0m0 9.2h0" stroke="#611209" stroke-width="2.85"/>
<path d="M41.3 143.6h0m0 34.8h0m0 15.9h0m14.2-50.6h0m0 33.7h0m0 16h0m14.2-49.8h0m0 31.6h0m0 14.2h0m14.3-44.2h0m0 33.6h0m0 11.9h0m14.4-45h0m0 33.6h0m0 10.7h0m7.2-44.1h0m0 33.7h0m0 10.2h0m18-43.3h0m0.1 33.6h0m0 9.6h0m18.1-42.6h0m0 33.5h0m0 9.5h0m18.2-42.3h0m0.1 33.4h0m0 9.4h0m18.3-42.2h0m0 33.4h0m0 9.3h0m18.4-42h0m0 33.3h0m0 9.3h0m18.5-42h0m0 33.3h0m0 9.2h0" stroke="#d82814"/>
<path d="M39.8 143.8h0m0.1 34.9h0m0 16h0m14.2-50.4h0m0 34.5h0m0 15.9h0m14.2-50.4h0m0.1 32.7h0m0 15.9h0m14.2-47.7h0m0.1 34.9h0m0 11.7h0m14.3-46.2h0m0 35h0m0.1 10.4h0m7.1-45.1h0m0.1 34.9h0m0 10h0m18-44.4h0m0 34.8h0m0 9.4h0m18.2-43.5h0m0 34.7h0m0 9.2h0m18.2-43.3h0m0.1 34.7h0m0 9.1h0m18.3-43.1h0m0 34.6h0m0 9h0m18.4-43h0m0 34.5h0m0 9h0m18.6-42.8h0m0 34.4h0m0 8.9h0" stroke="#601009" stroke-width="2.85"/>
<path d="M39.8 143.8h0m0.1 34.9h0m0 16h0m14.2-50.4h0m0 34.5h0m0 15.9h0m14.2-50.4h0m0.1 32.7h0m0 15.9h0m14.2-47.7h0m0.1 34.9h0m0 11.7h0m14.3-46.2h0m0 35h0m0.1 10.4h0m7.1-45.1h0m0.1 34.9h0m0 10h0m18-44.4h0m0 34.8h0m0 9.4h0m18.2-43.5h0m0 34.7h0m0 9.2h0m18.2-43.3h0m0.1 34.7h0m0 9.1h0m18.3-43.1h0m0 34.6h0m0 9h0m18.4-43h0m0 34.5h0m0 9h0m18.6-42.8h0m0 34.4h0m0 8.9h0" stroke="#d62414"/>
<path d="M38.4 143.4h0m0.1 34.9h0m0 16.6h0m14.1-50.1h0m0.1 34.9h0m0 16h0m14.2-50.8h0m0.1 33.7h0m0 16h0m14.3-50.3h0m0 35.9h0m0 11.8h0m14.4-47.3h0m0 36h0m0 10.4h0m7.2-46.2h0m0 36.1h0m0 9.9h0m18.1-45.4h0m0 35.9h0m0 9.2h0m18.2-44.4h0m0 35.8h0m0 9.1h0m18.2-44.3h0m0 35.8h0m0 9h0m18.4-44.1h0m0 35.6h0m0 9h0m18.4-44h0m0 35.6h0m0 8.9h0m18.6-43.8h0m0 35.5h0m0 8.8h0" stroke="#600f09" stroke-width="2.85"/>
<path d="M38.4 143.4h0m0.1 34.9h0m0 16.6h0m14.1-50.1h0m0.1 34.9h0m0 16h0m14.2-50.8h0m0.1 33.7h0m0 16h0m14.3-50.3h0m0 35.9h0m0 11.8h0m14.4-47.3h0m0 36h0m0 10.4h0m7.2-46.2h0m0 36.1h0m0 9.9h0m18.1-45.4h0m0 35.9h0m0 9.2h0m18.2-44.4h0m0 35.8h0m0 9.1h0m18.2-44.3h0m0 35.8h0m0 9h0m18.4-44.1h0m0 35.6h0m0 9h0m18.4-44h0m0 35.6h0m0 8.9h0m18.6-43.8h0m0 35.5h0m0 8.8h0" stroke="#d52114"/>
<path d="M37 142.4h0m0 34.8h0m0 17.6h0m14.2-49.8h0m0.1 35.1h0m0 16h0m14.2-50.6h0m0.1 34.5h0m0 16h0m14.3-53.7h0m0 37.1h0m0 12.3h0m14.4-48.9h0m0 37.1h0m0 10.9h0m7.2-47.8h0m0 37.1h0m0.1 10.5h0m18-47h0m0.1 36.9h0m0 9.8h0m18.1-46.1h0m0.1 36.9h0m0 9.7h0m18.2-45.9h0m0 36.8h0m0 9.5h0m18.4-45.7h0m0 36.7h0m0 9.5h0m18.4-45.5h0m0 36.6h0m0 9.4h0m18.6-45.3h0m0 36.5h0m0 9.3h0" stroke="#611109" stroke-width="2.85"/>
<path d="M37 142.4h0m0 34.8h0m0 17.6h0m14.2-49.8h0m0.1 35.1h0m0 16h0m14.2-50.6h0m0.1 34.5h0m0 16h0m14.3-53.7h0m0 37.1h0m0 12.3h0m14.4-48.9h0m0 37.1h0m0 10.9h0m7.2-47.8h0m0 37.1h0m0.1 10.5h0m18-47h0m0.1 36.9h0m0 9.8h0m18.1-46.1h0m0.1 36.9h0m0 9.7h0m18.2-45.9h0m0 36.8h0m0 9.5h0m18.4-45.7h0m0 36.7h0m0 9.5h0m18.4-45.5h0m0 36.6h0m0 9.4h0m18.6-45.3h0m0 36.5h0m0 9.3h0" stroke="#d72614"/>
<path d="M35.5 140.1h0m0.1 35.7h0m0 18.8h0m14.2-50.7h0m0.1 36h0m0 16.5h0m14.2-50.4h0m0.1 35h0m0 16h0m14.3-57.4h0m0 38.5h0m0 13.3h0m14.4-51.4h0m0.1 38.6h0m0 11.8h0m7.2-50.1h0m0 38.6h0m0 11.3h0m18.1-49.4h0m0 38.5h0m0 10.5h0m18.2-48.3h0m0 38.3h0m0 10.5h0m18.3-48.1h0m0 38.2h0m0 10.3h0m18.4-47.9h0m0 38.1h0m0 10.3h0m18.4-47.7h0m0.1 38h0m0 10.2h0m18.5-47.5h0m0 37.8h0m0 10.1h0" stroke="#621409" stroke-width="2.85"/>
<path d="M35.5 140.1h0m0.1 35.7h0m0 18.8h0m14.2-50.7h0m0.1 36h0m0 16.5h0m14.2-50.4h0m0.1 35h0m0 16h0m14.3-57.4h0m0 38.5h0m0 13.3h0m14.4-51.4h0m0.1 38.6h0m0 11.8h0m7.2-50.1h0m0 38.6h0m0 11.3h0m18.1-49.4h0m0 38.5h0m0 10.5h0m18.2-48.3h0m0 38.3h0m0 10.5h0m18.3-48.1h0m0 38.2h0m0 10.3h0m18.4-47.9h0m0 38.1h0m0 10.3h0m18.4-47.7h0m0.1 38h0m0 10.2h0m18.5-47.5h0m0 37.8h0m0 10.1h0" stroke="#da2d14"/>
<path d="M34.1 134.7h0m0 39.6h0m0.1 20h0m14.2-52.2h0m0 36.9h0m0.1 17.4h0m14.2-50.4h0m0.1 35.5h0m0 16h0m14.3-60.9h0m0.1 40.4h0m0 14h0m14.4-53.9h0m0 40.4h0m0 12.5h0m7.2-52.7h0m0 40.5h0m0 11.9h0m18.1-51.8h0m0.1 40.2h0m0 11.2h0m18.2-50.8h0m0 40.2h0m0 11h0m18.3-50.5h0m0 40h0m0 11h0m18.4-50.3h0m0 39.8h0m0 11h0m18.4-50.1h0m0.1 39.7h0m0 10.8h0m18.5-49.8h0m0 39.5h0m0 10.8h0" stroke="#641809" stroke-width="2.85"/>
<path d="M34.1 134.7h0m0 39.6h0m0.1 20h0m14.2-52.2h0m0 36.9h0m0.1 17.4h0m14.2-50.4h0m0.1 35.5h0m0 16h0m14.3-60.9h0m0.1 40.4h0m0 14h0m14.4-53.9h0m0 40.4h0m0 12.5h0m7.2-52.7h0m0 40.5h0m0 11.9h0m18.1-51.8h0m0.1 40.2h0m0 11.2h0m18.2-50.8h0m0 40.2h0m0 11h0m18.3-50.5h0m0 40h0m0 11h0m18.4-50.3h0m0 39.8h0m0 11h0m18.4-50.1h0m0.1 39.7h0m0 10.8h0m18.5-49.8h0m0 39.5h0m0 10.8h0" stroke="#df3614"/>
<path d="M32.6 130.1h0m0.1 42.4h0m0 21h0m14.3-54.4h0m0 38.7h0m0 18.5h0m14.3-52.8h0m0.1 37.7h0m0 16h0m14.3-63.7h0m0.1 42.2h0m0 14.9h0m14.4-56.7h0m0 42.3h0m0 13.2h0m7.2-55.3h0m0.1 42.4h0m0 12.6h0m18.1-54.4h0m0 42.1h0m0 11.8h0m18.2-53.2h0m0.1 41.9h0m0 11.8h0m18.3-53h0m0 41.7h0m0 11.7h0m18.4-52.8h0m0 41.7h0m0 11.5h0m18.4-52.5h0m0 41.5h0m0.1 11.5h0m18.5-52.3h0m0 41.4h0m0 11.3h0" stroke="#67200a" stroke-width="2.85"/>
<path d="M32.6 130.1h0m0.1 42.4h0m0 21h0m14.3-54.4h0m0 38.7h0m0 18.5h0m14.3-52.8h0m0.1 37.7h0m0 16h0m14.3-63.7h0m0.1 42.2h0m0 14.9h0m14.4-56.7h0m0 42.3h0m0 13.2h0m7.2-55.3h0m0.1 42.4h0m0 12.6h0m18.1-54.4h0m0 42.1h0m0 11.8h0m18.2-53.2h0m0.1 41.9h0m0 11.8h0m18.3-53h0m0 41.7h0m0 11.7h0m18.4-52.8h0m0 41.7h0m0 11.5h0m18.4-52.5h0m0 41.5h0m0.1 11.5h0m18.5-52.3h0m0 41.4h0m0 11.3h0" stroke="#e44816"/>
<path d="M31.2 125.8h0m0 44.3h0m0.1 21.7h0m14.2-57.6h0m0.1 41h0m0 19.5h0m14.3-53.5h0m0.1 38.8h0m0 16.1h0m14.3-64.2h0m0.1 42.9h0m0 15.1h0m14.4-57.6h0m0 43h0m0.1 13.3h0m7.2-56.1h0m0 43h0m0 12.8h0m18.1-55.2h0m0.1 42.7h0m0 11.9h0m18.2-53.9h0m0 42.6h0m0 11.8h0m18.3-53.8h0m0.1 42.5h0m0 11.7h0m18.4-53.5h0m0 42.3h0m0 11.6h0m18.4-53.2h0m0 42.1h0m0 11.6h0m18.6-53h0m0 42h0m0 11.4h0" stroke="#68290b" stroke-width="2.85"/>
<path d="M31.2 125.8h0m0 44.3h0m0.1 21.7h0m14.2-57.6h0m0.1 41h0m0 19.5h0m14.3-53.5h0m0.1 38.8h0m0 16.1h0m14.3-64.2h0m0.1 42.9h0m0 15.1h0m14.4-57.6h0m0 43h0m0.1 13.3h0m7.2-56.1h0m0 43h0m0 12.8h0m18.1-55.2h0m0.1 42.7h0m0 11.9h0m18.2-53.9h0m0 42.6h0m0 11.8h0m18.3-53.8h0m0.1 42.5h0m0 11.7h0m18.4-53.5h0m0 42.3h0m0 11.6h0m18.4-53.2h0m0 42.1h0m0 11.6h0m18.6-53h0m0 42h0m0 11.4h0" stroke="#e75a19"/>
<path d="M29.7 121.8h0m0.1 45.4h0m0 22.3h0m14.3-62.2h0m0 43.6h0m0.1 20.4h0m14.3-61h0m0 43h0m0.1 17.9h0m14.3-59.8h0m0.1 43h0m0 14.8h0m14.4-57.4h0m0.1 43.1h0m0 12.8h0m7.2-55.6h0m0 43h0m0 12.3h0m18.2-54.8h0m0 42.8h0m0 11.3h0m18.3-53.4h0m0 42.7h0m0 11.1h0m18.3-53.1h0m0 42.5h0m0 11h0m18.4-52.8h0m0 42.3h0m0.1 11h0m18.4-52.6h0m0 42.1h0m0 10.9h0m18.6-52.4h0m0 42.1h0m0 10.7h0" stroke="#6a350e" stroke-width="2.85"/>
<path d="M29.7 121.8h0m0.1 45.4h0m0 22.3h0m14.3-62.2h0m0 43.6h0m0.1 20.4h0m14.3-61h0m0 43h0m0.1 17.9h0m14.3-59.8h0m0.1 43h0m0 14.8h0m14.4-57.4h0m0.1 43.1h0m0 12.8h0m7.2-55.6h0m0 43h0m0 12.3h0m18.2-54.8h0m0 42.8h0m0 11.3h0m18.3-53.4h0m0 42.7h0m0 11.1h0m18.3-53.1h0m0 42.5h0m0 11h0m18.4-52.8h0m0 42.3h0m0.1 11h0m18.4-52.6h0m0 42.1h0m0 10.9h0m18.6-52.4h0m0 42.1h0m0 10.7h0" stroke="#ec761e"/>
<path d="M29.8 189.5L62.9 193.3M29.8 167.2L62.9 174.1M29.7 121.8L62.8 131.1" stroke="#999" stroke-width=".4"/>
<path d="M35.3 197.3h0m0.2 3.1h0m0.2 3.2h0m0.2 3.1h0m0.3 2.8h0m12.7-11.7h0m0.2 3.1h0m0.3 3.2h0m0.2 3.1h0m0.2 2.8h0m11.6-11.7h0m0.3 3.1h0m0.2 3.1h0m0.2 3.2h0m0.2 2.8h0" stroke="#5a0c06" stroke-width="2.85"/>
<path d="M35.3 197.3h0m0.2 3.1h0m0.2 3.2h0m0.2 3.1h0m0.3 2.8h0m12.7-11.7h0m0.2 3.1h0m0.3 3.2h0m0.2 3.1h0m0.2 2.8h0m11.6-11.7h0m0.3 3.1h0m0.2 3.1h0m0.2 3.2h0m0.2 2.8h0" stroke="#d8281a"/>
<path d="M58.9 192.7h0m0.4 1.3h0m0.3 1.2h0m0.4 0.9h0m-1.1-20.8h0m0.3 1.9h0m0.4 1.6h0m0.4 1.2h0m-1.2-46.2h0m0.4 3h0m0.4 2.6h0m0.3 1.8h0m-15.4 51h0m0.4 0.9h0m0.3 0.8h0m0.4 0.8h0m0.4 0.6h0m0.3 0.5h0m-1.8-23.8h0m0.4 1.1h0m0.3 1.1h0m0.4 1h0m0.3 0.9h0m0.4 0.8h0m-1.9-47.7h0m0.4 1.8h0m0.4 1.7h0m0.3 1.5h0m0.4 1.4h0m0.3 1.3h0m-16 53.2h0m0.3 0.6h0m0.4 0.6h0m0.4 0.5h0m0.3 0.5h0m0.4 0.5h0m0.4 0.4h0m0.3 0.3h0m0.4 0.3h0m-2.9-25.9h0m0.3 0.8h0m0.4 0.7h0m0.3 0.7h0m0.4 0.6h0m0.4 0.7h0m0.3 0.6h0m0.4 0.5h0m0.4 0.5h0m-3-50.2h0m0.4 1h0m0.3 1h0m0.4 1h0m0.3 1.1h0m0.4 1h0m0.4 1.1h0m0.3 1.1h0m0.4 1.1h0" stroke="#0a0606" stroke-width="2.85"/></g>
<g fill="#1c1c1c"><text transform="translate(17.1 212.4) rotate(90)" text-anchor="middle" font-size="7">0</text>
<text transform="translate(17 180.5) rotate(90)" text-anchor="middle" font-size="7">50</text>
<text transform="translate(17 148.5) rotate(90)" text-anchor="middle" font-size="7">100</text>
<text transform="translate(16.9 116.6) rotate(90)" text-anchor="middle" font-size="7">150</text>
<text transform="translate(16.9 84.7) rotate(90)" text-anchor="middle" font-size="7">200</text>
<text transform="translate(16.9 52.7) rotate(90)" text-anchor="middle" font-size="7">250</text>
<text transform="translate(16.8 20.8) rotate(90)" text-anchor="middle" font-size="7">300</text>
<text transform="translate(7.4 118.5) rotate(90)" text-anchor="middle" font-size="9.4">Natural frequency (kHz)</text>
<text x="168" y="223.1" text-anchor="middle" font-size="6">25</text>
<text x="131.2" y="221.7" text-anchor="middle" font-size="6">50</text>
<text x="94.8" y="220.3" text-anchor="middle" font-size="6">75</text>
<text x="58.6" y="219" text-anchor="middle" font-size="6">100</text>
<text x="112.6" y="230.6" text-anchor="middle" font-size="8.6"><tspan font-style="italic">V</tspan><tspan font-size="4.6" dy="1.6" font-style="italic">PP</tspan><tspan dy="-1.6"> (V)</tspan></text>
<text transform="translate(205.9 224.3) rotate(-20)" text-anchor="middle" font-size="6">0</text>
<text transform="translate(218.8 219.6) rotate(-20)" text-anchor="middle" font-size="6">100</text>
<text transform="translate(231.4 215) rotate(-20)" text-anchor="middle" font-size="6">200</text>
<text transform="translate(243.7 210.5) rotate(-20)" text-anchor="middle" font-size="6">300</text>
<text transform="translate(255.7 206.2) rotate(-20)" text-anchor="middle" font-size="6">400</text>
<text transform="translate(267.4 201.9) rotate(-20)" text-anchor="middle" font-size="6">500</text>
<text transform="translate(241.4 220.4) rotate(-20)" text-anchor="middle" font-size="8.6"><tspan font-style="italic">V</tspan><tspan font-size="4.6" dy="1.6" font-style="italic">TT</tspan><tspan dy="-1.6"> (V)</tspan></text></g>
<text y="245.8" font-size="10.3" fill="#1c1c1c"><tspan x="104.4" font-weight="bold">(c)</tspan><tspan x="118.4" font-style="italic">b</tspan><tspan font-size="7" dy="1.9">0</tspan><tspan dy="-1.9" x="131.6">=</tspan><tspan x="142.6">4.5</tspan><tspan x="156.6">µm</tspan></text>

</g>
</svg>
</body></html>
